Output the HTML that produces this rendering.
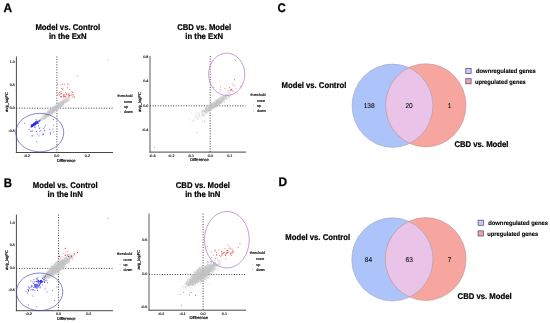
<!DOCTYPE html><html><head><meta charset="utf-8"><title>Figure</title>
<style>html,body{margin:0;padding:0;background:#fff}body{width:550px;height:323px;overflow:hidden}svg{display:block}text{font-family:"Liberation Sans",sans-serif;fill:#000;text-rendering:geometricPrecision}.b{font-weight:bold}.t{font-size:8.35px;font-weight:bold;text-anchor:middle;stroke:#000;stroke-width:0.22px}.p{font-size:12.4px;font-weight:bold;stroke:#000;stroke-width:0.25px}.s{font-size:3.65px;fill:#000;stroke:#000;stroke-width:0.15px}.a{font-size:4.1px;fill:#000;stroke:#000;stroke-width:0.18px}.n{font-size:7.05px;text-anchor:middle;fill:#111;stroke:#111;stroke-width:0.12px}.l{font-size:6.2px;font-weight:bold;stroke:#000;stroke-width:0.12px}</style></head><body>
<svg width="550" height="323" viewBox="0 0 550 323">
<rect width="550" height="323" fill="#fff"/>
<text class="p" transform="translate(3.4 12) scale(0.96 1)">A</text>
<text class="t" transform="translate(67.8 29.9) scale(0.925 1)">Model vs. Control</text><text class="t" transform="translate(67.8 38.9) scale(0.925 1)">in the ExN</text>
<path d="M16.4 56.5V152.9" stroke="#333" stroke-width="0.9" fill="none"/>
<path d="M15.9 152.5H113.0" stroke="#333" stroke-width="0.9" fill="none"/>
<g stroke="#2a2a2a" stroke-width="0.85" stroke-dasharray="1.05 1.52" fill="none"><path d="M56.9 56.5V152.5"/><path d="M16.4 108.2H112.8"/></g>
<text class="s" x="27.0" y="157.1" text-anchor="middle">-0.2</text>
<text class="s" x="56.7" y="157.1" text-anchor="middle">0.0</text>
<text class="s" x="87.4" y="157.1" text-anchor="middle">0.2</text>
<text class="s" x="14.8" y="62.5" text-anchor="end">1.0</text>
<text class="s" x="14.8" y="85.8" text-anchor="end">0.5</text>
<text class="s" x="14.8" y="108.8" text-anchor="end">0.0</text>
<text class="s" x="14.8" y="132.0" text-anchor="end">-0.5</text>
<text class="a" x="66.3" y="161.5" text-anchor="middle">Difference</text>
<text class="a" transform="translate(8.4 102.0) rotate(-90)" text-anchor="middle">avg_logFC</text>
<text class="s" x="117.6" y="96.9">threshold</text>
<circle cx="120.5" cy="101.7" r="0.45" fill="#ccc"/>
<text class="s" x="124.0" y="103.0">none</text>
<circle cx="120.5" cy="106.8" r="0.45" fill="#e8524a"/>
<text class="s" x="124.0" y="108.1">up</text>
<circle cx="120.5" cy="112.0" r="0.45" fill="#5a5ae0"/>
<text class="s" x="124.0" y="113.3">down</text>
<path d="M53 111.1h0M52.6 110.1h0M47.5 114.2h0M63 103.2h0M62.3 103.5h0M57.5 107.1h0M42.9 119.4h0M58.6 106.7h0M40.7 116.9h0M47.6 113.7h0M56.7 107.3h0M57.8 105.5h0M57.1 107.8h0M51 114.6h0M59.5 107.2h0M49.4 111.9h0M51.9 110.9h0M59.3 105.8h0M50.5 110.7h0M51.6 113.3h0M48.8 113.9h0M56.5 105.1h0M55.9 110.2h0M39.4 120.2h0M53.1 108.9h0M58.1 106.2h0M44.4 118.3h0M60.2 106.3h0M65.4 101.3h0M54.3 107.1h0M58.5 105h0M50.2 110.4h0M47 114h0M62.4 99.7h0M44 117.6h0M65.6 101.5h0M38.5 117.3h0M56.5 106.3h0M47 116.5h0M62.7 103h0M56.7 108.2h0M66.7 100.7h0M58.7 106.7h0M44 119.3h0M61.9 104.2h0M39.5 119.6h0M59.3 102.5h0M54 111.2h0M46.1 118.2h0M58.4 105.8h0M57.4 107.9h0M56.3 109.6h0M49.3 112.4h0M62.2 103.2h0M48.8 115.1h0M64.9 100.3h0M44.3 116.8h0M53.2 109.6h0M64 100.1h0M62.8 100.6h0M49.2 114.2h0M63.5 103.6h0M57.2 107.3h0M56.1 108.8h0M53.4 110.4h0M58.7 105.9h0M60.6 105.4h0M69.5 98h0M51.1 111.1h0M55.1 110.1h0M52.3 111.4h0M66 96h0M46.4 115.7h0M57.6 107.1h0M51.9 112.2h0M56.2 107h0M56.7 106.5h0M53.6 109.4h0M51.9 106.6h0M51.7 112.9h0M45.9 115.7h0M62.2 104.6h0M64.1 98.9h0M51.6 110.8h0M59.9 106.7h0M61.4 101.4h0M58.3 103.7h0M56.7 109.3h0M53.6 110.1h0M60.5 104.7h0M55.1 111.2h0M62 102.9h0M46.8 116.5h0M52.7 110.7h0M59.9 105.3h0M58 103.9h0M43.9 118.3h0M46.6 113.5h0M44.7 118.7h0M61.2 106.4h0M47.6 114.4h0M46.7 116.4h0M65.5 99.2h0M66.8 101.3h0M51.6 108.1h0M64.8 101h0M50.4 112.9h0M58.7 108.3h0M47.9 116.1h0M66.6 102.2h0M52.6 109.4h0M62.1 103.4h0M56.5 109.9h0M50.7 108.2h0M50.2 109.4h0M60.8 104.8h0M50 112.6h0M60.7 104.5h0M64.2 101.5h0M63.3 104.7h0M65.8 99.3h0M59.5 102.2h0M45 113.2h0M61.4 101.8h0M54.3 109h0M53.8 108.7h0M57.6 109.6h0M55.2 109.4h0M61.7 103.2h0M44.8 115.7h0M61.1 101.3h0M50.9 113.5h0M60.3 104.6h0M60.6 104.7h0M44.6 114.2h0M50.5 113.7h0M49.6 111.4h0M47.6 111.9h0M52.7 108.6h0M55.3 104.6h0M56.4 106.6h0M40.8 120.9h0M50.7 108.4h0M48.3 114.4h0M51.7 112.5h0M60.5 105.5h0M58 108.6h0M59.7 105.8h0M39.9 121.8h0M63.9 101.4h0M52.6 113.8h0M42 119.6h0M48.2 115.1h0M68.3 98.3h0M59.3 106.8h0M47.8 114.1h0M57.3 108.3h0M54.1 109.1h0M46.7 114.5h0M61.1 104.1h0M47.6 113.1h0M63.4 103.3h0M59.4 106.1h0M67.2 100h0M54.4 110h0M41 121.2h0M56.3 106.5h0M65.7 103.4h0M43.7 116.4h0M56.8 107.6h0M50.8 110.4h0M70.9 98.1h0M44.7 114.5h0M67.8 100.5h0M68.5 99.6h0M48.3 114.3h0M38 120.6h0M54.5 110h0M49.1 113.1h0M58.2 106.9h0M59.4 105.7h0M52.7 111.7h0M54.2 108h0M49.9 112.6h0M53.8 109.9h0M54.6 109.3h0M52.5 108.6h0M58.4 107.8h0M57.5 106.4h0M57 105.6h0M40.6 119.9h0M48.2 115.1h0M44.4 112.5h0M48.1 116.6h0M50.6 109.9h0M49.3 114h0M58.3 106.5h0M66 101.4h0M54.8 109.8h0M67.4 100.7h0M61.2 102.2h0M54 110.7h0M53.2 111.9h0M59.6 106.7h0M55 112.9h0M63.4 101.8h0M57.2 111.3h0M52.7 111.9h0M61.7 103.5h0M46.1 115.9h0M58 108.2h0M60.3 104.7h0M61.2 104.8h0M56.1 108h0M53.3 111.2h0M46.3 114.4h0M53.4 107.6h0M49.7 109.5h0M49.9 113.6h0M58.6 105.8h0M51.7 109h0M68.3 99.3h0M61.8 102h0M51.7 108.3h0M61 105.6h0M40.5 119.8h0M57.7 103.7h0M40.2 118.4h0M48.8 111.2h0M54.9 109.2h0M59.7 106.2h0M66.5 101.8h0M44.5 116h0M45.9 114h0M53.9 109.6h0M56.8 104.7h0M45.4 116.1h0M52.8 109.9h0M53.4 108.7h0M59.9 105.5h0M53.3 108.9h0M51.1 107.3h0M47.3 114.7h0M43.6 117.8h0M54.5 106.8h0M52.4 110.2h0M58.4 107.1h0M53.6 108.4h0M53.4 109.9h0M60.1 105.2h0M48.1 111.8h0M51.2 110.5h0M46.2 115.3h0M51 112h0M58 105.7h0M71.3 95.6h0M62.7 103h0M60.8 100.3h0M49.2 113.6h0M60.8 108.1h0M57.9 108.6h0M60.9 105.7h0M58.1 106h0M57.4 105.1h0M62.4 101.4h0M58 109.9h0M52.9 110.4h0M63.1 102.5h0M48.8 113.9h0M59.3 106.5h0M50.2 115.3h0M66.8 99.7h0M56.1 107.1h0M64.3 100.4h0M59.1 104.8h0M50 113.8h0M64.3 101.5h0M50.2 113.8h0M54.4 109.7h0M66.6 101.6h0M52.5 114.4h0M55.1 109.9h0M49.7 112.7h0M43.1 120.9h0M63.6 100.1h0M42.1 116h0M62.8 102h0M53.8 109.1h0M52.7 108.7h0M53.5 107.5h0M54.2 109.8h0M57.8 106.2h0M48 114.4h0M52.2 113.5h0M60.1 104.6h0M50.5 111h0M47.3 114.1h0M57.1 108h0M60.3 108h0M49.3 113.1h0M40.4 119.1h0M55.9 108.3h0M57.3 106.5h0M57.2 107.1h0M58.7 102.8h0M48 114.1h0M46.1 113.9h0M58.6 104.9h0M59.8 106.3h0M57.2 107.9h0M52.6 108.2h0M54.6 109.7h0M50.5 112h0M59.3 103.9h0M60.7 107.4h0M50.5 112.4h0M54.6 111.5h0M57.5 108.2h0M49.4 113h0M53 107.3h0M65.8 101.9h0M42.2 119.8h0M53.9 110.3h0M56 105.5h0M54.1 111.8h0M49.5 111.3h0M43.5 115.6h0M58.3 108.9h0M57.9 106.9h0M70.5 95.9h0M50 113.5h0M57.7 104.9h0M46.1 116h0M55.3 106.4h0M52.6 109.7h0M57.8 106.4h0M53.6 109.2h0M63.3 104.6h0M52.5 112.1h0M49 113.5h0M61.2 106.4h0M51.6 111.2h0M54.8 106.4h0M54.1 108.3h0M56.3 105.8h0M40 120.3h0M56 107.1h0M60.8 103.8h0M50.4 113h0M42.4 117.3h0M55 110.1h0M53.5 110.3h0M49.9 113.1h0M66.2 99h0M71.4 95h0M54.8 109.2h0M61 102h0M39.5 121.6h0M60.8 105.2h0M56.2 108.2h0M61.6 104.2h0M65.7 98.4h0M49 107.7h0M60.2 104.1h0M63 106.1h0M54.3 108.9h0M50.2 111.1h0M50.4 113.3h0M54.8 109h0M54 111h0M58 106.2h0M59.3 105.2h0M47.2 117.1h0M57.2 105.5h0M62.7 103.3h0M44.3 119.6h0M57.7 108.1h0M55.8 107.8h0M43.9 118.9h0M54.5 108.6h0M57.1 107.2h0M59.2 104.9h0M52.5 107.1h0M51.9 112.2h0M64 101.1h0M54.9 111.4h0M52.7 111.7h0M66.9 99.6h0M63 101.4h0M56 107.8h0M56.2 109.6h0M49.2 112.3h0M57.3 105.2h0M58.6 106.9h0M52.9 111.2h0M43.7 118.7h0M42.6 117.1h0M50.1 111.8h0M60.9 104.3h0M52 111.9h0M66.1 100.1h0M58.2 108.3h0M55.4 106.3h0M69.2 94.5h0M54.5 109.8h0M62.1 104.3h0M51.7 109.6h0M56.1 109.6h0M45.7 114.2h0M52.8 107.2h0M52.2 110.1h0M57.3 105.8h0M47.7 113.7h0M53.6 108.7h0M55.2 109.8h0M64.6 104.1h0M48.4 113.1h0M67.9 97.6h0M54.7 109.8h0M44.9 117.3h0M52.9 107.4h0M57.6 108.7h0M41.4 120.5h0M56.4 108.4h0M58.8 107.9h0M53.5 111.3h0M52.1 112.2h0M48.4 113.6h0M67.6 99.7h0M52.4 108.8h0M48.8 113.8h0M61.7 104.2h0M58.3 106.1h0M64.1 101h0M51.2 113.1h0M54.7 108.5h0M50.1 112.1h0M59.4 105.9h0M45.9 116.4h0M55 107.1h0M60 104.4h0M52.7 111.8h0M63.7 100.9h0M57 105.7h0M71.1 95.5h0M62.8 101.7h0M62.2 106.8h0M51.7 112.1h0M53.3 108.9h0M70.4 97h0M43.1 119.3h0M42.8 120h0M50.4 112.5h0M63.9 102.1h0M42.9 115.2h0M63.8 103.2h0M49.2 114.6h0M58.7 107h0M37.7 121.6h0M61.7 104.7h0M59 101.6h0M56.1 108.6h0M47.2 114.2h0M55.5 109.8h0M52.2 112.8h0M48.9 113.8h0M50.7 112.3h0M48.2 111.4h0M62.8 103.2h0M50.6 112.5h0M61 102.5h0M54.1 110.3h0M58.1 105.8h0M40 122.3h0M56.9 107.3h0M52.7 111h0M50.6 110.5h0M48.6 112.7h0M49.1 111.4h0M58.1 104.1h0M58.5 104.3h0M58.2 108.5h0M55.4 107.2h0M55 109h0M41.3 118.3h0M55.3 107.7h0M55.7 109.4h0M60.9 105.7h0M58.6 105.5h0M54.1 108.9h0M52.1 110.7h0M41.6 118.5h0M53.5 108.2h0M54.7 109.8h0M54.9 112.2h0M51.5 108.4h0M63.8 106.3h0M55.9 108.9h0M52.7 111.4h0M38.7 122.7h0M57.3 107h0M50.7 113.1h0M51.1 112.1h0M49 109.7h0M54.4 109.5h0M59.3 103.9h0M54.7 109.9h0M56.6 109.6h0M68.4 96.9h0M41.1 120.9h0M66.5 101.4h0M60 103.8h0M50 114.1h0M46.4 112.4h0M49.1 117.3h0M68.1 97.5h0M49.3 113.5h0M50 114.7h0M53.1 108.4h0M63.7 101.1h0M56.1 107.8h0M52.4 111.2h0M47.9 111.1h0M37.3 120.3h0M48.9 113.4h0M55.3 109.4h0M54.8 107.6h0M47.6 110.9h0M53.6 110.6h0M58.3 106h0M54 111.1h0M55.2 109.8h0M59 106h0M63.6 101.1h0M51.2 110.3h0M49.9 115.2h0M67.4 99.1h0M59.6 107.1h0M61.4 105.8h0M44.7 115.6h0M59 108h0M54.6 107.6h0M51.4 110.4h0M49.4 115.5h0M49.9 112.7h0M71.3 98.1h0M56.5 106.6h0M58.8 108.4h0M60.1 106.9h0M55.6 109.1h0M53.4 110.7h0M62.9 100.3h0M54.2 109.7h0M50.1 112h0M61.9 106.7h0M59.4 105.9h0M44.6 119.9h0M55 108.6h0M46.2 115.4h0M46.5 115.4h0M58 106.5h0M55.9 106.6h0M64.5 100.3h0M41 119.2h0M48.1 112.4h0M52.1 111.4h0M45.7 115.7h0M65.5 101.7h0M53.5 110.1h0M53.6 109.7h0M59.8 104.9h0M53.6 108.3h0M58.8 104.8h0M57.3 110.5h0M45.9 113.9h0M42.2 114.6h0M41 120.1h0M48.3 110.8h0M44.1 118.1h0M48.5 113.1h0M58 108.6h0M69.6 99.2h0M55.7 108.5h0M68.9 100.4h0M52.6 111.3h0M56.7 107.5h0M49.8 110.6h0M49.3 110.5h0M63.9 102.7h0M46.7 117.4h0M59.5 102.1h0M68.7 99.5h0M68.7 96.1h0M58.7 106.5h0M56.1 108.1h0M61.1 101.6h0M44.3 114.7h0M49.9 111.6h0M57.4 107.3h0M54.2 108.2h0M52 112.6h0M60.2 104.9h0M53.4 112.5h0M50.6 113.1h0M62.8 102.3h0M59.7 103.3h0M62.1 103.6h0M43.4 118.8h0M49 115.5h0M49.4 112.8h0M56.3 107.2h0M56 107.1h0M59.4 105.3h0M53.9 105.1h0M63.1 102.5h0M41.5 119.3h0M58.8 107.6h0M47.8 116.8h0M55.2 112.5h0M54 110.6h0M50.9 110h0M63.3 103.8h0M66.5 101.3h0M49 110.6h0M49.2 112.1h0M49 114.3h0M56.7 107h0M55.7 108h0M56.7 108.7h0M61 103h0M44.6 119.1h0M56.2 109.6h0M42.2 118.1h0M53.6 107.5h0M51.3 112.8h0M63.7 104.6h0M47 112.6h0M59.1 107.1h0M54.9 106.7h0M60.9 105.5h0M58.2 105.5h0M57.4 108.2h0M48.9 110.4h0M57.3 107.7h0M55.3 109.9h0M50.1 112.3h0M52.7 111.4h0M66 99.8h0M70.8 99h0M60.8 105.2h0M67.4 98.9h0M52.8 108.6h0M59 107.8h0M58.7 106.5h0M53.2 110.4h0M44.9 118.3h0M50.6 110.3h0M48.3 112.5h0M61.6 105.3h0M45.3 117.8h0M60.6 103.5h0M43 116.8h0M50.1 113h0M50.3 109h0M55 106.2h0M60.2 102.7h0M48.7 112.1h0M51.5 113.5h0M61.2 104.9h0M55.6 105.7h0M50.2 111.5h0M47.7 115.2h0M48.5 112.6h0M45.2 112.9h0M59.9 107.1h0M55 107.1h0M56.7 109.4h0M57.4 108.4h0M66.3 101.9h0M52.1 112.7h0M59 103.1h0M50.4 109.9h0M54.2 110.3h0M45 113h0M64.3 102.1h0M64.3 99.4h0M63.9 105.2h0M69.1 97.5h0M56.4 107.4h0M62.7 104.5h0M54.1 107.2h0M59.6 104.4h0M59.3 105.8h0M67.3 101.1h0M51.5 112h0M67 98.5h0M58.6 107.9h0M64.1 102.5h0M43.8 115.3h0M56.6 108.1h0M49.1 115.2h0M58.8 103h0M48.6 113.9h0M50.7 111.7h0M57.3 105.6h0M57.4 105.8h0M50.9 112.7h0M50.5 112.6h0M66.3 100.1h0M54 110.7h0M52.7 112.3h0M45.6 117h0M50.1 111.2h0M66.8 98.2h0M67.9 99.8h0M64.4 99.9h0M64.5 103.8h0M53.5 109.6h0M55.5 107.7h0M50.2 113.1h0M57.1 107.4h0M66.9 99h0M59.1 107.9h0M47.9 115.9h0M66.9 97.3h0M45.6 114.3h0M41.3 120h0M41.3 120.1h0M63.9 99.2h0M50.7 108.9h0M59.6 103.9h0M52.6 110.7h0M58.2 105.7h0M54.2 108.5h0M54.4 107.2h0M53.4 106.8h0M52.4 113.9h0M54.1 107.4h0M55.6 106.6h0M41.8 117.7h0M60.2 105.3h0M53.1 108.7h0M47.6 116.6h0M55.5 106.7h0M37.9 119.7h0M46 115.5h0M55.9 107.7h0M51.4 109.3h0M48.1 116.8h0M49.6 114.3h0M41.8 118.4h0M57.2 108.7h0M46.7 116.1h0M56.8 106.2h0M57.3 105.5h0M48.6 113.6h0M52.9 108.7h0M43.4 117h0M59.8 104.4h0M62.9 100.7h0M46.1 118.1h0M58.2 107.8h0M49.1 114.6h0M56.9 108.3h0M55.6 110.2h0M49 111.8h0M44.6 118.7h0M48.2 112.2h0M47.2 114h0M44.9 116h0M49.5 112.1h0M47.5 114.6h0M51.2 111.8h0M56.6 108h0M38 121h0M49.3 114.4h0M42.3 117.3h0M52.1 110.4h0M61.4 103h0M60.4 102.1h0M42.1 120.6h0M58.1 107.1h0M55.8 108.9h0M46.3 117h0M51.4 113.1h0M53.6 106.6h0M45.9 117.6h0M53.2 109.5h0M55.9 107.3h0M50.6 112.3h0M56.8 109.8h0M56.3 110.8h0M69.1 100.6h0M62.4 103.2h0M55.4 108.2h0M49.1 113.2h0M51.1 114.4h0M58.1 105.6h0M40.4 119.9h0M50.6 110.3h0" stroke="#c4c4c4" stroke-opacity="0.35" stroke-width="1.0" stroke-linecap="round" fill="none"/>
<path d="M47.7 111.9h0M58.4 106.1h0M55 108.6h0M63.4 102.5h0M56 107.6h0M52.7 112.3h0M61.8 105.5h0M53.3 110.1h0M50.9 113.1h0M47.8 115h0M62.1 104.9h0M50.6 113.4h0M50.9 111.1h0M48.5 115.1h0M64.1 101.1h0M50.8 111.6h0M60.5 103.9h0M44.9 115.8h0M62.9 104.8h0M53.4 109.2h0M51.4 109.4h0M59.7 103.9h0M60.2 102.8h0M48.3 114.2h0M51.4 112.4h0M54.7 107.7h0M59.2 106.5h0M45.6 118.1h0M58.4 107h0M44.5 116.1h0M53.9 110.9h0M46.6 114.2h0M43.8 117.1h0M56.2 105.9h0M52.2 111.5h0M64.4 102.3h0M52.9 109.1h0M49.7 112.1h0M56 107.9h0M64.7 101.7h0M50.1 114.3h0M60.6 104.6h0M50.2 110.4h0M50.1 113.6h0M50.1 111.1h0M56.5 107.9h0M59 106.5h0M62.6 102h0M60.2 103.7h0M59.2 105.8h0M57.1 108.2h0M55.8 109.5h0M60.2 104.9h0M51.7 110.5h0M52.2 110.7h0M56.7 110.8h0M59.2 106.4h0M50.1 111.8h0M53.6 110.1h0M50.4 114.2h0M52.7 111.8h0M42.2 118.6h0M56.9 107.5h0M58.8 106.2h0M55.1 106.6h0M50 110h0M58.9 106.1h0M53.7 108.9h0M53 112.4h0M64.9 101.1h0M61.5 101.9h0M44.2 116.5h0M50.1 111.9h0M58 110h0M51.6 111.5h0M56.8 107.4h0M61.4 105.9h0M48.4 114h0M54 110h0M45.8 113.9h0M42.6 118.9h0M56.4 107.8h0M41.9 118.5h0M50.3 110.8h0M50.5 113h0M58.3 106.3h0M57.8 106h0M55.7 108.3h0M58.3 106.2h0M54.4 109.1h0M52.9 113h0M58.3 106.7h0M68.8 99.8h0M47 115.8h0M60.9 106.4h0M63 103.5h0M48.2 113h0M57 107.8h0M49.4 112.7h0M53.1 110.4h0M57 107h0M49 114.8h0M64.1 101.7h0M61.2 104.5h0M59.2 106.1h0M51.3 112.3h0M60.4 103.6h0M67.3 101.7h0M66.5 102.2h0M59.2 105.2h0M51.5 110.6h0M55.9 108.1h0M57.9 104.3h0M69.4 100.3h0M55.5 109.2h0M58 106.8h0M54 109.4h0M50.8 112.3h0M55.3 108.9h0M50.5 112.3h0M55.8 108.8h0M49.6 113.5h0M61 104.8h0M52.9 109.8h0M54.3 110.1h0M63.8 101.8h0M51.9 111.6h0M55.9 107.1h0M51.1 111.7h0M58.3 104.9h0M49.9 113.3h0M48.5 113.9h0M57.1 107h0M49.6 112.9h0M53.6 110.3h0M51.2 113h0M45.8 115.7h0M55.8 109.3h0M52.2 111.6h0M52.5 111.6h0M64.7 100.9h0M57.2 106h0M61.3 105.3h0M54.8 107.6h0M58.1 107.7h0M61.8 104.5h0M44.7 116h0M62.5 101.6h0M62.6 105.1h0M60.1 106.1h0M52.7 109.2h0M54.6 108.9h0M55.4 109.3h0M54.6 109.4h0M57.6 106.8h0M65.8 101h0M55.6 108.1h0M52.5 112.2h0M55.5 107.2h0M52 110.9h0M53.4 111.3h0M49.1 113.9h0M55.4 107.1h0M55.5 108.3h0M57.8 106.1h0M56 106.1h0M49.7 113.8h0M61 104.1h0M52.5 111.9h0M43.2 117h0M59.3 106.2h0M48.5 111.7h0M63.4 102.5h0M50.3 112.5h0M58.8 102.9h0M61.8 104.4h0M44.1 118.1h0M46 117h0M58.7 108.5h0M51.9 111.2h0M60.7 103.7h0M51.1 111.4h0M54.3 108.1h0M58.2 106.9h0M56.6 109.5h0M54.1 110.9h0M52.6 111.5h0M44.6 117h0M54 109h0M51.7 111h0M50 110.1h0M51.6 110.8h0M51.8 110.1h0M54.9 109.7h0M53.6 109.3h0M63.3 103.5h0M61 105.5h0M53.4 109.9h0M61.1 103.4h0M54.8 109.4h0M57.2 106.8h0M60.6 104.3h0M59.9 106.3h0M59.3 106.3h0M48.1 112.6h0M52.1 111.6h0M62.9 101.3h0M56.5 106.7h0M51 111.5h0M59.2 105.8h0M61.3 102.8h0M60.7 105.5h0M55.9 108.6h0M51.5 110.2h0M52.6 109.9h0M53.5 111.9h0M56.5 108h0M59 104.9h0M60.6 104.9h0M47.1 115.5h0M58.6 106.6h0M63.8 101.5h0M58.5 106.9h0M50.9 113.3h0M46.5 113.9h0M57.6 105.6h0M53.7 107.9h0M55 107.5h0M56.3 106h0M57.6 106.5h0M55.6 108.3h0M55.3 107.1h0M54.9 107.8h0M53 110.9h0M43.8 116.6h0M51.3 110.5h0M57 107.1h0M50.1 111.4h0M59.4 104.7h0M58.8 106.4h0M44.1 115.9h0M55.5 108.8h0M60 105.8h0M60.8 103.9h0M54.5 110.1h0M53.5 111.2h0M46.8 115.9h0M53.2 107.9h0M60.9 104.6h0M54.8 107.7h0M53.5 111.7h0M48.7 109.7h0M49.8 111.4h0M54.3 108.9h0M49.7 111.9h0M60.3 103.1h0M65.8 99.8h0M49.6 113.8h0M57.8 105.4h0M58.4 104.1h0M50.7 113.4h0M53.1 108.8h0M58.6 107.1h0M54.1 107.4h0M53.6 110.4h0M60.5 106.6h0M53.6 109.3h0M55.7 109.6h0M50.7 113.6h0M59.3 104.7h0M58.2 107.1h0M48.6 113.6h0M56.9 108h0M49.5 111.9h0M45.9 118.7h0M54.1 109.3h0M47.4 115.7h0M53.1 111.9h0M60 105h0M58.7 104.7h0M53.1 109.6h0M48.2 114.1h0M55.2 110.2h0M51 110.8h0M52.9 110.9h0M57.5 106.9h0M52.9 111h0M56.2 105.7h0M53 108.7h0M48.8 113.8h0M55.6 108.4h0M50.3 112.2h0M50.4 112.8h0M60 106.9h0M61.9 102.6h0M52.2 109.9h0M58 108.7h0M58 104h0M47.5 113.1h0M58.1 106.4h0M57.9 108.6h0M50.2 111.5h0M66.4 100.4h0M49.8 110.5h0M45.4 113.4h0M55.7 108.3h0M60.7 104.2h0M51 111h0M64.9 99.2h0M56.2 107.9h0M58.5 105.7h0M58.5 107h0M54.2 108.9h0M53.7 108.7h0M53.9 109.3h0M57.2 108.7h0M62.3 102.7h0M58.8 106.2h0M59.5 105.4h0M56.5 107.1h0M51.4 112.6h0M62.8 103.5h0M57.8 106.9h0M51.8 109.3h0M59.1 105.9h0M51.6 110.3h0M61.4 101.8h0M65.4 101.5h0M68 97.9h0M54.9 108.3h0M56 107.8h0M51.7 112.6h0M50.6 111.6h0M58 105.8h0M53 110.7h0M52.5 109.3h0M54.6 108.9h0M64.1 100.5h0M60.2 103.9h0M53.1 109.9h0M57.2 108.1h0M64.6 100.6h0M63.2 103.6h0M59.4 104.6h0M60.2 104.7h0M57.1 106.9h0M59.6 106.6h0M61.4 103.6h0M61.6 105.4h0M50.9 113.7h0M48.1 114.7h0M59.4 107.1h0M56.5 107.1h0M50.1 111.1h0M59.4 105.1h0M51.5 112.1h0M50.8 111.6h0M53.6 111.7h0M63.3 102.2h0M46.7 115.5h0M55.8 108.5h0M58.2 105.9h0M60.9 105.2h0M56.2 107.4h0M53 111.2h0M49 113.2h0M50.3 110.8h0M58.6 106h0M55.9 109.1h0M46.9 115h0M57.3 108h0M49.6 113.8h0M57.2 108.6h0M61.9 104.1h0M67.2 99.4h0M52.7 110.2h0M50 112.6h0M44.8 116.6h0M58.2 107.5h0M54.1 111.1h0M51.6 111.3h0M44.4 116.1h0M51.6 113h0M57.5 105.6h0M58.4 106.7h0M54 109.6h0M53.3 109.5h0M45.6 116h0M63 104.2h0M53.3 109.2h0M54.6 110.1h0M56.8 106.7h0M57.1 106.9h0M57.8 106.2h0M47.3 114.8h0M58.8 104.7h0M55.1 109.7h0M52.9 109.7h0M66.7 100.7h0M60.3 103.7h0M63.2 100.6h0M52.8 111.3h0M62 102.4h0M51.8 111.5h0M45.1 117.1h0M58 106h0M58.6 106.9h0M57.2 107.7h0M63.2 102h0M55.8 107.6h0M60.6 104h0M57.9 106.7h0M56.5 109.5h0M55.5 109.9h0M60.4 106.1h0M54.9 109.9h0M59 105h0M56.6 107.4h0M55.7 109.6h0M50.5 110.4h0M45.6 115.5h0M51.8 111.3h0M59.2 107.5h0M57.2 107.6h0M51.6 112h0M63.3 103.9h0M45.2 117.3h0M64.2 102.6h0M47.1 114.6h0M58.6 106.5h0M50.4 111.3h0M59.7 103.7h0M62.9 102.7h0M56.2 106.4h0M52.4 111.5h0M48.5 116.1h0M47.1 113.5h0M55.7 108.8h0M59 105.3h0M54 109.3h0M50.8 109.2h0M60.5 104.8h0M55.8 107.5h0M56.6 107.6h0M55.4 109.7h0M46.2 115.9h0M49.4 112.8h0M62.7 101.7h0M54.4 108.6h0M59.8 104h0M46.5 115.9h0M53.2 109.8h0M60.6 103.5h0M53.3 110.2h0M57.2 106.5h0M62 105.9h0M54.1 111.6h0M44.7 118.2h0M53.5 110.1h0M53.1 109.6h0M48.2 113.6h0M62.8 104h0M53.1 109.7h0M50.9 110.7h0M65.2 101.6h0M55.6 107.8h0M50.5 113.7h0M58.9 104.7h0M60 103.8h0M58.2 105.3h0M53.3 110.6h0M58.1 107.5h0M51.6 113.1h0M62.4 103.1h0M57.3 106.2h0M53.7 108.3h0M55.8 108.4h0M62.9 103.7h0M59.4 105h0M53.9 109.3h0M55.4 106.4h0M58.5 104.4h0M52.5 110.7h0M53.4 111.9h0M55.6 110.1h0M61.3 103.4h0M58.1 107.8h0M53.5 110h0M52.3 110.9h0M53.4 110.1h0M61.3 105.4h0M56.1 108.2h0M59.7 104.9h0M50.2 113.7h0M50.7 113.1h0M51.1 113.8h0M50.1 113.5h0M62.8 101.8h0M62.8 101.9h0M46.2 116.4h0M58.9 105.6h0M54.8 108.6h0M53.1 110h0M45.4 115.6h0M65.7 102.3h0M52.9 109.6h0M57.9 107.7h0M58.5 104.8h0M56.2 108h0M63.6 103.5h0M58.7 107.3h0M53.9 111.3h0M53.2 110.6h0M59.7 104.2h0M50.6 110.3h0M56.1 107.9h0M53.8 110.3h0M43.9 117.3h0M55.6 108.1h0M60.4 106.5h0M52.4 109.8h0M52.1 111.1h0M57.9 105.6h0M60 103.8h0M59.9 105.5h0M58.9 108.2h0M53.8 109.6h0M58.2 107.2h0M48.2 114.3h0M51.6 112.1h0M62.6 103h0M54.8 109.2h0M59.7 105.8h0M55.9 107.7h0M51.3 111.5h0M61.7 103.5h0M61.1 101.3h0M52.9 110.7h0M54.3 107.5h0M52.4 112.2h0M47.8 113.2h0M49.1 112.7h0M59 106.4h0M45.2 117.9h0M51.8 110.6h0M64.1 101.7h0M48.3 113.3h0M50.8 110.9h0M53.9 110.6h0M56.4 106.2h0M50 112.8h0M55.8 109h0M53.7 110.3h0M66.6 100h0M49.6 113.3h0M50.8 111.6h0M56.4 108.1h0M54.2 110.4h0M53.5 108.5h0M59.7 104.7h0M61.4 103.2h0M58.5 106.5h0M46.7 114h0M61.8 101.5h0M60.7 105.6h0M58.3 107h0M52.6 110.6h0M56.7 108h0M58.9 105.6h0M51.2 111.1h0M56.6 105.8h0M48.3 113.5h0M52.2 110.7h0M53.3 109.8h0M58.4 104.1h0M53.9 110.2h0M58.5 107.4h0M60.3 103.5h0M58.5 105.8h0M51.8 113h0M51.4 110.6h0M52.6 109.7h0M60.8 104.7h0M63 103.1h0M52.5 111.9h0M51.5 111h0M54.4 109.3h0M61.3 103.3h0M57.1 107.1h0M47.9 113h0M54.3 109.8h0M57.2 107.6h0M55.3 108.1h0M57 106.2h0M47.9 113.9h0M47.3 114.1h0M51 111.3h0M54.6 108.2h0M52.1 109.2h0M55.6 107.4h0M55.9 105h0M51.1 112.1h0M42 118.4h0M55.8 108.3h0M47.3 114.9h0M55.5 107.3h0M59.2 105.5h0M55.1 108.2h0M58.2 106.4h0M61.6 104.2h0M51.8 111h0M60 104.6h0M57.6 107.4h0M53 107.7h0M56.1 108.2h0M55.6 107.5h0M61.7 103.5h0M51.5 110.7h0M56.6 106.4h0M50.9 114.1h0M62.9 103.9h0M62.9 103.4h0M46.8 116.4h0M62.2 103.8h0M45.4 117.6h0M62.3 102.6h0M56.4 108.6h0M55.4 109.7h0M56.1 108.7h0M54.9 107.2h0M51.6 114.9h0M57.5 108.3h0M62.3 105.1h0M57.9 105.9h0M54.3 107.2h0M54.7 110h0M43.7 117.7h0M60.4 106.1h0M49.9 112h0M44.6 115.7h0M59.2 107.8h0M49.8 114.3h0M57.3 106.5h0M65.8 97.7h0M55 109h0M67.7 101h0M67.6 99.3h0M61.3 105.5h0M58.2 106.7h0M54 109.1h0" stroke="#c4c4c4" stroke-opacity="0.7" stroke-width="1.1" stroke-linecap="round" fill="none"/>
<path d="M108 59.8h0" stroke="#e03a34" stroke-opacity="0.55" stroke-width="1.1" stroke-linecap="round" fill="none"/>
<path d="M62.9 88.2h0M69.5 89.5h0M74.1 97.1h0M61.1 91.5h0M69.1 97.1h0M65.8 96.3h0M64.5 96.8h0M57.3 84.2h0M62.5 89.6h0M59.1 94.8h0M59.4 95.2h0M60.1 93h0M59.6 92.4h0M65.8 96.8h0M63.2 94.7h0M73.1 95.7h0M60.8 84.9h0M72.5 92.5h0M61.8 96.5h0M61.6 96.9h0M57.8 94.6h0M64.1 94.3h0M63.3 97.2h0M69 93.4h0M66.5 94.3h0M69.1 84.2h0M72.3 92.6h0M64 95.8h0M64.3 84.2h0M63.8 95.4h0M64.2 96.6h0M74.5 97.2h0M67.6 87.8h0M61.5 93.8h0M63.6 96.2h0M60.5 96.8h0M71.8 91.7h0M72.9 97h0M69.1 95.8h0M68.3 94.3h0M62.5 84.4h0M57 92.3h0M71.9 94.6h0M67.4 84.2h0M61.1 93.6h0M70 95.5h0M69.5 95.4h0M66.2 93.8h0M68.9 95.8h0M68 94.4h0M60.9 93.8h0M61.6 88.6h0M65.3 92.6h0M66.1 94.9h0M60.9 96.6h0M73.2 94.5h0M77.2 76.2h0" stroke="#e03a34" stroke-opacity="0.8" stroke-width="1.0" stroke-linecap="round" fill="none"/>
<path d="M31.9 125.9h0M35.5 123h0M37.7 123h0M31.6 126.4h0M36.9 121.2h0M35.4 123.3h0M31.9 126.8h0M35.4 123.2h0M36.3 123.3h0M37.1 122.7h0M35.6 122.6h0M34 124.6h0M40.1 120h0M31.9 124.8h0M35.6 123.4h0M33.4 124.6h0M32.6 125h0M34.6 123.7h0M36.6 122.6h0M35.4 123.8h0M38.3 121.9h0M35.5 123.3h0M32.9 125h0M36.7 122.7h0M33.6 123.9h0M31.3 126.6h0M37.6 122.2h0M31.6 126.1h0M35.3 123h0M35.8 123.1h0M32.6 124.7h0M37.1 122.6h0M32.5 124.9h0M37.4 122.5h0M34.7 125h0M34 123.8h0M37.6 121.8h0M35.9 123.2h0M32.2 125h0M35 124.8h0M33 126.1h0M35.2 122.9h0M35.8 123.6h0M32.1 124.4h0M35.5 122.7h0M35.5 122.2h0M34.4 123.7h0M31.3 126.2h0M35.2 123.3h0M32.2 125.9h0M30.9 127h0M36.7 123.7h0M37.3 122.4h0M35.7 123.4h0M32.2 126.7h0M36.2 122.8h0M32.6 126.4h0M35.9 122.4h0M37.2 123.5h0M35.1 124h0M33.8 124.2h0M38.6 123.3h0M35.2 123.5h0M36.8 122.3h0M37 122.9h0M32.2 125.1h0M35.1 124.3h0M36.1 123.9h0M31.8 126.4h0M33.5 124.9h0M35.5 122.8h0M34.1 123.7h0M35.4 123h0M33.9 124.7h0M33.8 125.4h0M33.7 125.3h0M35.4 122.9h0M34.2 123.8h0M34 124.3h0M39.3 120.5h0M39 121.3h0M31.1 125h0M36 121.8h0M37.1 123h0M35.9 123h0M34.5 124.3h0M34.1 124.1h0M34.5 124.9h0M33.6 125h0M32 125.5h0M31.6 126.1h0M36.8 122.8h0M34 124.9h0M34.3 124.6h0M35.8 123.6h0M32.1 126.4h0M35.4 125h0M34.3 124h0M38.8 121.5h0M39.8 120.8h0M34.7 124.5h0M32.9 124.9h0M33.6 124.7h0M36.8 122.3h0M35.6 123h0M36.3 121.1h0M34.5 124.2h0M32.7 126.1h0M35.9 124h0M37.5 122.4h0M34.3 123.6h0M34.3 124h0M35.5 123.2h0M31.5 127h0M33.8 124.5h0M37.3 122.2h0M32.2 126h0M33.9 123.2h0M35.2 123h0M33.3 125.3h0M39.3 128.6h0M53.8 132h0M32.3 131.1h0M36.1 119.4h0M24.8 123.3h0M53 129.1h0M34.9 127.3h0M44.6 130.1h0M50.2 133.8h0M49.7 129.4h0M39.9 127.9h0M35.7 121.7h0M32.5 125.4h0M32 135.9h0M39 135.9h0M43.6 134.4h0M44.7 127.1h0M43.2 128.4h0M32.9 135.8h0M53.7 125.3h0M50.4 134h0M30.5 131.3h0M39.9 131.8h0M34.3 123.8h0M37.2 134.2h0M43.1 133.2h0M45.5 125.2h0M36.7 131.6h0M44.7 130.8h0M41 130.6h0M53.2 119.5h0M36.8 141.9h0M38.8 121.2h0M38 123.1h0M31.8 131.1h0M50.2 132.2h0M42.2 134.9h0M38.5 125.9h0M36.2 131.6h0M34.9 126.8h0M34.2 122.8h0M29.1 129.6h0" stroke="#2a2ae6" stroke-opacity="0.85" stroke-width="1.0" stroke-linecap="round" fill="none"/>
<ellipse cx="39.75" cy="132.6" rx="24" ry="19.2" fill="none" stroke="#4646b8" stroke-width="0.65"/>
<text class="t" transform="translate(204.2 29.7) scale(0.925 1)">CBD vs. Model</text><text class="t" transform="translate(204.2 38.9) scale(0.925 1)">in the ExN</text>
<path d="M150.0 56.0V152.5" stroke="#777" stroke-width="1.2" fill="none"/>
<path d="M149.4 152.1H246.0" stroke="#333" stroke-width="0.9" fill="none"/>
<g stroke="#2a2a2a" stroke-width="0.85" stroke-dasharray="1.05 1.52" fill="none"><path d="M210.2 56.0V152.1"/><path d="M150.0 105.8H245.5"/></g>
<text class="s" x="152.3" y="156.7" text-anchor="middle">-0.3</text>
<text class="s" x="171.3" y="156.7" text-anchor="middle">-0.2</text>
<text class="s" x="190.8" y="156.7" text-anchor="middle">-0.1</text>
<text class="s" x="210.3" y="156.7" text-anchor="middle">0.0</text>
<text class="s" x="229.7" y="156.7" text-anchor="middle">0.1</text>
<text class="s" x="148.4" y="57.9" text-anchor="end">0.8</text>
<text class="s" x="148.4" y="82.2" text-anchor="end">0.4</text>
<text class="s" x="148.4" y="106.8" text-anchor="end">0.0</text>
<text class="s" x="148.4" y="131.3" text-anchor="end">-0.4</text>
<text class="a" x="199.6" y="161.1" text-anchor="middle">Difference</text>
<text class="a" transform="translate(141.4 102.0) rotate(-90)" text-anchor="middle">avg_logFC</text>
<text class="s" x="250.6" y="95.9">threshold</text>
<circle cx="253.5" cy="100.7" r="0.45" fill="#ccc"/>
<text class="s" x="257.0" y="102.0">none</text>
<circle cx="253.5" cy="105.8" r="0.45" fill="#e8524a"/>
<text class="s" x="257.0" y="107.1">up</text>
<circle cx="253.5" cy="111.0" r="0.45" fill="#5a5ae0"/>
<text class="s" x="257.0" y="112.3">down</text>
<path d="M212.6 106.2h0M224.9 98.3h0M213.8 103.2h0M207.9 110h0M209.3 109.1h0M207.7 109.7h0M215.3 106h0M212 105.9h0M216.7 103.4h0M226.4 96.3h0M211.1 106.6h0M218.4 102.6h0M218.6 99.6h0M227.6 95.9h0M206.8 110.3h0M216 99.9h0M213.9 102.7h0M219.3 104h0M220.9 97.9h0M225.2 99.2h0M212.9 106.8h0M225.2 97.1h0M214.4 103.9h0M221.2 96.6h0M224 96.7h0M220.1 98.3h0M208.1 108.1h0M219.4 98.7h0M218.6 100.9h0M223.3 98.4h0M218.2 102h0M227 95.7h0M216.4 107h0M216.1 105h0M210.1 108.2h0M199.5 115.2h0M209.3 105.7h0M206.2 112.4h0M216.7 100.7h0M226.9 95.2h0M212.7 106.5h0M205.9 107.9h0M210.8 109.4h0M220.3 98.2h0M223.3 98.9h0M218.5 102.2h0M217 101.4h0M208.2 107.9h0M213 107h0M207.9 112.1h0M210.2 106.7h0M220.2 101.8h0M211.8 104.8h0M206.8 107.2h0M223.7 100.5h0M228.2 96.4h0M217.9 103.9h0M221.3 99.8h0M219.2 105.4h0M202.2 110.7h0M209 109.9h0M222.9 98.6h0M219.6 101.3h0M216.6 102.5h0M214.8 104.6h0M224.6 101.9h0M203 113.6h0M215.7 105.7h0M222.9 100.5h0M219.8 99.6h0M204.6 114.4h0M222.5 97.7h0M224.4 99.3h0M198.9 117h0M209.2 110.5h0M209.7 106.8h0M204.2 111.4h0M221.5 99h0M203.9 115.7h0M228.2 96.7h0M210.3 105.6h0M204.2 112.8h0M223.1 97.2h0M214.8 104.2h0M213.6 106.3h0M228.9 94h0M221.7 101.8h0M212.9 105.6h0M206.6 112h0M210.8 106.2h0M214.8 103.2h0M207.6 109h0M225.1 97.3h0M217.4 100.3h0M203.1 115.7h0M211 104.5h0M214.8 105.7h0M202.4 111.5h0M216 102.2h0M221.3 101.9h0M217.7 101.9h0M214.2 104h0M214.4 105.5h0M213.7 107.1h0M211.5 107.5h0M221.2 101.4h0M213 105h0M222.4 100.6h0M217.8 101.2h0M220 102.5h0M214.2 106.1h0M228.5 92.1h0M218.2 100.3h0M205.4 110.6h0M218.8 102h0M205.8 108.2h0M211.2 107.1h0M208 106.6h0M226.4 95.3h0M213.5 104.6h0M211 107.3h0M213.4 106.6h0M205.6 108.2h0M228.4 95.3h0M221.3 102.3h0M218.9 102h0M203 109.8h0M222.3 100.7h0M217.6 99.8h0M199.4 113.2h0M207 110.2h0M209.2 111.2h0M210.2 106.7h0M221.2 100.9h0M209.4 109.7h0M227.3 94h0M212.4 104.4h0M202.1 114.3h0M220.6 102.4h0M216.3 100.1h0M214.3 103.8h0M205.9 108.7h0M220.1 100.6h0M229 95.8h0M202.5 114.5h0M223.7 98.7h0M208 112.3h0M205.8 110.6h0M200.7 111.9h0M204.1 113.8h0M222.9 98.5h0M205.5 110.8h0M216.4 100.9h0M206.9 109.8h0M220 101.3h0M217.1 100.9h0M216.4 101.9h0M213.8 104.6h0M217.7 101.3h0M225.1 97.7h0M219.2 102.8h0M222.6 100.1h0M202.3 112h0M228.4 96.3h0M219.3 102.4h0M210 106.7h0M211.4 109h0M219 104.9h0M220 104.4h0M217.2 100.9h0M227.4 96.7h0M223.5 99.1h0M212.9 106.3h0M206.2 108.4h0M208.4 108.1h0M205.4 110.8h0M218.8 105.5h0M227.8 95.7h0M221 100h0M217.7 102.6h0M211.3 107.2h0M205 112.1h0M212.1 104.6h0M212.9 106.9h0M210.6 108.3h0M220.3 103.7h0M207.3 109.5h0M219.8 103.9h0M217.5 104.2h0M204.2 110.8h0M226.4 96.3h0M229.6 93.3h0M211.7 103.9h0M219.7 101.8h0M229.3 95.1h0M212.1 104h0M215.2 106.1h0M221.2 102.5h0M221.1 100.3h0M219.4 101.8h0M207 113h0M216.8 101.4h0M218 103h0M223.2 101.5h0M220.2 103.7h0M206.8 106.7h0M217.3 103.6h0M216.6 101.5h0M211.9 107h0M222.1 103.6h0M216.6 102.4h0M199.2 117.1h0M214 105h0M208.6 110.1h0M202.4 113.2h0M216.1 104.3h0M224.2 98.1h0M216.4 105.1h0M203.8 111.6h0M216.3 105.4h0M210 109.3h0M216.5 100.8h0M203.3 109.8h0M216.2 104.1h0M220.8 102h0M212 108.5h0M221.2 101.2h0M217.3 100.6h0M216.7 101.5h0M206.3 109.8h0M215.9 103.8h0M211.8 104.9h0M215.7 102.7h0M205.1 111.4h0M225 97h0M208.6 111.3h0M226.9 95.9h0M213.7 105.8h0M216.8 105.1h0M216.6 100.1h0M206.1 108.3h0M218.2 102.5h0M227.5 95.6h0M217.3 103.1h0M217.9 106.7h0M218.3 105h0M223.7 97.5h0M219.6 100.7h0M215.9 104.2h0M214.8 103.8h0M225.9 96.7h0M221.4 103.2h0M220.3 102.8h0M225.8 99.2h0M226 94.5h0M229 95.1h0M202 112.1h0M205.1 111.2h0M203.5 110.4h0M217.2 103.3h0M209.1 108.1h0M214.4 105.1h0M214.8 104.3h0M219.9 98.3h0M211.6 107h0M211.7 105.7h0M212.1 106.9h0M223.7 98.3h0M213.4 106.2h0M211.6 103.3h0M216.6 102.7h0M211.4 108h0M214.8 103.6h0M198 112.9h0M215 104.3h0M218.3 102.7h0M210.5 105.2h0M207.1 109.6h0M207.4 111h0M204 108.7h0M212.1 103.2h0M225.8 95.4h0M214.4 104.4h0M207.7 106.3h0M202.4 114.6h0M224.1 102.3h0M205 112.3h0M215.6 105.6h0M211.9 107.9h0M221.9 100.9h0M225.2 97.3h0M225.4 96.2h0M224.6 93h0M214.4 103.4h0M215.9 105.8h0M220.2 101.1h0M225.9 94.4h0M210.5 110.3h0M215.6 100.3h0M216.4 101.4h0M226.5 98.8h0M212.2 108.7h0M209.8 109.7h0M219 101.5h0M204.6 111h0M198.2 114.9h0M202.8 114.9h0M206.1 106.1h0M219.5 102.1h0M213.2 109.6h0M220.6 100.8h0M207.9 103.9h0M219.2 103.4h0M209.6 105.6h0M213.3 102.6h0M215.7 105.4h0M226 97.5h0M217 104.5h0M224.7 97.3h0M205.6 109.4h0M205.3 109.5h0M214.4 105.5h0M216.2 103.8h0M212.8 106.8h0M222 101.2h0M225.4 96.9h0M214.6 107.8h0M216.8 104h0M213.4 107.3h0M211.3 105.2h0M214.2 104.2h0M220.6 100h0M215.7 103.6h0M216.9 102.1h0M221.7 97.4h0M211.7 105.5h0M219.7 101.4h0M218.2 101.7h0M208.9 106.6h0M212.2 105.4h0M217.3 103.6h0M221.9 99.6h0M208.8 106.8h0M215.7 104.7h0M229.1 95.3h0M229.1 98.3h0M208.5 111.1h0M224.2 100.7h0M215.7 105.7h0M211.5 106.7h0M216.6 106.6h0M214.3 106.7h0M214.9 103.3h0M217.3 104.1h0M210.4 108.7h0M209.2 106.9h0M216.4 103.1h0M206.6 107.2h0M215.4 104.7h0M211.9 107h0M204.4 112.4h0M218.2 102.8h0M210.7 107.6h0M216.8 105.2h0M217.2 103.5h0M210.6 109.1h0M223 98.2h0M219.8 101.8h0M213.6 103.1h0M226 93.7h0M216.8 102.6h0M222.8 98.4h0M215.8 105.1h0M217.8 101.7h0M220.2 101.7h0M221.6 99.1h0M214.3 104.2h0M209.2 108.9h0M219.1 104.3h0M213 106.5h0M223 98.8h0M215.6 104.4h0M209.3 106.6h0M223.1 99.3h0M213.4 103.3h0M216.8 105.4h0M206.1 108.9h0M224.1 100.9h0M225.6 96.3h0M218.6 100.7h0M218.4 101.5h0M217.5 105.2h0M217.2 102.6h0M215.6 104.6h0M211.5 107.2h0M220.6 103.5h0M199.4 112.9h0M206.9 111.5h0M216.5 103.7h0M221 96h0M211.1 101.5h0M215.7 103.1h0M211.8 107.2h0M211.8 108.7h0M215.3 105h0M212.6 107.8h0M210.2 110h0M222 100h0M223.4 101.7h0M224.8 97.9h0M215.5 106.1h0M204.1 110.8h0M218.9 102.9h0M229.6 97.8h0M217.7 103.5h0M205.5 110.6h0M216.7 103h0M215.9 105h0M207.8 108.4h0M203.4 114.4h0M206.1 107.5h0M220.3 100.6h0M221.5 99.4h0M230.6 95.2h0M216.2 103.9h0M214.2 106.5h0M228.8 94.4h0M207.8 110.4h0M221.3 97.6h0M209.3 106.6h0M219.4 102.4h0M208.9 106.6h0M218.1 98.7h0M219.4 101.2h0M229.4 96.6h0M210.7 106.9h0M212.4 104.9h0M216.4 105.3h0M204.2 111.4h0M226.1 98.3h0M208.6 107.4h0M207.7 106.6h0M223.2 99.1h0M208.9 106.1h0M211.9 105.7h0M226.7 95.7h0M216.7 105.3h0M219.5 101.1h0M200.8 116.6h0M218.8 101.1h0M213.6 103.8h0M207.5 107h0M219 102.7h0M216.9 104.6h0M218.9 102.1h0M209.3 109.4h0M223.9 99.6h0M223.4 98h0M209.2 110.7h0M211.1 107.6h0M213.7 105.4h0M212.7 105.1h0M204.1 115.3h0M214.8 101.2h0M207.7 107.4h0M207.7 104.9h0M220.4 103.8h0M213.9 106.6h0M218.2 100.1h0M222.1 96.7h0M210.7 106.8h0M223.9 98.7h0M213.5 104.1h0M215.7 104.1h0M221.3 102.7h0M220.2 101h0M215.3 107.2h0M216.4 103.5h0M228.9 97.9h0M218.9 101.7h0M211.4 108.8h0M212.6 107.8h0M209.6 108.3h0M217.9 102.8h0M216.9 103.9h0M206.2 108.5h0M215.5 107.4h0M213.4 104h0M210.4 107.7h0M222.8 98.2h0M219.1 102.1h0M211.7 105h0M213.3 104.3h0M217.3 99.8h0M223.5 100.1h0M220.3 103.6h0M217.8 99.6h0M215.7 104.8h0M209.3 106.4h0M218.4 103.1h0M211.8 106.2h0M211 106.2h0M215.5 106.1h0M203.5 111.7h0M226.5 97.3h0M216.8 104.8h0M207 107.8h0M202.2 110.6h0M217.4 104.4h0M211.5 105.6h0M218.3 103.3h0M215.2 101h0M209.1 104h0M216 102.3h0M211.7 109.4h0M224.6 98.9h0M217.1 103.4h0M210.9 107.2h0M227.6 94.4h0M210.5 107.8h0M221.9 101.3h0M208.2 108.9h0M212.2 104.3h0M215.1 103.6h0M221.7 100.7h0M209.6 108.3h0M212 105.4h0M212.5 108.1h0M210.7 104.4h0M210.3 109.1h0M229.1 93.1h0M212.3 105.8h0M205.6 111.6h0M214.9 105.1h0M230.3 93.7h0M221.2 101.8h0M210.1 106.8h0M226.4 98h0M215.1 102.5h0M221.6 101h0M231.5 96h0M220.8 101h0M215 103.5h0M217.3 103.3h0M220.4 102.8h0M216.7 102.4h0M221.9 102.6h0M209.6 108.9h0M219.2 102.6h0M218.4 102h0M215.7 107h0M225.9 94.7h0M217.5 101.6h0M210.1 105h0M217.4 102.8h0M212 108.1h0M233.1 94.9h0M222.8 98.5h0M219.5 101.4h0M223.5 99.8h0M215.2 105.3h0M210.7 108.8h0M225.1 97h0M217.5 99.9h0M222.2 101.2h0M209.3 111.4h0M214.4 101.9h0M206.2 112h0M214 107.1h0M204.2 111.7h0M221.2 99.1h0M219.4 100.9h0M217.7 103.3h0M229.5 92.5h0M221.5 102.4h0M207.3 109.9h0M231.9 94.9h0M212 103.5h0M216.5 102.2h0M210.4 106.1h0M216.7 102.6h0M208.5 108.5h0M217.1 101.6h0M221.4 97.3h0M217.5 102.1h0M225.4 96.3h0M209.3 106h0M229.3 95.9h0M207.2 109.2h0M209.6 110.8h0M216.2 100.1h0M217.2 104.6h0M215.4 105.1h0M214.4 105.3h0M215.9 102.6h0M217.5 103.1h0M214.2 103.9h0M208.2 109.6h0M218.8 97.7h0M212.4 108.6h0M220.8 99.3h0M223.6 97h0M211.1 110.5h0M211.8 106.3h0M202.7 111h0M206.7 109.9h0M203.1 114.4h0M212 105.4h0M211.2 108.4h0M225.3 96.8h0M227.5 98.9h0M224.6 98.6h0M205.2 112.3h0M212.3 106.7h0M201.7 113h0M215.9 102.3h0M218.4 105.1h0M216 102.6h0M229.8 90.7h0M208.9 109.3h0M209 104.5h0M217.5 104.3h0M210.7 110h0M219.4 103.6h0M204.4 111.7h0M227.8 99.4h0M224.2 98.3h0M215.8 102.9h0M222.1 98.5h0M214.2 101.4h0M206 113.7h0M215.6 104.5h0M199.7 114.8h0M228.2 92.9h0M198.3 115.5h0M211.1 106.7h0M205.1 108.8h0M206.9 111.1h0M215.3 105.7h0M208 110.3h0M212 106.7h0M221.5 100.1h0M211.2 104.1h0M216.1 105.1h0M210.5 107.4h0M201.6 111.2h0M218.9 104.2h0M211.5 103.9h0M211.1 104.4h0M214.7 108.1h0M217 102.9h0M221.9 99.1h0M217.5 103.2h0M216.9 100.6h0M220.7 102.2h0M196.8 112h0M210 110.6h0M215.7 105.2h0M219.6 103h0M210 106.8h0M218.1 103.5h0M219.3 102.2h0M212.5 108.1h0M219.2 103.6h0M220.1 96.7h0M215.9 102.7h0M215.5 103.3h0M213 106.2h0M216.8 101.9h0M210 108.9h0M209.4 109h0M211.6 105.1h0M224.6 101h0M214.2 104.9h0M220.6 98.3h0M209.8 110h0M220.9 99.6h0M209.8 108.6h0M204.7 110.6h0M211.3 102.6h0M219.8 102.6h0M221.3 97.6h0M205.3 109.6h0M207.5 113.3h0M207.8 108.8h0M216.8 104.1h0M224.3 96.2h0M221.3 100.5h0M206.8 110.3h0M206.4 113.2h0M210.7 109.2h0M223.7 97.5h0M208.8 109h0M208.3 110.6h0M215.6 102.7h0M210.7 108.7h0M206.1 113.5h0M209.3 108h0M209.8 110.9h0M221.9 102.2h0M219.7 101.5h0M227.6 97.2h0M218.6 103.1h0M220.5 101.3h0M212.5 103.3h0M228.5 93h0M199.1 114h0M229.8 96.7h0M210.9 107.7h0M213.2 102.2h0M212.9 106.5h0M222.3 97.4h0M197.6 113.4h0M217.4 103h0M216.2 104h0M211.2 104.6h0M218.6 102.8h0M220.2 103.3h0M204.2 107.6h0M204.1 115.8h0M208.8 109.4h0M215.5 105.5h0M211.2 106.8h0M210.9 107.7h0M217.9 100.8h0M225.4 99.6h0M218.1 102.2h0M211.9 103.6h0M218.9 100.1h0M212.3 108.2h0M208 108.3h0M222.7 102.7h0M211 109.2h0M210.7 108.1h0M217.5 100.7h0M223.8 101.8h0M215.6 104.6h0M208.1 112.4h0M214.4 102.6h0M219.2 99h0M208.3 105.2h0M226.7 100.6h0M209.9 106.8h0M210.4 106.6h0M220.2 103.6h0M208.2 109.9h0M203.4 115.1h0M213.8 104.1h0M225.8 97h0M225.7 99.2h0M226.2 95.5h0M215.7 104.7h0M214.9 107.3h0M210.7 109.2h0M223.1 95.5h0M207.3 108.1h0M211.4 107.6h0M213.8 105.4h0M211.7 106.6h0M219.1 103.1h0M209.3 108.1h0M209.4 108h0M205.6 112.6h0M219.7 101.1h0M209.7 107.2h0M209 105.8h0M229.4 100.7h0M205.2 109h0M219.6 102.5h0M202.2 109.7h0M217.2 99.4h0M224.7 97h0M215.6 104.1h0M210.9 107h0M213.9 107.5h0M214.3 104.9h0M210.7 106.3h0M209.7 108.1h0M229.1 97h0M218.1 105.4h0M222.4 99.9h0M212.9 103.9h0M216.5 102.9h0M202.6 110.6h0M229 95.4h0M218.7 102.3h0M212.1 107.3h0M222.5 98.9h0M219.5 103.3h0M211.7 107h0M210.2 108.8h0M213.3 107.7h0M211 110.3h0M212.1 105h0M209.1 109.7h0M210.4 110.9h0M224.6 98.9h0M204.8 111.3h0M208.3 105.8h0M219.9 105.2h0" stroke="#c4c4c4" stroke-opacity="0.35" stroke-width="1.0" stroke-linecap="round" fill="none"/>
<path d="M212.3 107.1h0M220.4 99.4h0M212.9 106h0M216.2 102h0M215.5 103.8h0M218.4 100h0M211.4 106.1h0M213.3 106.3h0M212.9 109h0M211.4 107.7h0M220.2 101.9h0M213 104.6h0M213.6 106h0M215.4 104.7h0M216.9 101.9h0M210.6 109h0M211.2 104.9h0M223.4 97.6h0M210.3 108.6h0M208.3 107.7h0M219.3 100.4h0M216.5 106.5h0M215.2 104.2h0M211.1 106.6h0M212 106.3h0M217.7 100.9h0M208.7 106h0M222 99.4h0M214.4 104.6h0M219.7 101.4h0M218.7 101.6h0M213.9 105h0M205.7 111.8h0M206 109.1h0M217.9 102.4h0M219.6 103.2h0M224.7 99.4h0M214.5 107.1h0M210 107.5h0M219.4 101h0M213.7 104.7h0M220 97.9h0M221.5 101.1h0M214.4 105.3h0M210.2 108.8h0M210.6 108.9h0M214 104.5h0M211.9 106.1h0M207.4 107.7h0M222.9 98.9h0M217.5 103h0M216 101.7h0M210.1 108.4h0M218.9 100.3h0M211 105.7h0M218 102.7h0M214.3 103.9h0M216.2 103.5h0M210.9 107.4h0M211.7 107.6h0M217.3 101.9h0M217.5 102.7h0M210.4 106.2h0M205.5 109.3h0M216.9 104.4h0M211.4 106.9h0M216.7 104.1h0M217.4 104.1h0M217.9 101.4h0M215.2 101.3h0M213.6 105.2h0M217.3 102.4h0M219.4 102.9h0M210 107h0M216.1 104.1h0M215.7 104.8h0M209 109.3h0M221 101.6h0M216.5 103h0M216.5 103.2h0M206.2 109.5h0M214 104.3h0M209.7 107.6h0M212.7 105.9h0M214.4 104.9h0M219.6 101.3h0M215.9 102.2h0M212.9 106.5h0M212.4 105.2h0M208.8 109.6h0M212 106.6h0M220.5 101.2h0M225.7 96.9h0M219.7 101.9h0M211.2 106.9h0M211.1 105.7h0M215.6 102.9h0M222.6 98.3h0M211.8 106.5h0M211.9 106.4h0M210.6 105.5h0M208.9 110.2h0M216.8 103.2h0M212.1 106.1h0M215.2 102.4h0M210 106.6h0M220.3 99.4h0M220.1 100.2h0M214.1 104.9h0M221.8 100.7h0M218.6 100.5h0M221.2 102.1h0M213.7 104.5h0M209.6 109.2h0M216 103.6h0M209.2 110.1h0M218.9 101.6h0M221.4 98.8h0M218.4 100.8h0M221.5 99.6h0M220.4 100.1h0M217.1 104.2h0M210 107.7h0M210.8 108.2h0M211.2 106.3h0M214.1 106.3h0M209.2 108.1h0M212.5 105.3h0M210.4 107.1h0M214.6 102.7h0M215 102.8h0M215.9 106.4h0M209.6 107.8h0M213.8 106.3h0M211.1 104.7h0M206.5 110.2h0M216.4 104.6h0M212.2 107h0M209.9 109.3h0M213.8 104.3h0M216.4 105.4h0M209.5 106.5h0M208.7 107.1h0M214.4 105.1h0M213.8 105.3h0M220.3 100.3h0M206.9 107h0M215.3 103.2h0M213.5 105.8h0M216 101.7h0M209.7 107.9h0M214.4 106h0M210.8 104.6h0M219.5 99.3h0M209.8 108.2h0M210.6 110.3h0M216 104.2h0M213.5 107.9h0M216.8 102.2h0M219.9 98.9h0M211.7 106.8h0M214.7 103.3h0M223.3 100.4h0M210 108.1h0M211.1 106.4h0M219.5 101.3h0M214 105.1h0M209.3 109.6h0M211.4 108.2h0M211.9 105.8h0M222.1 99.7h0M211 106.3h0M218.6 104.1h0M217.4 102.2h0M208.5 107.9h0M214 105.2h0M211.9 107.9h0M209.3 107.3h0M217.3 103.3h0M213.1 106.7h0M208.3 110.7h0M226.6 98.8h0M216.2 105.8h0M215.5 105.5h0M213.6 105.4h0M216.2 101.4h0M214.4 106.7h0M217 104.1h0M216.3 103.6h0M221.7 100.2h0M204.4 110.3h0M213.1 105.7h0M212.2 106h0M221.3 96.5h0M220.8 101.5h0M217.5 102.6h0M215 104.7h0M215.3 103.2h0M218 101.3h0M214.1 104.4h0M209 109h0M213.5 103.9h0M213.3 103.7h0M222 100.2h0M224.2 97.4h0M217.5 101.4h0M210.2 107.4h0M217.1 104h0M213.8 106.4h0M218.9 100.6h0M213.1 104.4h0M222.8 98.4h0M219.5 102.4h0M213 105.1h0M215.8 102.8h0M207.6 108.1h0M216.3 103.6h0M222.3 97.1h0M216.4 101.9h0M220.7 101.3h0M216 105.4h0M212.3 105.4h0M208.9 107.6h0M215.5 104.8h0M220.8 100h0M210.7 106.8h0M212.1 105.7h0M212 105.2h0M214 104.4h0M212.9 104h0M215.5 104.6h0M217.4 102h0M208.1 107.4h0M208.3 108h0M212 104.2h0M217 101.1h0M210.7 106.3h0M219.7 103.3h0M212.6 105.6h0M212.4 105.8h0M215 107.2h0M209 108.2h0M210.8 107.6h0M212.2 106.8h0M210.3 110h0M214.6 102.4h0M217.7 101.9h0M209 108.8h0M212.3 106.9h0M212.3 107.2h0M215.4 104.4h0M215.1 103.8h0M213 106.2h0M217.8 101.9h0M226.6 98.5h0M209.4 109.3h0M214.3 105h0M211.5 108.6h0M210.4 107.3h0M212 108.6h0M220 99.3h0M212.5 106.4h0M212.2 105.8h0M209.3 108.4h0M209.5 108.9h0M226.2 96.3h0M222.9 99.4h0M211 106.6h0M209.8 107.9h0M218.5 103h0M212.5 104.6h0M215.1 106.2h0M215.9 103.6h0M204 111.2h0M216.7 102h0M220.9 99.6h0M209.9 107h0M214.6 105.7h0M210.7 105h0M214.4 105.3h0M221.5 98.5h0M222.2 100.2h0M216.3 102.4h0M209.6 106.8h0M219.3 101.7h0M220.8 102.5h0M214.6 104.5h0M223.3 97.1h0M212.1 105.8h0M212.7 106h0M211 108.3h0M207.3 108.5h0M205.4 109.1h0M217.8 103.1h0M214 105.9h0M217.3 102.1h0M214.5 105h0M224.2 97.5h0M216.7 103.8h0M220.8 100.9h0M219.2 100.1h0M212.2 103.9h0M215.6 106.7h0M215.8 103.8h0M215.9 103.8h0M207.6 108.4h0M213.8 105.3h0M210.2 107.4h0M210.2 105.9h0M210.8 106.1h0M219.4 102.9h0M217.3 102.5h0M210.9 105.2h0M212.8 107.6h0M220.3 100.9h0M213.3 105.4h0M216.6 103.2h0M216.2 102.5h0M214.6 104.1h0M219.1 100h0M220.9 100.2h0M212.1 106.3h0M215 104h0M216.3 102.7h0M206.6 110.8h0M215.3 106h0M215.3 101.7h0M220.3 99.9h0M218.4 104.6h0M219.3 100.1h0M213.2 103.6h0M218.1 102.8h0M209.7 108.3h0M219.6 102.1h0M210.9 106.2h0M208.3 107.2h0M216.1 103.6h0M221.1 100.5h0M212.2 104.5h0M222.2 99.6h0M213.8 103.9h0M209.7 108.6h0M210.1 108.3h0M217.4 102.2h0M206.8 110.3h0M221 99.2h0M208.9 109.6h0M214.9 103.6h0M220.4 100.3h0M216.5 102.7h0M211 107.2h0M209.4 106h0M212.6 107.4h0M221.1 102.7h0M220.3 102.6h0M215.5 103.4h0M216.3 102.3h0M217.9 101.8h0M215.3 103h0M214.4 105.8h0M213.1 104.7h0M216.4 104.3h0M213 104.2h0M206.2 108.6h0M219.7 101h0M217.5 103.9h0M216.2 104h0M211.2 104.9h0M217.6 102.4h0M216.8 101.8h0M215 106.7h0M210.5 107.4h0M220.8 100.1h0M214 102.4h0M218.1 101.6h0M220.8 100.3h0M213 106.1h0M213.1 104.9h0M222.6 100.3h0M215.5 104.9h0M218.9 102.3h0M214.8 104.5h0M216.9 103.7h0M216 102.9h0M214.4 105.2h0M209.8 107.8h0M218.3 102.2h0M213.2 105.5h0M212.8 106.9h0M211.8 104.4h0M208.9 108.8h0M215.3 103.5h0M208.1 108.7h0M210.1 106.8h0M214.1 103.9h0M215.7 102.9h0M212.2 105.9h0M222.5 101.1h0M218.7 100.9h0M215.1 105.3h0M217.6 100.6h0M213.9 104.1h0M218.5 102.6h0M213.2 108h0M214.6 107.4h0M213.7 105h0M223.5 97.9h0M213.1 107.3h0M214.6 105.1h0M209.5 110.1h0M219.5 101.6h0M217.7 101.8h0M211.4 104.8h0M217 104.3h0M219.2 102.5h0M217.5 101.5h0M208.6 109.3h0M215.9 104.8h0M212.8 104.7h0M216.4 102.6h0M206.4 109.4h0M209.7 106.5h0M212.5 107.1h0M226.8 98.3h0M213.2 106.8h0M214.5 105.1h0M211.3 106.7h0M207.5 111.4h0M211.2 107.5h0M211.9 106.7h0M208.7 108.1h0M219.3 102.1h0M205.7 111.5h0M208.4 109h0M216.7 102.3h0M212.9 105.4h0M217 104h0M221.3 100.4h0M223.6 97.3h0M223 98.6h0M218.2 102h0M214.5 103.5h0M217.6 104.9h0M215.3 104h0M215 105.1h0M213.6 105.2h0M216.3 104.9h0M218.6 100.6h0M211.6 106.6h0M219.2 102.6h0M214.8 106.9h0M214.6 106.2h0M222.3 101.2h0M215.9 104.4h0M206.3 108h0M212.1 107.1h0M219.6 101h0M219.9 101.7h0M221 98.3h0M210.1 106.4h0M210.5 109.3h0M209.7 106.9h0M213.2 106.5h0M212.8 106.6h0M216.9 102.2h0M202.8 111.4h0M209.5 109.9h0M210.6 106h0M216.4 103.4h0M210.7 108.5h0M219.1 101.8h0M210.5 106.3h0M205 111.5h0M216 102.5h0M216.5 107.1h0M208.2 106.8h0M217.3 102.2h0M212.6 106.7h0M214.5 105.8h0M217.7 103.8h0M214 102.4h0M220.1 98.8h0M219.7 101.4h0M208 109.1h0M218.2 100.9h0M214.4 103.8h0M209.4 107.3h0M221.1 101h0M214.4 104.6h0M215.3 104.4h0M214.5 102.6h0M218.5 100.9h0M217.3 101.3h0M213.8 105h0M211.9 107h0M213 105.3h0M209.6 107.6h0M209.4 108.1h0M221.6 101h0M215.9 102.1h0M220.1 101.9h0M223.5 96h0M214.4 104.3h0M219.3 100.1h0M213.9 107.7h0M218.4 99.7h0M215.3 105.6h0M211.8 107.1h0M214.2 103.1h0M212 107.6h0M220.1 100.2h0M219.7 100.3h0M215.7 103.8h0M208.5 109h0M211.1 103.7h0M209.9 106.7h0M209.8 106.6h0M209.8 105h0M219 101.7h0M215.6 103.5h0M214.7 104.2h0M208.3 107.1h0M215.4 105.2h0M216.5 105.1h0M207.6 109h0M212.1 107.6h0M222.6 98.5h0M218 102h0M209.5 107.9h0M210.2 109.3h0M218.1 103.6h0M215 101.5h0M218.5 102h0M202.7 112.7h0M220.4 102.6h0M209.9 108.7h0M216.1 103.4h0M213.4 106h0M217.7 103.2h0M211.8 104.9h0M221.7 101.2h0M211.7 106.5h0M217.6 100.5h0M218.3 104.9h0M215.5 103.1h0M224.6 97.8h0M215.3 103.6h0M214.4 102.6h0M207.4 107.7h0M218.9 101.5h0M219.1 99.1h0M212.3 107.8h0M209.6 105.8h0M210.6 106.8h0M215.1 105.7h0M221.9 101.4h0M217.1 102.3h0M211.3 105.1h0M221.5 101.3h0M214.5 103.6h0M218.1 102.7h0M214.6 103.2h0M215.4 103.4h0M218.5 102.6h0M216.5 102.8h0M222.5 100.1h0M221.2 101h0M218 102.7h0M208.2 106.7h0M210.2 108.2h0M219.1 101.7h0M215.9 105.8h0M211.6 104.5h0M206.7 109.5h0M218.4 102.8h0M213.8 106h0M213.9 104.2h0M213 106.5h0M218.6 100.5h0M209.7 108h0M224.4 96.6h0M208.5 109.1h0M216.7 102.4h0M214.6 105.1h0M205.9 110.4h0M218 103.3h0M220.2 100.7h0M208.1 110.5h0M218 101.5h0M220.2 102h0M212.5 103.2h0M211.8 105.6h0M210.3 107.3h0M209.4 108.5h0M223.2 97.4h0M219.4 100.7h0M217.1 102.7h0M220.5 99.8h0M217.7 101.5h0M215.6 103.8h0" stroke="#c4c4c4" stroke-opacity="0.65" stroke-width="1.1" stroke-linecap="round" fill="none"/>
<path d="M204.8 111.5h0M194.1 120h0M201.7 120.9h0M195.5 116.6h0M202.7 121.1h0M199.8 114.7h0M203.2 115.7h0M196.7 118.2h0M191.6 113.1h0M206 114.6h0M198.6 117.1h0M204.9 117.5h0M195.8 114.4h0M204.6 115.7h0M197.2 118.5h0M205 122.3h0M195.3 114h0M197 117h0M197.9 119.2h0M188.2 118.8h0M197.2 115.2h0M202.5 116.6h0M195.5 120.3h0M202.5 114.6h0M200.9 112.8h0M194.6 115.1h0M201.6 116.3h0M196.6 112h0" stroke="#c4c4c4" stroke-opacity="0.45" stroke-width="1.0" stroke-linecap="round" fill="none"/>
<path d="M235.5 60.2h0M234.6 79.7h0M231.4 90h0M231 89.5h0M232 90.3h0M230.6 90.6h0M231.8 89.2h0M220.3 87.1h0M220.3 90h0M225 88.6h0M232.9 84.3h0M234.2 85.8h0M240.7 86.2h0M213.8 87.1h0M229.6 87.7h0M236 88.4h0M228 91h0M233 91.3h0" stroke="#e03a34" stroke-opacity="0.8" stroke-width="1.0" stroke-linecap="round" fill="none"/>
<path d="M193 121h0M204.5 121.3h0M196.8 132.5h0M154.4 147.5h0" stroke="#7070e0" stroke-opacity="0.7" stroke-width="1.0" stroke-linecap="round" fill="none"/>
<path d="M195 118h0M198 119.5h0M201 118.5h0M190 124h0M206 113h0M196.5 116h0" stroke="#c4c4c4" stroke-opacity="0.6" stroke-width="1.0" stroke-linecap="round" fill="none"/>
<ellipse cx="226.7" cy="74.3" rx="18.1" ry="21.2" fill="none" stroke="#bd84c6" stroke-width="0.8"/>
<text class="p" transform="translate(3.8 187.2) scale(0.925 1)">B</text>
<text class="t" transform="translate(65.2 187.5) scale(0.925 1)">Model vs. Control</text><text class="t" transform="translate(65.2 196.6) scale(0.925 1)">in the InN</text>
<path d="M16.4 214.6V311.1" stroke="#333" stroke-width="0.9" fill="none"/>
<path d="M15.9 310.7H113.0" stroke="#333" stroke-width="0.9" fill="none"/>
<g stroke="#2a2a2a" stroke-width="0.85" stroke-dasharray="1.05 1.52" fill="none"><path d="M58.5 214.6V310.7"/><path d="M16.4 268.4H112.8"/></g>
<text class="s" x="28.8" y="315.3" text-anchor="middle">-0.2</text>
<text class="s" x="58.5" y="315.3" text-anchor="middle">0.0</text>
<text class="s" x="88.8" y="315.3" text-anchor="middle">0.2</text>
<text class="s" x="14.8" y="224.4" text-anchor="end">1.0</text>
<text class="s" x="14.8" y="246.3" text-anchor="end">0.5</text>
<text class="s" x="14.8" y="269.0" text-anchor="end">0.0</text>
<text class="s" x="14.8" y="290.7" text-anchor="end">-0.5</text>
<text class="a" x="66.3" y="319.7" text-anchor="middle">Difference</text>
<text class="a" transform="translate(8.1 260.0) rotate(-90)" text-anchor="middle">avg_logFC</text>
<text class="s" x="117.2" y="254.9">threshold</text>
<circle cx="120.1" cy="259.7" r="0.45" fill="#ccc"/>
<text class="s" x="123.6" y="261.0">none</text>
<circle cx="120.1" cy="264.8" r="0.45" fill="#e8524a"/>
<text class="s" x="123.6" y="266.1">up</text>
<circle cx="120.1" cy="270.0" r="0.45" fill="#5a5ae0"/>
<text class="s" x="123.6" y="271.3">down</text>
<path d="M46.1 279.7h0M58.6 264.1h0M66.4 261.3h0M53.1 269.2h0M65.8 261.3h0M69.4 258.3h0M51.9 270.3h0M52.1 272.4h0M59.8 267.3h0M58.9 263.2h0M54.1 267.3h0M58.7 262.6h0M51.6 269.8h0M52.1 271.1h0M67.9 258.3h0M46.1 276h0M63.2 264.1h0M61.7 269.9h0M65.3 261.2h0M64.5 258.6h0M54.4 267.2h0M60.8 269.7h0M55.6 273.4h0M51.2 276h0M43.8 277h0M64.2 261.6h0M58 266.9h0M58.1 266.3h0M49.5 273.2h0M56.4 265.4h0M62.9 267.9h0M44.4 277h0M55 269.5h0M56.6 265.8h0M56.8 268h0M58.8 271.2h0M55.7 264.2h0M46.1 277.9h0M53.6 268.7h0M46.7 275.5h0M55.3 267h0M55.7 271.4h0M63.5 263.9h0M53.7 266.3h0M64.6 265.4h0M67.6 261.6h0M59.6 266.8h0M58.9 270.2h0M58.2 273.2h0M62.3 262.6h0M54.5 264.7h0M51.2 271.7h0M74.5 252.4h0M63.8 262.3h0M55.7 270.6h0M43.1 280.7h0M71.5 256.4h0M56.8 268.4h0M61.2 263h0M58.7 268h0M55 270.5h0M60.5 267h0M49.1 272.9h0M55.6 272.4h0M56.4 263.3h0M49.7 278h0M57.6 263.4h0M50.5 273.4h0M69.1 261.2h0M53.9 269.4h0M70.3 255.2h0M68.8 258.7h0M59.7 269.6h0M59.4 263.4h0M45.8 276.9h0M62.7 267h0M67.4 260.6h0M68.8 259.7h0M59.2 267.3h0M59 264.3h0M56.4 268.7h0M51.6 267.9h0M47 277h0M60.9 264.8h0M49.5 275.9h0M51.2 266.4h0M66.9 256.6h0M73.8 254.8h0M50.4 266.3h0M53.9 274.3h0M67.2 260h0M44.2 277.5h0M55.6 270.3h0M56.6 269.1h0M44.5 276.7h0M66 257.3h0M66.6 265.7h0M59.9 261.6h0M64 257.8h0M58.9 265h0M67.3 262h0M61.1 270h0M63.6 261.2h0M52.9 277.3h0M54.6 270.9h0M55.4 267.5h0M45.2 277.2h0M57.7 270.3h0M51.1 268.1h0M49.1 274.1h0M59.9 267.6h0M55 271h0M60.7 270.1h0M56.8 268.4h0M62.8 266.4h0M49.7 272.5h0M51.8 265.5h0M67.7 261.4h0M62.5 274.2h0M68.5 262.9h0M69.3 259.5h0M48.3 278.2h0M58.3 263.1h0M58.6 268.9h0M64.4 262.1h0M54.3 272.2h0M51.4 272.2h0M60.7 260.9h0M56.9 262h0M48.7 271.4h0M57.5 269.7h0M58.1 269.8h0M57.4 266.8h0M60.3 264.4h0M59.6 268.9h0M54.4 273.1h0M48.7 274h0M43.9 277.5h0M68.9 258.7h0M64.6 258.2h0M50.2 274.5h0M64.1 264.1h0M45.3 278.3h0M56.7 268.4h0M60.1 264.4h0M43.7 276.6h0M45.1 274.7h0M58.1 271h0M50.8 270.8h0M46.6 272.2h0M56.7 266.4h0M53.8 267.4h0M58.9 262.8h0M60.1 263.3h0M61.6 261.6h0M60.9 265.9h0M59 271.4h0M56.9 265h0M61 262.3h0M53.1 271h0M60.9 269.9h0M44 277.9h0M65.1 260.8h0M61.6 268.6h0M48.1 275.2h0M62 262.1h0M43.3 277.1h0M58.7 266.9h0M71.6 258.2h0M46.7 278.3h0M65.7 264.7h0M55 267.6h0M60.5 269.8h0M63.9 266.8h0M62 262.1h0M51.9 276.5h0M45.6 276.4h0M53.3 268h0M52.8 271.2h0M74.3 253.5h0M53.4 271.1h0M62.9 260.9h0M51.5 267.1h0M63 264.7h0M66.8 257.3h0M73.6 255.5h0M54.4 268.7h0M52.9 267.4h0M61.8 262.2h0M52.4 272.9h0M56.9 266h0M54.5 268.2h0M67.9 261h0M51.6 272h0M66.7 259.2h0M70.4 257.6h0M59.1 260.3h0M63.6 263.2h0M61.9 265.1h0M60.1 263.7h0M63.7 262.4h0M48.1 272.6h0M58.7 267.4h0M39.3 279.1h0M64.7 261.4h0M45.5 276.7h0M53.3 272.3h0M69.1 261.3h0M51 275.7h0M48.4 275.5h0M59.2 267.9h0M52.8 274.7h0M56.5 268.1h0M53.4 267.4h0M62.8 263.9h0M63 268.2h0M50.2 272.6h0M58.4 269.4h0M57.1 270.6h0M57.9 261.9h0M49.3 268.6h0M54.3 268.7h0M61.6 264.5h0M58.5 270.6h0M59.7 262.1h0M52.3 272.5h0M69.4 257.2h0M56.1 269.3h0M62.7 262.9h0M58.6 265.2h0M51.8 269.7h0M61.1 262.9h0M61.6 265.1h0M60.9 257.9h0M48.4 271.8h0M57 270.2h0M69.7 260.1h0M59.2 264.8h0M57.9 260.8h0M63.8 262.2h0M60.1 262.3h0M48.2 273.4h0M57.2 268.7h0M54.9 270.5h0M60.4 261.8h0M53.8 265.4h0M54.2 272.6h0M54.2 275.1h0M62 266.2h0M59.1 268.8h0M65.2 261.3h0M52.3 270h0M71 255.9h0M52.6 269.3h0M44.1 277.3h0M58.7 264.9h0M52 273h0M59.8 264.2h0M57.8 264.1h0M62.1 261h0M54.7 270h0M52.3 268.3h0M73.6 256.6h0M44.3 278.4h0M48 275.8h0M48.1 276.4h0M63.3 267.5h0M65.3 259.9h0M63.4 261.4h0M55.4 267.5h0M44.6 279h0M41.9 279.8h0M61 264.8h0M44.8 276.5h0M63.5 265.4h0M67 256h0M59.7 264.1h0M60.4 260.4h0M57.1 269.9h0M51.8 271h0M51.2 275.3h0M46.2 274.5h0M54.1 269.2h0M72.8 255.3h0M51.6 273.7h0M59.9 266.2h0M57.3 269h0M47 273.1h0M52.3 268.4h0M64.7 266.7h0M66.6 260.9h0M58.5 264.5h0M48 276.3h0M46.4 277h0M57.1 270h0M57.5 267.7h0M50.3 268.4h0M55.5 271.1h0M66.3 263.5h0M48.5 272.4h0M61.6 262.8h0M57.1 263.1h0M55.1 273.8h0M43.7 279h0M48.5 278.2h0M52.2 268.7h0M43.7 277.3h0M56.6 274.4h0M57.3 266.6h0M48.8 275.2h0M52.3 269.1h0M67.7 260h0M52.3 275.4h0M57.4 269.1h0M59.9 269.1h0M61.1 263.5h0M61.8 262.8h0M60.5 270.1h0M48 272.7h0M53.3 269.3h0M64.8 257.8h0M75 255.3h0M54 270.8h0M55.3 271.1h0M62.9 265h0M65.2 266.2h0M56.8 270.1h0M55.7 268.9h0M58.5 266.3h0M58.3 264.1h0M54.9 267.5h0M47.6 273.8h0M53.1 270.5h0M45.2 276.9h0M47.7 273.4h0M60.1 268.7h0M58.4 265.1h0M55.7 272.8h0M46.1 278.9h0M45.3 276h0M57 267h0M69.7 258.3h0M58.2 269.9h0M56 266h0M67 263.1h0M65.2 258.4h0M70.7 255.8h0M64.2 265h0M73.5 252.1h0M50.9 275.7h0M60.2 264.2h0M60 264.7h0M52.9 271.1h0M59.9 267.7h0M53.7 267.7h0M51.2 266.2h0M51.1 277.3h0M51.8 271.8h0M71.9 257.4h0M59.1 268.4h0M53.6 267.7h0M64.6 261.9h0M68.6 257.7h0M54.7 270.6h0M55.1 268.3h0M50.7 273.6h0M62.1 269.1h0M54 264.5h0M63.7 268.9h0M52.6 269h0M51.3 263.4h0M54.2 269.4h0M46.4 277.6h0M48.2 270.2h0M52.5 273.1h0M72.3 257.4h0M57.7 265.6h0M56.5 271.1h0M53.8 271.6h0M63 260.5h0M53.3 272.1h0M56.9 267.5h0M53 270.8h0M71.9 258h0M45.1 277.6h0M57.7 267.3h0M46.6 276h0M57 265.6h0M55.7 261.4h0M46 277h0M59.6 265.1h0M53.9 270.9h0M66.1 262.5h0M55.7 267.3h0M65.5 262.1h0M63.2 262h0M50.9 273.3h0M53.9 273.5h0M60.5 259.2h0M63.7 265.9h0M64.1 260.8h0M51.9 274.5h0M64.6 261.7h0M46.7 272.6h0M57.7 264.6h0M52.6 272.6h0M62.3 258.4h0M53.8 274h0M56.1 267.3h0M60.2 262h0M48 275.2h0M69.6 259.5h0M58.6 269.8h0M52.2 268.1h0M44.9 278.2h0M64.1 262.9h0M56.1 267.2h0M65 261.1h0M47.8 278.2h0M52.7 272.3h0M58.7 269.8h0M60.7 268.5h0M57.9 265.6h0M54.2 272h0M52.1 274.2h0M53.8 267.5h0M50.4 272.8h0M70.8 257.9h0M55.7 265.9h0M70.9 255.9h0M56.3 266.9h0M67.1 259.9h0M53.9 270.9h0M48.3 272.2h0M51.3 263.3h0M68 263.4h0M48.6 274.3h0M45.5 277.5h0M59.7 267.8h0M46.5 275h0M51.9 271.3h0M73.8 253.7h0M55.9 267h0M66.2 267h0M67.4 262.9h0M50.3 275.8h0M59.2 270h0M65.6 262.3h0M44.7 278.1h0M53.9 271.6h0M59 269.6h0M44.4 276.6h0M57 268.8h0M54 270.2h0M59.1 269.5h0M56.5 268.9h0M41.2 275.9h0M46.5 277.1h0M40.2 282.1h0M56.3 268.3h0M51 271.5h0M63.6 263.3h0M56 266.9h0M60.4 268.7h0M56.3 267.1h0M48.4 275.1h0M48.4 271.1h0M62.7 261.5h0M41.3 279.4h0M70.6 256.4h0M46 274.3h0M62.9 264h0M58.3 266.1h0M62.8 267.5h0M60.4 264.5h0M47.1 276.8h0M69.3 259h0M47.9 275.7h0M66 259h0M62.4 266.8h0M67.6 255.9h0M44.4 278.8h0M61.8 262.9h0M56.2 267.1h0M63.4 257.4h0M56.9 263.8h0M49.9 269.3h0M50.2 273.3h0M60.1 271.1h0M55.9 269.7h0M60 266.1h0M68.1 259h0M57.9 266.6h0M56.9 267.6h0M64.4 261.7h0M57.4 267.2h0M62 262.4h0M63.3 261.2h0M64.7 266.7h0M58.6 266.2h0M49.1 276h0M58.6 269.5h0M52.8 272.6h0M70.8 257.2h0M52.6 267.4h0M58 269.1h0M59.9 262.2h0M48.2 272.6h0M49.1 273.6h0M61.9 269.7h0M60.7 269.3h0M46.2 279.6h0M63.5 263.6h0M63.9 263.7h0M72 256.9h0M42.4 276.4h0M68.9 257.8h0M66.5 259.2h0M51.6 271.2h0M59.6 266.2h0M53.1 272.4h0M60.3 262.4h0M46.4 271.7h0M54.7 269.6h0M51 271h0M56.1 268.6h0M62.4 265.7h0M61.9 267.1h0M50.5 274.6h0M58.2 263.6h0M52.5 272.6h0M55.6 264.8h0M55 273.7h0M63.4 262.7h0M66.1 258.3h0M57.2 270.6h0M52.8 267.8h0M63.6 266.9h0M56.2 264.4h0M52.6 267h0M52 272h0M50.4 270.4h0M53.9 270.9h0M70.4 257.3h0M67.6 256.9h0M56.8 266.5h0M49 281.9h0M55.6 269.7h0M50.6 271.4h0M50.5 275.6h0M53.8 270h0M56.4 264.3h0M58.5 266h0M59.8 264.3h0M58.1 268.5h0M63.4 260.8h0M63 260.3h0M55.8 269.2h0M54.2 262.1h0M49.5 273.5h0M63 261h0M66.5 256.3h0M58.4 268.3h0M57.6 268.2h0M63 260.8h0M62.9 265.9h0M51.7 264.8h0M47.1 273.8h0M49.6 274.9h0M54.2 276.6h0M59.4 262h0M57.2 272.3h0M60.7 261.9h0M64.2 260.7h0M73.1 253.7h0M62.2 265.1h0M53.5 270.2h0M66.2 261.4h0M57.3 269h0M70.9 258.1h0M61 265.4h0M45.5 277.5h0M54.4 272h0M53.1 272.2h0M50.2 275.5h0M51.5 272.2h0M60.9 263.7h0M58.8 269.8h0M68.6 254.9h0M51.1 274.3h0M63.4 261.3h0M57.4 266.8h0M73.9 253.6h0M46.3 272.9h0M48.9 277.3h0M57 273.6h0M62.3 264.5h0M62.9 265.1h0M62.6 260.6h0M52.1 270.2h0M57.4 266.6h0M47 274.3h0M72.3 259.2h0M51.1 273.6h0M55.4 266.3h0M62.2 263.3h0M69.9 258.1h0M50.7 264.8h0M57.6 270h0M52.9 273.6h0M59.7 260.7h0M56 269.6h0M62.8 263.4h0M56.3 267.2h0M54.8 269.5h0M49.8 275.2h0M55.4 270.7h0M53.8 271.6h0M59.4 268.7h0M61.8 266.6h0M55.7 268.7h0M53.1 267h0M57.8 270.6h0M61.6 261.7h0M60.4 267.3h0M47.2 276.5h0M60.6 267.1h0M56.3 262.9h0M43.6 282h0M55.9 272.4h0M66.5 260.1h0M50.1 276.7h0M57.6 269h0M61.9 266.5h0M62.8 259.4h0M46.6 276.5h0M58.3 269.2h0M55.7 268.2h0M73.2 256.7h0M66.8 262.1h0M51 272.4h0M54.7 266h0M50.7 273.3h0M48.6 275.9h0M60.2 264.5h0M55.4 270.9h0M61.1 265.5h0M46.1 273h0M71.7 254.6h0M51.6 266.7h0M50.1 271.5h0M59.5 258.7h0M46.1 275.8h0M52.2 269.4h0M51.4 267.6h0M60.8 268.3h0M57.3 265.8h0M66.9 260.7h0M48.6 273.2h0M52.4 271.4h0M65.2 259.4h0M56.1 268.9h0M47.6 274.3h0M63.1 265.9h0M43.7 279.9h0M56.8 271.9h0M64.3 267.3h0M58.7 265.1h0M49 270.6h0M61.8 265.3h0M63.5 263.3h0M45.5 276.4h0M55.4 269.5h0M64.6 265.4h0M56 262.2h0M46.8 270.8h0M49.7 270.5h0M58.4 265.9h0M66.6 262.5h0M55 272.2h0M57.8 268.6h0M65.8 258h0M59 271.2h0M51.6 272.7h0M57.3 266.1h0M46.5 274.8h0M51 275.3h0M59.9 267.5h0M48.8 275.7h0M59.7 268.9h0M52.7 273.5h0M69.1 261.8h0M48.7 271.7h0M47.1 277.9h0M61.9 264.7h0M52.2 275h0M68.9 258h0M58 270.8h0M62.7 267h0M54.5 270.8h0M53.6 268.8h0M54.4 269h0M60.3 264.2h0M56.2 265.7h0M49.5 277.2h0M52 276.4h0M61.1 258.6h0M51.7 270.9h0M56.9 267.3h0M54.3 273.5h0M57.6 270.4h0M51 270.8h0M66.6 259.3h0M48.7 274.2h0M64.6 261.1h0M52.5 273.1h0M64 261.5h0M54.1 269h0M58.3 272.2h0M56.5 269.4h0M41.9 280.4h0M56.9 266.8h0M52 267.8h0M46.1 277.1h0M52.1 271.5h0M54.9 267.9h0M54 275.2h0M48.2 273.8h0M53.1 267.4h0M50.9 274.9h0M64.1 262.2h0M64.7 264.7h0M52.4 274.4h0M69.1 257.1h0M69.6 255.9h0M48.6 274.6h0M51.9 273.6h0M48.9 274.6h0M42.5 279.6h0M64.5 261h0M61 267.9h0M47.4 272.5h0M58.1 267.8h0M53.6 267.6h0M64.6 258.8h0M55 269.2h0M61.8 262.6h0M53.6 275.9h0M51.8 274.1h0M55.1 267.8h0M56.3 267.5h0M55.5 261.2h0M56.9 268.1h0M49.4 273h0M75.5 255.2h0M62.1 264.3h0M56.8 272.1h0M52.5 269h0M60.8 262h0M53.1 274.8h0M45.1 277.4h0M58.3 267.5h0M46 276.3h0M57.4 273.3h0M63.5 260.5h0M64.3 263.5h0M55.8 268h0M52.6 266.6h0M53.6 273.1h0M69.6 261.4h0M55.1 271.1h0M39.1 282.1h0M48.6 276.5h0M43.8 276.6h0M49.3 275h0M62 261.2h0M70.5 257h0M51.3 273.3h0M58.3 269.5h0M62.8 269.6h0M64.9 259.8h0M63.8 264.2h0M48.7 272.7h0M47.8 268.7h0M61.4 263.5h0M65.5 259.5h0M58.7 268.7h0M64.5 262.4h0M52 277.3h0M65.2 264.6h0M70.3 259.6h0M60.8 266.1h0M59.6 261.4h0M61.7 261.3h0M58.7 263.4h0M61.6 262.6h0M59.3 267.5h0M49.9 272.8h0M56.2 267.5h0M52.5 268.8h0M62.2 262.4h0M51.4 273.3h0M50.8 272.4h0M51.9 269.3h0M54.1 267.6h0M48.1 275.8h0M52.7 266.9h0M54.4 270.5h0M60.8 265.7h0M59.8 267.3h0M52.2 269.3h0M61.1 263.3h0M58.2 268.9h0M65.6 263.8h0M51.4 271.3h0M59.2 261.9h0M48.4 276.2h0M51.2 269.9h0M63.7 263.6h0M63.5 261.6h0M54.4 268.8h0M56.3 262.2h0M52.8 273.1h0M51.2 272.4h0M58.8 267.9h0M51.9 268.6h0M54 274.9h0M44.2 278.5h0M58.5 272.5h0M72.8 256.4h0M48.6 272.7h0M50.8 271.5h0M57.8 264.7h0M57.5 272h0M65.6 256.7h0M49.6 272.9h0M66.2 259.5h0M71.4 256.6h0M66.7 258h0M56.3 271.5h0M58.6 261.1h0M55.3 269.7h0M60.8 262.9h0M69.9 257.4h0M68.1 259.5h0M57.1 266.6h0M49.5 276h0M63.8 264.7h0M52.8 268.2h0M53.8 269.5h0M58.5 269.8h0M49.7 272.5h0M63.3 265.1h0M73.7 254.9h0M49.5 271.2h0M51.3 272.6h0M58.8 266.1h0M52.3 271.1h0M57.4 269.4h0M56.4 265.7h0M50.2 276.9h0M56.1 267.9h0M58.7 270.1h0M55 270h0M56.2 270.3h0M49.9 274.1h0M66 263.3h0M62 264.5h0M69.3 259.2h0M66 257.8h0M49.9 275.5h0M54.4 268.6h0M51.9 275.7h0M48.4 275.1h0M46.6 275.9h0M75.3 256.4h0M52 269h0M68.1 257h0M44.3 278.8h0M47.4 272.1h0M64.4 260h0M49.4 274.4h0M57.4 271h0M60.2 270.3h0M67.4 263.5h0M65.3 261.1h0M61.1 264.5h0M44.5 275.6h0M59.3 259.5h0M49.3 270.7h0M54.9 266.1h0M58.6 265.9h0M52.4 269.1h0M40.8 281.1h0M47.3 275.1h0M61.3 267.4h0M64.2 266h0M47.4 277.1h0M68.9 258.8h0M49.4 275h0M52.3 269.8h0M64.6 261.1h0M48.1 273.5h0M70.7 255.1h0M62.2 264h0M65.3 260.4h0M49.3 272.5h0M52.6 277.8h0M58 266h0M67 261.1h0M56.7 270h0M60.7 268.2h0M68.8 257.5h0M56.5 267.6h0M66.4 261h0M63.9 264.5h0M52.6 271.8h0M68.1 260.7h0M62.6 262.4h0M53.2 268.4h0M55 269.3h0M47.8 277.8h0M51.8 272.7h0M60.7 263.2h0M44.7 279.7h0M59.7 264.9h0M66.4 262.2h0M50 273.4h0M43.9 278h0M66.5 258.2h0M61.1 260.5h0M56.3 271.2h0M70 258h0M64.8 266h0M38.1 281h0M73 259h0M61.5 264.3h0M59 266.3h0M52.5 271.4h0M57.2 269.8h0M63.3 265.3h0M60 262.6h0M64.4 256h0M58.4 267.7h0M55.8 274.1h0M47.7 272.6h0M53.9 271.5h0M63 263.2h0M61 262.6h0M52.8 271.6h0M47.4 276.1h0M55.2 271.3h0M49 273h0M52.4 270.5h0M49.4 273.4h0M47.7 276.6h0M61.9 263.7h0M54.3 267.2h0M49.8 273.2h0M49 271.4h0M58.2 266.7h0M52.9 268.8h0M55.6 266.8h0M54.2 270.7h0M63.3 264.7h0M54.3 273.4h0M48.4 274.4h0M69.1 263.1h0M57.4 266.3h0M52.6 267.8h0M55.3 267.8h0M53.1 274.2h0M53.5 275.1h0M64 263.7h0M52.1 270.4h0M42.7 280h0M55.7 270.1h0M52.8 272.6h0M43.9 274h0M62 266.8h0M66.2 259.5h0M53.6 265.7h0M50.7 274.7h0M51.7 272h0M59.1 272.3h0M62 260.3h0M52 268.6h0M46.2 275.1h0M65.2 261.1h0M61.9 263.4h0M54.1 270.3h0M59.6 271.8h0M70.6 257.3h0M58.8 260.8h0M59.9 272.9h0M52.3 273.7h0M65.6 259.8h0M54.8 268.2h0M63 262.9h0M69.3 260.1h0M61.2 272.8h0M54 268.4h0M54.1 267.5h0M53.9 270.1h0M61.7 259.9h0M46.1 275h0M55.6 270.3h0M53.3 274.8h0M52.9 270.5h0M59.3 269.6h0M59.3 265.9h0M53.4 271.2h0M59.5 264.6h0M54 264.2h0M54.9 272.9h0M67.4 259.1h0M42.7 282.3h0M59.8 273.5h0M55.5 271.9h0M54.5 273.6h0M64.3 259.3h0M69.7 263.7h0M53.6 266.8h0M58.5 265.3h0M45.1 275.3h0M56.6 263.4h0M65.5 261.9h0M57.9 271.4h0M51.2 274.2h0M46.9 275.3h0M61 263h0M57.3 269.6h0M69.5 260.2h0M60.1 264.5h0M48.3 278.5h0M68.9 254.2h0M63.4 262.4h0M62.7 264h0M55.7 268.8h0M58.7 270.2h0M54.4 268.2h0M62.7 264.8h0M60.7 265.6h0M68.9 260.3h0M58.3 266h0M59.4 260.7h0M52.3 269.6h0M57.7 265.9h0M63 264h0M73.5 254.2h0M56.5 271.9h0M64.3 264.2h0M65.5 260h0M51.2 270.6h0M59.3 269h0M48.7 273.3h0M49.3 278.4h0M63.2 263.3h0M46.9 273.7h0M52.3 271.7h0M47.4 275.1h0M66 260.4h0M54.5 263.2h0M54.8 269.1h0M50.1 269.7h0M54.9 266.3h0M50.8 268.4h0M57.7 270h0M51.2 273.3h0M46.4 277.6h0M60.5 263.8h0M62.4 261.1h0M60 270.7h0M55.1 265.7h0M66.1 261.5h0M52.3 266.2h0M41.9 277.5h0M68.2 259.2h0M52.2 274.7h0M66.9 257.9h0M58.3 262.1h0M62.4 268.7h0M46.7 276.4h0M52.2 271.4h0M58.1 267.8h0M64.2 263.2h0M65.9 262.9h0M64.3 260.2h0M59.5 264.6h0M53.3 275.8h0M59.2 266.1h0M41.3 280.3h0M62.4 262.8h0M55 273.5h0M54.2 269.1h0M55.9 267.9h0M65.4 262.2h0M55.9 267.5h0M57.9 272.2h0M55.7 270.8h0M45.7 277.7h0M63.8 265.6h0M60.2 266.9h0M60.9 267.7h0M72.3 255.6h0M51.8 273.6h0M57.2 269.6h0M62.9 263.3h0M54.2 270.9h0M48.1 275.7h0M51 273.8h0M57.6 266.6h0M48.2 275.1h0M51.8 271.6h0M63.4 265.1h0M48.5 276.8h0M68.2 261h0M58.9 265.9h0M69.6 256.9h0M45.8 277.1h0M57.6 264.2h0M50.2 277.8h0M59.1 268.5h0M50.7 268.8h0M57.7 271.3h0M49.7 268.9h0M55.3 268.3h0M55.5 265.7h0M53.9 268.7h0M63.7 262.7h0M63.4 262.4h0M39.8 278.9h0M62.2 266h0M63.4 262.4h0M43.4 278h0M62 267.7h0M53.7 268.9h0M52.6 274h0M61.2 259.8h0M64.9 259.2h0M44.6 274.7h0M54.7 275.8h0M47.3 274.1h0M58.9 267.5h0M51.4 267.8h0M53.1 268.9h0M44.3 278.5h0M44.7 274.2h0M69 259.9h0M67.7 259.3h0M54 270h0M48 276.8h0M58.6 265.5h0M43.5 278.6h0M70.3 259.8h0M63 261.9h0M58.9 267.9h0M60.1 268.5h0M49.1 267.8h0M38.9 281.3h0M47.8 276.8h0M64.9 261.3h0M61.1 264.6h0M57.6 265.8h0M55.9 272.2h0M55.1 269.2h0M66.9 262h0M54.6 270.5h0M49.9 273.9h0M59.4 265.8h0M58.8 267.4h0M51 272.9h0M52 269.1h0M57.7 272.1h0M54.4 268h0M51.8 268.7h0M59.2 263.2h0M64.9 263.6h0M62.7 266h0M53.7 265h0M57.5 269.4h0M44.4 275.7h0M65.6 261.8h0M67.7 260.5h0M58.2 268.2h0M63.3 262.6h0M55.9 269.6h0M58.2 274h0M49.4 270h0M48.6 277h0M54.3 270.5h0M55.9 269.6h0M46.4 276.7h0M54.3 273h0M59.9 261.9h0M50.6 274.5h0M66.7 261.6h0M57.6 270.8h0M39.2 281.6h0M48.6 272.2h0M61.6 264.8h0M58.9 265.8h0M62.7 265.3h0M54.1 272.8h0M52.3 276h0M47.1 275.3h0M49.1 274.4h0M65.9 258.8h0M71.4 258.5h0M59 264.4h0M60.2 258h0M52.6 273.9h0M60.6 272.8h0M50.3 269.7h0M56.3 270.1h0M68 255.4h0M60.1 269.2h0M51.4 271.1h0M48.9 276.2h0M63.9 263.6h0M60.3 268.1h0M57.2 269.9h0M64.7 264.8h0M60.9 264.8h0M60.2 261h0M45.4 280.2h0M56.4 265h0M52.5 271.1h0M56.4 265.9h0M62.4 259.2h0M51.1 276.6h0M59.7 260.9h0M48.2 275.1h0M58.5 265.3h0M57.5 267.9h0M48.8 274.6h0M73.3 253.4h0M50.5 274.8h0M68.1 260.9h0M52.3 271.4h0M58.3 266.1h0M61.6 267.2h0M61.1 264.3h0M58.4 272.3h0M50.3 277.9h0M62.7 263.4h0M54.1 275.1h0M67.1 261.6h0M71.1 253.3h0M57.4 266.5h0M51.8 272.2h0M61.8 265.3h0M54 266h0M62.1 265.3h0M73.5 255.7h0M55.4 265.3h0M52.3 272.2h0M63.3 264h0M65.8 258.3h0M52.1 272.3h0M47.1 274.5h0M67.6 259.7h0M55.4 267.3h0M57.3 267.4h0M49.9 275.5h0M48.9 277.3h0M51.1 265.7h0M45.7 277.6h0M52.8 275.9h0M69.6 262h0M65.4 264.4h0M54.3 273.7h0M53.7 270.4h0M46.9 276.2h0M59.9 265.2h0M49.8 275.9h0M63.7 262h0M64.2 264.5h0M49.6 273.8h0M42.2 278.1h0M58.9 263.6h0M60.5 266h0M41.2 280h0M68.4 258.5h0M56.8 265.7h0M43.4 275.7h0M54.4 267.1h0M54.9 263.2h0M69.4 261.3h0M51.9 272.8h0M51.4 274.5h0M50.6 272.6h0M67.5 260.3h0M52.4 266.9h0M46.3 278.9h0M61 264.6h0M66.7 260.1h0M51.5 272h0M56.3 268.2h0M61.8 264.7h0" stroke="#c4c4c4" stroke-opacity="0.35" stroke-width="1.0" stroke-linecap="round" fill="none"/>
<path d="M55 267.7h0M49.7 270h0M53 267.6h0M45.6 275.3h0M45.9 277.9h0M63.9 260.8h0M69.8 258.6h0M56.3 265.9h0M46.7 275.3h0M64.6 262.6h0M48.1 273.6h0M53.9 272.3h0M55.6 266.5h0M50.1 269.4h0M53.1 272.4h0M46 276.4h0M57.6 269.2h0M51.2 273.7h0M68.2 262.4h0M47.5 275h0M56.2 268.6h0M52.1 273h0M72.1 257.5h0M51.1 271.2h0M61.8 264.2h0M53.9 272.5h0M61.4 266.4h0M57.7 270.1h0M53.4 268.1h0M55.6 265.4h0M65.4 262.4h0M47.3 275.4h0M62.1 263.1h0M59.2 264.8h0M56.8 267.7h0M59.2 263.9h0M50.8 273.1h0M54.8 270.5h0M52.9 268.1h0M62 264.4h0M61.4 263.7h0M56.5 270.9h0M48.3 276.8h0M60.3 265h0M58.5 267.9h0M52.9 271.4h0M49.9 269.8h0M58.6 266.7h0M61.7 265.2h0M62.2 265.2h0M52 273.7h0M52.6 268.5h0M62.3 265.5h0M64.7 264.5h0M49.2 274.3h0M61.3 267h0M51.9 271.7h0M54.9 269h0M56.2 268h0M46.6 275.7h0M57.2 266.6h0M52.5 269.9h0M53.5 273.4h0M62.7 263h0M64.1 268.9h0M51.9 272.5h0M55.1 272.2h0M63.8 262.2h0M60.2 263.6h0M48.3 275.6h0M66.9 259.6h0M52.3 267.6h0M69.6 256.7h0M51.3 271.8h0M64.6 261.9h0M57.2 267.6h0M62.3 263.5h0M58.1 266.6h0M51.7 274.1h0M51.8 269.1h0M54.7 269.6h0M60.8 261.9h0M49.8 273.6h0M58.4 264.2h0M50.6 272.9h0M54.6 265.8h0M53.3 273.3h0M51.8 273.6h0M49.1 276h0M66.5 259.5h0M53.8 271.4h0M50.2 273.8h0M64.8 262.1h0M59 265.8h0M62.6 261.9h0M66.8 260.1h0M53.6 266.7h0M54.9 269.9h0M63.5 260h0M55.7 267.1h0M50.1 273.1h0M53.5 272.1h0M59.9 261.7h0M45.8 276.9h0M55.4 269.3h0M50.5 270.8h0M52.8 270.8h0M51.8 270.9h0M52.3 271.8h0M48.7 270.5h0M57.3 267.7h0M62.4 262.2h0M49.2 271.2h0M61.2 263.2h0M63.1 262.8h0M53.6 266.2h0M53.9 271.6h0M54.3 271.2h0M48.1 276h0M64.2 262.7h0M49.4 272.7h0M53.5 270.8h0M44.6 276.2h0M62.1 264h0M62.5 265.1h0M49.3 271.4h0M60.1 265.4h0M56.8 265.9h0M63.8 263.3h0M63.8 261.8h0M61.4 264.2h0M51.5 271.8h0M47.2 275h0M59.1 267.7h0M49.8 270.9h0M50.9 268.3h0M55.9 273.8h0M57.3 265.7h0M54.9 272.9h0M50.2 272.8h0M55.9 266.8h0M51.3 268.8h0M53.4 272.9h0M65.5 260.7h0M61.9 264.8h0M57.8 266.8h0M65 262.5h0M55.6 268.2h0M62.3 262.5h0M52.7 270.5h0M55.5 271.5h0M59.3 265.7h0M55.5 271.8h0M62.1 268.3h0M62.5 263h0M53.7 269.7h0M59.2 267.8h0M61.8 267.3h0M48.1 274.6h0M48 273.1h0M53 269.5h0M50.1 270.3h0M63.8 261.9h0M62.1 261.8h0M43 277.9h0M62 262.8h0M58.5 264.2h0M65.9 261.5h0M63.3 262.3h0M65 261.6h0M53.7 268.9h0M56.5 265.9h0M50.2 273.2h0M61.2 263.8h0M63.7 265.5h0M49.8 273.6h0M50.9 271.2h0M55.7 263.3h0M61.7 265.8h0M61.2 265.8h0M67.9 258.8h0M65 264h0M58.4 262.9h0M56 267.8h0M47.5 275h0M61.5 263.7h0M57.8 270.5h0M52.6 269.1h0M58.8 269h0M60.9 264.8h0M55.5 271.4h0M61 261.4h0M56.7 262.6h0M66.7 261.1h0M52.2 268.8h0M53.6 266.5h0M60.1 264.2h0M46.6 275.7h0M63.3 260.7h0M57 271.6h0M57.7 265.8h0M59.2 267.7h0M51.1 272h0M46.4 273.7h0M48.6 275.4h0M59.9 267.1h0M64.6 261.9h0M59.1 267h0M59 263.9h0M55.4 268.6h0M56.6 266.2h0M56.8 268.5h0M59 267.5h0M62.7 264.4h0M63.8 264h0M66.1 261.7h0M55.8 273.3h0M65.1 263.6h0M61.7 264.2h0M50.7 273.3h0M54.7 268.6h0M45.3 278.5h0M49.3 271.7h0M60.6 266.1h0M52.5 271.2h0M58.9 266.6h0M61.2 266.1h0M53.3 267h0M70 257.2h0M52 272.9h0M60.1 264h0M70.2 255.2h0M64.9 261.5h0M59.4 266.5h0M56.2 269h0M49.1 273.1h0M66.7 256.9h0M62.8 259.5h0M52.9 272.5h0M54.2 268.6h0M48.2 274.3h0M55.5 267.4h0M48 274.9h0M60.9 267.1h0M61.9 267.1h0M62.1 259h0M67.2 259.7h0M51.3 272.8h0M61.6 261.3h0M50.4 273.9h0M55.4 272h0M57.9 265.7h0M49.7 274.3h0M46.1 274.4h0M50.7 275.3h0M67.3 259.4h0M55.7 270.2h0M64.1 260.9h0M70.4 257.2h0M62.1 259.7h0M56.1 266.7h0M69 258.1h0M51.1 275.4h0M53.1 270.7h0M50.3 274h0M58.1 266.2h0M54.2 268.6h0M51.6 269.1h0M65.2 262.9h0M48 272.8h0M62.1 268.7h0M55.7 268h0M56 269h0M57.4 269.9h0M63.6 263.6h0M66.5 260h0M56.9 273.9h0M44.7 275.3h0M43.3 278.6h0M51.7 273.6h0M44.6 277.1h0M53.8 267.9h0M63.6 261.9h0M59.4 264.7h0M57.6 266.2h0M57.6 267h0M53.6 271.2h0M55.1 267h0M51.3 272.9h0M64.2 260h0M55.2 270.1h0M64.1 263.5h0M50.2 273h0M62.9 263.6h0M54.6 266.9h0M58.2 266.6h0M59.2 269.6h0M63.7 261.2h0M58.3 266h0M59.7 269.4h0M62.8 263.3h0M53.1 270.3h0M58.9 265.1h0M63.9 262.4h0M51.8 275.1h0M55.5 268.6h0M64.2 264.2h0M67.2 262.2h0M59.3 266.2h0M63.3 262.8h0M49.3 272.9h0M61.8 265.2h0M51.6 273.9h0M57.5 264h0M61.1 266.7h0M60.1 264.6h0M53.5 272.6h0M58.6 266.4h0M53.8 268h0M45.8 275.9h0M64.5 263.2h0M54.6 272.6h0M54.8 267.1h0M64.3 264.5h0M53.6 267.6h0M54.1 264.2h0M59.3 269.5h0M58.1 265.2h0M61 263.6h0M64.6 261.3h0M69.3 257.8h0M57.4 265.3h0M49.8 273.8h0M58.3 264.5h0M60.2 264.4h0M53.9 270h0M60.4 266.7h0M65 262.2h0M52.2 270h0M58.2 264.2h0M55.8 267.7h0M56.9 268.2h0M64.9 264.5h0M63.5 264.6h0M51.7 273.6h0M64 260.1h0M51.5 267h0M67.9 259.4h0M51.9 270.5h0M63.9 262.8h0M56.2 270.8h0M50.9 270.9h0M53.1 269.1h0M61.2 264h0M50.5 271.9h0M45.4 276.8h0M58.5 267.9h0M56.3 269.2h0M51.7 271.9h0M56.8 265h0M60.9 265h0M57 266.6h0M69.3 258.2h0M51.8 270h0M60.6 264.5h0M51.8 270.3h0M62.9 263.3h0M63.6 262.6h0M50.9 273.9h0M58.5 265.1h0M54.4 267.6h0M61.8 263.2h0M60.4 265.6h0M56.1 269.2h0M54.5 267h0M53.5 267.8h0M62.4 264.8h0M54.4 271h0M59.8 267.7h0M51.7 271.8h0M50.7 271.3h0M63.9 259.2h0M52.2 272.3h0M61.2 263h0M44.1 275.6h0M60.6 267.3h0M62 262.5h0M65.2 261.1h0M60.7 264.4h0M66.4 259.7h0M44.2 277.2h0M58.7 267h0M52.7 270.5h0M50.3 272.5h0M58 267.5h0M65.7 258.1h0M60.8 265.7h0M50.4 272.9h0M56 266h0M63.4 266.5h0M62 265.4h0M63.5 262.4h0M62.4 262.1h0M59.1 267.7h0M64.8 261.2h0M56 269.5h0M56.9 268.1h0M61.3 262.9h0M62.8 263.9h0M54.3 267h0M53.4 270.3h0M61.1 260.9h0M61.7 264.5h0M51.2 273.6h0M60.1 266.3h0M50.4 270.8h0M63.9 264.9h0M59.2 265.6h0M52.8 267.3h0M63 262.9h0M64 261.1h0M62.9 261.9h0M62.1 266.6h0M53.9 271.9h0M56.1 266.1h0M59.1 267.5h0M52.7 270.5h0M53.1 269.1h0M56.9 269.6h0M55.6 271.4h0M54.3 268.3h0M64.8 264.1h0M53.9 271.2h0M50 272.4h0M55.8 270.2h0M49.4 272.7h0M53.3 270.8h0M48.9 271.8h0M56.9 264.4h0M61 262.1h0M47.1 277.4h0M64 260.9h0M51.2 273h0M69.6 258.6h0M60 263h0M46.9 276h0M63.4 263h0M58.8 269.6h0M53.3 272.6h0M61.6 263h0M58.1 267.1h0M59.7 263.6h0M56 268.7h0M57.4 267.4h0M58.5 266.1h0M55.3 271.1h0M53.1 270h0M51 270.2h0M59.8 265.4h0M57 268.8h0M57 269.3h0M68.1 259.6h0M57.4 271h0M59.8 262.2h0M65.3 261.6h0M61.2 262.3h0M51.7 270.6h0M59.4 263.5h0M54 271.9h0M53.6 270.6h0M50.4 269.6h0M56.6 267.7h0M49.5 274.9h0M62.9 264.8h0M53.1 268.3h0M56.9 268.2h0M55.6 267.5h0M50.7 271.2h0M56.2 267.2h0M66.9 259.7h0M59.4 264.8h0M55.1 267h0M52.9 267.8h0M45.8 277.9h0M51.4 272.8h0M55.9 267.3h0M61 263.5h0M59.4 265h0M63.8 264.2h0M58.9 268.8h0M61.8 267.2h0M54.8 265.8h0M58.7 266.9h0M54.9 268.9h0M54.3 267h0M66.8 259.1h0M49.6 270.6h0M52.3 271.3h0M66.3 261.4h0M51.8 269.3h0M50.6 272.5h0M61.9 263h0M68 262h0M55.8 263.7h0M63.6 262.5h0M62.1 265.7h0M51.4 272.1h0M57.5 265.6h0M61.2 264.2h0M56.8 271.8h0M60 269.1h0M57.5 269.7h0M53 271.1h0M61.8 260.3h0M60.1 264.7h0M63.8 262.8h0M55.4 266h0M52.6 270.5h0M52.7 270.4h0M57.1 264.7h0M63.2 262.4h0M58.7 262.1h0M53.9 269.5h0M54.3 268.4h0M59.5 266.7h0M49.8 269.8h0M61.2 263.8h0M64.2 263.6h0M55 265.9h0M54.4 268.2h0M63.2 260.2h0M61.2 261.6h0M52.5 268.3h0M52.7 270.1h0M58.8 265h0M62.9 266.5h0M56.9 265.2h0M56.1 268.2h0M56.3 270.7h0M65.6 264.4h0M57.7 261.7h0M57.2 269.1h0M52 270.4h0M62.7 263.6h0M50.2 272h0M55.8 265.7h0M55.6 266h0M51.3 271.1h0M49.3 271.6h0M55.1 271.3h0M62.5 264.7h0M55.5 269.1h0M52.5 270.8h0M51.2 269.4h0M53.1 274.1h0M58.8 264.7h0M56.1 267.4h0M64.3 262h0M54.1 271.2h0M58.4 265.1h0M52.8 271.2h0M47 274.1h0M63.9 263.9h0M63.4 262h0M53.5 269.9h0M55.7 271.3h0M57.4 270.4h0M53.4 271.2h0M66.2 259.5h0M52.8 269.7h0M47.6 274.5h0M55.5 273.1h0M52.3 266.9h0M63.6 264.3h0M57.3 268.1h0M60.9 263.6h0M57.6 267.5h0M67.9 261.2h0M56.7 264.9h0M62.3 263.4h0M64.1 262.3h0M59 267.6h0M52.3 270h0M70.2 256.6h0M63.3 264.1h0M63.2 265.4h0M50.1 274.5h0M45.2 276.9h0M60.3 267.4h0M62.8 261.6h0M55.4 268.5h0M52.4 269.7h0M54.4 271.9h0M65.8 262.1h0M67.1 260h0M50.3 271.7h0M59.5 268h0M63.6 261.1h0M62.4 262.6h0M61.6 266h0M65.5 260.3h0M59.1 267h0M54.9 269.5h0M59.1 262.7h0M55.6 273.3h0M59.3 264.7h0M45.9 275.1h0M60.9 266h0M60.4 266.3h0M55.2 272.2h0M51 273.1h0M53.9 266.4h0M62.3 263.1h0M62.6 265.8h0M57.5 265.8h0M55.9 268.4h0M66.3 261.8h0M67.1 261h0M53.6 272.1h0M62.8 263h0M59.6 265h0M49.8 273.1h0M61.4 263.6h0M43.7 277.1h0M63.8 262.8h0M63.2 261.6h0M53.7 268.1h0M53.1 271.6h0M57.5 266.2h0M57.6 264.4h0M53.4 267.3h0M47.5 273h0M52.1 274.2h0M66.2 262.5h0M54.4 270.9h0M50.1 272.1h0M57 264.2h0M59 267.4h0M43.7 275.2h0M55.5 268.6h0M56.8 265.2h0M60.7 265.1h0M54.4 272.8h0M59.5 267.3h0M67.8 258.7h0M54.1 266.1h0M56.3 269.1h0M60.6 265.3h0M49.1 272.4h0M45.5 274.8h0M58.1 267.5h0M51.6 271.4h0M53 271.9h0M60.3 264h0M53.2 268h0M56.6 272.5h0M58 268.9h0M62 266.9h0M54.3 267.8h0M64 263.9h0M54.3 271.9h0M57 267.6h0M68.2 259.7h0M58.6 265.7h0M59.5 268.2h0M59 264.5h0M59.6 265.4h0M58.7 265.9h0M43.6 276.3h0M52.6 266.4h0M49.8 276.2h0M60.7 263.9h0M56.7 263h0M59.7 267.8h0M56.8 264.9h0M62.3 262.6h0M54 270.4h0M57.5 271.7h0M58.7 271.3h0M58.5 263.9h0M57.2 267.7h0M66.5 262.3h0M52.9 270h0M70.6 256.3h0M61 268h0M50.9 271.7h0M53.3 271.5h0M59.6 265.6h0M60.4 263.5h0M55.5 269.8h0M69.2 258.2h0M59 269.1h0M59.1 269h0M59.9 268h0M57.3 265.4h0M52.6 271.9h0M69.5 260.3h0M58 272.3h0M49.9 271.7h0M61.4 261.5h0M63 263.7h0M59.8 263.1h0M60.5 267h0M58.1 269.2h0M57.8 267.9h0M53.9 267.1h0M56.8 268.9h0M50.9 268.6h0M48.9 275.8h0M55.1 267.4h0M64.5 261.6h0M48 274h0M51.8 271.3h0M51.8 271.8h0M59.4 264.6h0M55.9 268.2h0M61.5 262.8h0M62.9 265.5h0M55 267h0M53.5 266.5h0M52.8 268.5h0M55.8 267.7h0M60.4 265.2h0M59.7 265.5h0M57.7 264.6h0M62.4 266h0M62.8 260.9h0M58.1 263.4h0M61.6 263.7h0M53.7 268.6h0M55.8 268.6h0M51.5 272h0M59.3 267h0M57 267.7h0M71.6 257.4h0M57.7 264.1h0M61.5 265.3h0M56.6 268.9h0M57.5 267.5h0M57.8 270.3h0M59.1 265.5h0M58.1 271.5h0M51.6 270.9h0M59.2 266.3h0M60.4 268.1h0M64.2 262.9h0M57.3 267.3h0M56.9 270h0M48.9 272.2h0M53.5 268.4h0M54 272.4h0M44.2 278.2h0M49.3 273.3h0M52.8 268.9h0M48.5 274.4h0M44.4 277h0M65.3 264.4h0M54.6 267.7h0M56 269.4h0M62 262.1h0M60 265.2h0M63.8 261.8h0M55.1 267.2h0M49.5 273.9h0M62.6 265.6h0M58.4 265.6h0M50.7 270.4h0M53.2 271.2h0M55.2 263.7h0M56.3 267.5h0M51 272.3h0M59.4 263.7h0M48.9 273.4h0M58.5 265.9h0M66.6 260.5h0M51.9 273h0M54 271.3h0M59.2 268.8h0M51.9 272.9h0M58.9 264.3h0M63.6 267h0M58.6 264.8h0M57.8 270h0M60.4 268.4h0M54.6 272.1h0M47.7 274.6h0M55 268.2h0M64.1 261.2h0M61.3 268.4h0M61.8 263.2h0M51 268.4h0M60.4 266.9h0M64.1 262.6h0M70.6 258.1h0M43 277.6h0M61.7 263.3h0M64.6 266.6h0M54.7 273.7h0M55.1 265.7h0M58.8 268.4h0M55.3 272.2h0M51.8 271.3h0M62.6 263h0M53.9 270h0M62.8 266.6h0M66.8 263.1h0M55.2 265.2h0M56.5 267.1h0M50.8 271.5h0M56.9 267.9h0M61.9 262.2h0M64.2 262.2h0M62.8 265.6h0M51.1 274.9h0M53.3 271.3h0M64.5 263.5h0M48 274.9h0M64 262.1h0M56.9 268h0M66.7 259.4h0M50.6 270.6h0M53.8 269.6h0M59.2 265.8h0M45.9 274.1h0M62 265.2h0M49.8 274.7h0M71.4 257.2h0M47.7 275.6h0M56.5 267h0M54.8 268.9h0M55.6 266.7h0M54.4 270.9h0M59 263.3h0M55.9 271.8h0M63.1 266.3h0M48.4 272.7h0M43.2 276.2h0M53.9 267.8h0M50.1 271.8h0M57 269.6h0M58.8 262.6h0M65.9 260.3h0M51.2 272.1h0M53.4 267.5h0M66.1 259.8h0M54.2 271h0M67.6 260.2h0M52.3 272.2h0M64.2 262.8h0M60.7 263.9h0M54.9 265.3h0M51.9 269.4h0M59 269.7h0M43.1 277h0M51.6 271.7h0M63.6 261.3h0M53.7 272.6h0M60 266.5h0M61.6 262.8h0M57.9 265.5h0M53 271h0M58.5 263.8h0M53.2 271.8h0M59 267.7h0M54.5 267.8h0M62.5 264.6h0M61.8 262.6h0M62.8 266.4h0M54.5 267.4h0M58.9 266.4h0M59.3 263.1h0M59.7 267.6h0M62.1 265h0M63.8 261.1h0M64.8 262h0M51 271.8h0M59.2 266.7h0M65.5 261.4h0M56.4 272.7h0M54.4 267.9h0M62.4 262.7h0M51.5 269.9h0M63.5 260.9h0M57.4 266.3h0M55.2 267.2h0M58.8 267.7h0M63.3 262.2h0M49 271.3h0M54.4 263.7h0M65.3 261.4h0M56.4 264.9h0M52.7 269.5h0M60.9 263.8h0M61.5 265.3h0M45.6 276.2h0M64.4 261.1h0M57.9 266.7h0M51.7 275.4h0M57.2 269h0M56 271.4h0M65.2 263.4h0M63.6 263.9h0M65.9 261.4h0M59 268h0M49.6 268.6h0M62.3 263.9h0M52.8 270.4h0M50.8 270.9h0M58.6 266.8h0M62.2 263.5h0M61.8 265.4h0M51.5 268.6h0M52.9 270.3h0M56.3 272.8h0M53.7 271.2h0M53.4 271.8h0M50.5 274.3h0M57.9 266h0M51.5 274.8h0M55.3 272h0M51.5 275h0M68 259.3h0M63.8 263.6h0M55.2 269.4h0M49.3 271.4h0M58.8 268h0M56.9 265h0M62.4 263.7h0M61.5 263.7h0M56.8 270.2h0M64.6 260h0M51.4 273.7h0M59.5 265.9h0M52.3 273.2h0M58.6 267h0M59 265h0M59.8 265.9h0M61.9 264.6h0M49 272.7h0M56.9 270.4h0M54.5 272h0M64.5 263.5h0M70.8 257h0M60.5 267.7h0M60.7 267h0M58.1 270.2h0M57.4 263.3h0M63.6 262.3h0M51.7 271.3h0M56.8 270.4h0M59.2 265.9h0M56.1 266.2h0M53 269.9h0M54.6 266.9h0M55.9 270.7h0M60 265.4h0M59.1 265.6h0M50.9 273.9h0M71 257.4h0M63.7 267.4h0M50.4 273.7h0M54.9 268.7h0M47.3 275.1h0M58 263.5h0M55.4 267.9h0M51.8 272.9h0M67.4 260.3h0M64.1 263.6h0M57.5 268.7h0M64.9 260.9h0M54.8 266.2h0M45.6 275.5h0M63 263.8h0M60.2 268.1h0M47.5 276.8h0M58.6 268.3h0M65 260.3h0M52.4 272h0M56.3 266.9h0M55.7 267.1h0M57.6 266.3h0M66.8 258.7h0M60.8 264.9h0M66.1 259.3h0M56.2 272h0M52.9 270.1h0M53.9 268h0M65.8 263.4h0M55.5 267.1h0M49.6 274.4h0M54.6 270.7h0M55.5 270.2h0M56.8 261.7h0M59.2 266.3h0M56.8 267h0M54.9 269.7h0M57.2 260.9h0M58.4 268.9h0M57.4 270.2h0M53.5 273.9h0M62.7 262.6h0M67.1 262.3h0M50 272.9h0M61.2 266.7h0M56.3 265.3h0M64.5 261.7h0M59.6 265.1h0M55.1 266h0M60.7 263.6h0M46.9 276.1h0M58.2 269.1h0M61.1 262.3h0M56.2 268.3h0M56.6 265.6h0M58.8 268.6h0M65.9 263.2h0M59.5 261h0M55.1 268h0M67.1 261.2h0M57.7 268h0M60 264.9h0M66.9 263h0M61.7 263h0M59.9 267.7h0M60.9 263.3h0M63.6 263.9h0M60.4 264.2h0M54.9 264.7h0M56.6 266.9h0M55.3 268.4h0M55.5 269h0M57.2 266.1h0M56.4 267.9h0M60.7 265.8h0M54.3 267.9h0M46.7 273.8h0M58.8 264.3h0M66.7 260h0M54.9 269h0M53.5 269.1h0M56.1 265h0M58 266.7h0M52.9 272.8h0M60.6 267.3h0M52.2 268.9h0M49 271.2h0M47.1 277.3h0M54.7 269.9h0M54 269.7h0M65.4 258.7h0M51.6 272.1h0M52.6 272.4h0M65.7 262.5h0M61.6 263.8h0M62.5 262h0M50 272.6h0M57.2 270.3h0M52.5 273.3h0M51.5 269.5h0M47.3 275.2h0M48.9 274.3h0M57.1 266.7h0M45.6 275.9h0M58.1 263h0M61.4 264.3h0M54.3 270.2h0M61.1 264.5h0M53.4 272h0M53.6 271h0M64.2 264.5h0M67.4 261.1h0M57.9 266.5h0M59 267.4h0M60.4 263.4h0M65.3 259h0M62.2 261.4h0M50.3 272h0M54.1 267h0M60.9 264.5h0M64.5 260.3h0M46.8 276.5h0M57 269.9h0M42.6 277.6h0M60 269.9h0M48.4 271.3h0M56 271.5h0M65.8 259h0M51.8 268h0M51.3 270.3h0M61 267h0M56 270.2h0M58.7 266.7h0M69.1 259.2h0M66.7 260.6h0M62.9 264.1h0M55.9 266.9h0M54.9 269.3h0M54.7 268.8h0M53.9 271.8h0M55.7 268.4h0M57.4 270.3h0M55.5 271.8h0M53.6 273.2h0M60.4 264.1h0M61.1 266.9h0M51.4 271.6h0M58.9 265.8h0M55.6 268.8h0M60 267.1h0M65.8 260.4h0M57.2 271.4h0M54.9 266h0M54.3 269.1h0M62 260.4h0M53.3 270.3h0M61.6 265h0M62.3 263.3h0M57.2 270.3h0M67.8 259.9h0M57.3 265.6h0M70.1 258h0M59.4 262.6h0M63.3 267.8h0M56.1 268h0M66.3 260.2h0M64.1 265.9h0M49.6 272h0M61.5 264.5h0M57.3 267.1h0M58.4 267.4h0M54.1 269.3h0M57.5 264.9h0M57.7 262.5h0M61 264.4h0M51.3 274.3h0M51.9 275.1h0M54.1 272.3h0M58.7 270.2h0M57.1 270h0M53.4 266.4h0M60.1 266.3h0M61.4 267.9h0M51.5 269.1h0M58.1 265.3h0M56.7 268h0M53.4 272.5h0M58.6 270.6h0M59.9 267.8h0M54.8 267.9h0M53.3 268.8h0M60.1 265.6h0M49.5 270.8h0M50.5 269.3h0M50.6 269.8h0M60.4 262.8h0M53.7 270h0M58 268h0M62.4 264.7h0M56.5 270.8h0M58.8 264.8h0M65.3 259.5h0M61.4 267h0M58.3 267.5h0M58.7 267.9h0M58.6 266.5h0M59.7 261.9h0M58.5 265.9h0M69.1 258.7h0M54 271.3h0M53.8 267.6h0M56.2 269.5h0M65.2 263.1h0M58.5 266.2h0M59.8 268.3h0M57.8 269.7h0M52.6 271.1h0M62.5 264.8h0M57.9 265.8h0M46.4 275.3h0M51.9 270.9h0M66.1 259.6h0M62.3 263.6h0M50.8 272.6h0M60.6 262.6h0M50.1 272.4h0M61 263.4h0M60.3 266.2h0M57.9 268.1h0M64.6 261.5h0M58.1 264.5h0M52.9 270.7h0M61.5 263h0M49.8 274.7h0M70.1 255.1h0M51.1 272.5h0M59.2 264h0M60.4 267.5h0M56.4 269.7h0M57 265.6h0M53.1 269.5h0M66 262.6h0M57 264.2h0M54 269.2h0M45.9 276.2h0M57.6 264.4h0M54.3 268.8h0M68.6 259.6h0M61.9 264.1h0M50.5 274.2h0M51.5 268.2h0M61.2 263.8h0M57.9 268.3h0M56.4 269.1h0M64.6 261.3h0M55.2 269.1h0M60.7 264.1h0M57 266.1h0M57.4 268.6h0M52.3 271h0M48.2 273.4h0M58.3 267.9h0M51.1 272h0M52.1 272h0M59.3 266.9h0M54.5 266.4h0M52.7 268.3h0M53.3 270.5h0M63 261.9h0M52.9 271.2h0M46.3 278.3h0M49 275.4h0M63.8 264.1h0M57.5 269h0M56.3 270.3h0M52.7 269.4h0M59 265.2h0M60.4 263.4h0M57.8 264.9h0M59.1 271.1h0M50 271h0M47.8 274.5h0M66.4 259.8h0M62.5 263.1h0M55.5 272.9h0M62 260.6h0M51.9 272.4h0M60.8 264.3h0M59.7 266.8h0M56.3 270.4h0M53 272.2h0M62.8 263.6h0M55.2 269h0M44.5 277.6h0M47.5 271.9h0M60.9 263h0M59.4 266h0M46.4 274.6h0M56.2 269.4h0M56.3 265.3h0M54.3 270h0M49.5 272.7h0M52 267.2h0M67.9 260.5h0M55.5 270.8h0M52.5 273.9h0M55.2 269.3h0M54 270.2h0M59.2 266.1h0M53.1 272.1h0M60.5 265h0M62.7 262h0M64.6 261.6h0M65.7 260.3h0M56 268.9h0M64.8 264.2h0M53.9 268.6h0M62.8 265.6h0M61 263.9h0M64.6 261.8h0M58.9 267.6h0M51.7 267.1h0M59.3 267.5h0M60.4 266.3h0M59.3 268.2h0M59.6 269.1h0M58.5 268.4h0M54.4 270.3h0M59.9 265.8h0M66.2 260.6h0M64.1 262.8h0M62.8 261.6h0M56.2 270.4h0M52.9 271.6h0M60.7 265.2h0M60.3 266.3h0M56.3 269.1h0M53.8 269.2h0M48 274.5h0M47.4 275.1h0M57.3 265h0" stroke="#c2c2c2" stroke-opacity="0.72" stroke-width="1.1" stroke-linecap="round" fill="none"/>
<path d="M108.3 218.3h0M107.7 218.3h0" stroke="#e03a34" stroke-opacity="0.45" stroke-width="1.0" stroke-linecap="round" fill="none"/>
<path d="M65.3 248.3h0M59 256.5h0M59.4 256.3h0M65.3 255.2h0M67.6 255h0M68.6 256.4h0M71.5 256.2h0M71.7 256h0M74.6 254h0M77.4 252.5h0" stroke="#e01818" stroke-opacity="1" stroke-width="1.2" stroke-linecap="round" fill="none"/>
<path d="M67.6 251.7h0M65.8 252.6h0M63.5 253.6h0M61.1 254.3h0M72.3 258.7h0M62 256.8h0M70 254.2h0" stroke="#e03a34" stroke-opacity="0.5" stroke-width="1.0" stroke-linecap="round" fill="none"/>
<path d="M37.6 285.2h0M34.7 284.9h0M36.8 285.8h0M42.7 284.8h0M28.5 291h0M38.4 283h0M40.1 286.7h0M38.6 286.4h0M41.4 281.4h0M27.6 293h0M42.5 278.4h0M35.6 284.7h0M38 284.5h0M41.7 281h0M44.3 277.4h0M40.1 287.7h0M37.1 286.1h0M37.5 290.5h0M40.7 282h0M28.6 290.7h0M38.7 280.4h0M35.3 287.1h0M26.1 291.6h0M28.8 287.8h0M39.7 285.3h0M41.7 280.9h0M37.9 281.3h0M30.8 289.9h0M34.4 284.9h0M28.5 290h0M45.4 276.1h0M33.2 289.4h0M27.9 289.7h0M38.2 286.2h0M38.1 287.5h0M36.8 284.9h0M39.3 284.2h0M29.5 288.1h0M36.2 286.1h0M31 287.6h0M33.9 287.5h0M35.6 287h0M38 282.7h0M34.7 284.3h0M38.1 285.7h0M31.2 285.6h0M39.1 283.2h0M37.2 285.7h0M39.4 285.1h0M33.2 283.5h0M34.6 286h0M35.5 286.7h0M36.9 287.3h0M34.2 286.8h0M37.1 288.7h0M31.9 286.5h0M35.9 287h0M36.9 284.7h0M28.8 286.6h0M35.9 285.3h0M45.2 280.4h0M39.7 285h0M32 286h0M36.5 287.9h0M41 281.4h0M32.2 289.7h0M41 280.5h0M43.6 279.4h0M40.2 282.6h0M35 285.2h0M40.6 283.8h0M40.4 282.3h0M34.9 290.1h0M44.6 279.8h0M33 290.2h0M40.4 281.3h0M42.5 281.6h0M40.3 283.6h0M34.5 282h0M37.1 281.3h0M39.5 281.5h0M32.9 282h0M46.8 280.7h0M42.6 281.9h0M40.9 280.6h0M41.9 281.5h0M44.3 282.2h0M37.9 277.7h0M44.4 281.8h0M40.5 280.5h0M47.4 282.8h0M40.3 280.8h0M41.7 282.8h0M41.5 282.3h0M40.8 281.6h0M36.3 281.3h0M40.2 281.1h0M39.3 281.6h0M38.3 281h0M36.1 284h0M37.4 279.8h0M38.4 280.7h0M36.8 278.3h0M44.9 282.4h0M38.9 281.9h0M36.7 279.3h0M41 281.9h0M38 281.2h0M30.9 281h0M43.1 281.4h0M40.5 281.9h0M33.8 279.7h0M36.2 281.5h0M54.6 300.6h0M36.8 306.8h0M28.6 305h0M52.6 290.7h0M57 287h0M45 289h0M33 296h0M47 292h0" stroke="#2a2ae6" stroke-opacity="0.85" stroke-width="1.0" stroke-linecap="round" fill="none"/>
<ellipse cx="39.6" cy="291.8" rx="23.2" ry="18.8" fill="none" stroke="#4646b8" stroke-width="0.65"/>
<text class="t" transform="translate(202.8 187.5) scale(0.925 1)">CBD vs. Model</text><text class="t" transform="translate(202.8 196.6) scale(0.925 1)">in the InN</text>
<path d="M149.0 213.6V310.6" stroke="#777" stroke-width="1.2" fill="none"/>
<path d="M148.4 310.2H246.0" stroke="#333" stroke-width="0.9" fill="none"/>
<g stroke="#2a2a2a" stroke-width="0.85" stroke-dasharray="1.05 1.52" fill="none"><path d="M203.1 213.6V310.2"/><path d="M149.0 274.5H245.0"/></g>
<text class="s" x="161.2" y="314.8" text-anchor="middle">-0.2</text>
<text class="s" x="182.6" y="314.8" text-anchor="middle">-0.1</text>
<text class="s" x="203.0" y="314.8" text-anchor="middle">0.0</text>
<text class="s" x="224.4" y="314.8" text-anchor="middle">0.1</text>
<text class="s" x="147.4" y="241.3" text-anchor="end">0.5</text>
<text class="s" x="147.4" y="275.3" text-anchor="end">0.0</text>
<text class="s" x="147.4" y="308.4" text-anchor="end">-0.5</text>
<text class="a" x="198.8" y="319.2" text-anchor="middle">Difference</text>
<text class="a" transform="translate(140.3 259.7) rotate(-90)" text-anchor="middle">avg_logFC</text>
<text class="s" x="249.8" y="254.3">threshold</text>
<circle cx="252.7" cy="259.1" r="0.45" fill="#ccc"/>
<text class="s" x="256.2" y="260.4">none</text>
<circle cx="252.7" cy="264.2" r="0.45" fill="#e8524a"/>
<text class="s" x="256.2" y="265.6">up</text>
<circle cx="252.7" cy="269.4" r="0.45" fill="#5a5ae0"/>
<text class="s" x="256.2" y="270.7">down</text>
<path d="M193.1 273.9h0M209.4 268.3h0M214 272.7h0M185.7 282.6h0M213.7 270.7h0M206.1 272.9h0M209.2 271.6h0M192.1 284.3h0M210 267.2h0M193.2 279.3h0M197.8 279.6h0M208.8 269.6h0M195.9 271.9h0M196.4 274.7h0M197.8 278.9h0M210.3 282.7h0M193.4 278.9h0M191.6 281.3h0M201.4 279h0M186.2 288.8h0M206.7 269.1h0M196.3 279.4h0M206.3 270.7h0M200.7 275.6h0M193 282.1h0M207.1 270.9h0M192 281.9h0M201.7 276.1h0M199.9 279.3h0M212.8 269.3h0M206.4 276.2h0M201.3 274.3h0M189.5 283.8h0M211.1 264.6h0M206.6 266.5h0M208.1 277.3h0M200.1 271.1h0M204.2 272.3h0M208 268.2h0M186.1 284.8h0M209 273.2h0M204.4 272.8h0M207.6 269.6h0M198.4 278h0M210.7 266.4h0M205.1 269.7h0M195.8 279.7h0M189 281.3h0M190.6 280.9h0M197.9 285.7h0M207.4 270.8h0M186.6 278.2h0M204.7 270.1h0M210.5 266.9h0M189.5 281.6h0M186.5 281.6h0M207.3 268.7h0M207 268.8h0M198.9 274.6h0M196 276.5h0M215 264.8h0M187.1 290.2h0M214.7 268.8h0M200.7 274.8h0M198 277.9h0M206 271.5h0M193.1 277.6h0M219 267h0M190.1 281.2h0M202.7 276.4h0M201.4 275.9h0M207.2 275.1h0M192.2 285.3h0M206.8 273.1h0M188.4 283.9h0M200.8 277.9h0M209.1 271.8h0M192.5 285.6h0M204.3 276.6h0M200.4 272.8h0M209 272.1h0M197.6 276.8h0M212.3 268.4h0M218.7 265.7h0M190.2 277.8h0M212.9 268.4h0M199.2 275.3h0M200.5 282.4h0M197.9 271.8h0M209.6 268.5h0M204.3 271.2h0M197.9 269.6h0M205.3 269.3h0M199.3 277.7h0M209.5 261.7h0M201.9 276.7h0M209.2 266h0M205.5 273.5h0M208.9 267.1h0M199.4 274.2h0M213.5 269.7h0M198 276.9h0M202.1 270.7h0M202.8 277.5h0M207.4 267.9h0M196.3 278.2h0M190 284.3h0M200.4 270.1h0M198.8 274.1h0M198.1 273.8h0M212.1 263.8h0M208.9 270.1h0M214.2 265.3h0M202.2 274.6h0M189.5 290.8h0M199.6 274.9h0M192.3 281.1h0M214.5 262.8h0M207.7 274.3h0M209.3 267.6h0M187.9 286.1h0M206.3 270h0M201.7 281.5h0M188 283.2h0M194.1 274.3h0M194.8 276.8h0M209.7 262.9h0M190.9 283.5h0M186 279.9h0M194.6 275.3h0M193.6 280.1h0M204.7 269.9h0M201.1 278h0M202.2 277.3h0M198 279.2h0M210.6 263.5h0M198.4 275.9h0M201.3 276.9h0M191.3 282.6h0M199.2 281.8h0M187.5 287.1h0M197.7 274.9h0M202.6 273.2h0M202.7 275h0M211.8 266h0M212.8 258.7h0M219.5 265h0M215.9 264.9h0M202.5 270.3h0M211.9 263.6h0M194.9 279.8h0M204.5 274h0M191.1 281.5h0M208.3 274.3h0M209.3 270.6h0M198.6 275h0M197.2 277.8h0M205.6 270h0M218.7 259.6h0M208.7 268.9h0M199.9 274.6h0M214.9 264.1h0M206.9 271.4h0M209.4 271.1h0M215.4 262.6h0M197.4 283.8h0M213.2 266.5h0M199.8 277.1h0M212.2 264.6h0M214.5 265.1h0M198 276h0M183.8 288.8h0M189.5 282.1h0M194.4 281h0M208.3 270.1h0M204.3 274.5h0M216.8 265.3h0M215.6 264.3h0M203.8 270.8h0M205.6 268.8h0M204.9 270.1h0M200.9 279.9h0M204.6 275.7h0M196.4 271.6h0M214.6 264.7h0M197.8 281h0M190.7 280.5h0M210.9 265.8h0M211.3 266.7h0M200.1 276.2h0M199.3 280.4h0M211.6 267.7h0M208.1 272h0M214.5 260.8h0M212.3 270h0M199.1 276.7h0M201 279.9h0M192.7 283.3h0M214 267.5h0M196.9 276.7h0M182 286.7h0M210 265.6h0M187.1 284.8h0M189.4 285.2h0M195.7 282.4h0M198.2 271.8h0M194 278.2h0M196.5 282.9h0M193.6 281.9h0M197.7 279.8h0M187 280.9h0M208.9 274.7h0M189.3 283h0M195.8 275.8h0M210.5 268.5h0M189.4 283.2h0M212.5 264.6h0M195.9 276.1h0M202.3 272.2h0M208.4 267h0M189.7 285h0M194.7 280.8h0M203.1 271.3h0M199.4 278.4h0M194.5 279.5h0M198.8 278.9h0M203 276h0M215.9 263.5h0M200 277.4h0M219.9 260.4h0M218.4 265.9h0M192.2 278.2h0M207.9 275.3h0M202.9 274.4h0M220.6 261.7h0M218.8 259.6h0M215.1 263.2h0M180.9 287.8h0M198.1 277.1h0M209.6 271.4h0M205.1 269.3h0M218.7 265.8h0M201.3 272.6h0M201.3 274h0M196.3 278.6h0M197.8 280h0M197.6 279.6h0M205.1 272.8h0M204.6 268.6h0M197 280.8h0M201.3 273.4h0M218.7 265.3h0M200.5 277.8h0M210.6 273.8h0M210.6 267.7h0M197.6 273.4h0M205.8 275.1h0M199.7 278.8h0M202.2 272.6h0M192.8 284.8h0M204.7 268.3h0M193.9 281.3h0M210.3 274.1h0M184.3 292.4h0M203.8 273.7h0M204.7 271.1h0M201.8 278.9h0M187.5 284.8h0M203.8 266.8h0M203.8 279.4h0M206.6 273.9h0M208.4 270.6h0M203.6 270.1h0M204 280.6h0M191.6 281.6h0M190.7 281h0M193.5 276.2h0M202.3 270.4h0M209.9 275.6h0M196.6 270.4h0M201.6 276.4h0M206 276.3h0M200.1 269.2h0M213.9 263h0M201.7 276h0M194.3 280.5h0M212.7 261.6h0M186.6 284.6h0M198.1 272.5h0M182.7 291h0M203 268.8h0M206.9 270.7h0M200.9 270.2h0M200.9 277.2h0M185.1 284.1h0M213.7 272.6h0M207.7 270.1h0M191.8 280.8h0M200.6 277.3h0M204.3 282.4h0M210.4 261.5h0M191.6 282.2h0M211.3 269.1h0M190.3 287.3h0M211.7 277.1h0M209.6 270.5h0M214.3 264h0M195.6 275.3h0M205 274h0M212.5 272h0M209.6 273.6h0M198.1 273.4h0M210.1 272.3h0M213.1 265.7h0M197.5 276.4h0M205 272.1h0M201 276.2h0M200.3 277.1h0M194.2 274.3h0M203.1 281.3h0M196.9 281.7h0M212.6 264.9h0M199.8 266.8h0M209.7 274.7h0M199.8 268h0M195.8 276.2h0M203.6 274.5h0M198 276.2h0M196.2 280.9h0M204.4 274.1h0M198.7 278.8h0M200.1 277.1h0M199.4 273.7h0M189.7 277.1h0M191.3 283.9h0M186.3 283.7h0M208.8 283.9h0M198 272.9h0M209.5 276.9h0M194.2 284.5h0M192.1 281.5h0M198.1 280.3h0M190.2 284.2h0M205 274.6h0M206 272.2h0M186.5 284.9h0M195 281.6h0M200.4 276.3h0M211.2 267.3h0M217.6 265.6h0M188.6 282.5h0M211.6 265.7h0M211.3 265.7h0M203.1 278h0M188.8 284.5h0M198.5 277.7h0M217.3 264.7h0M192.1 285h0M198.5 277.7h0M211.4 266.5h0M210.5 268.9h0M193.8 279.4h0M192.4 285.5h0M205.3 276h0M194 283.4h0M192.3 282.6h0M200.7 272.9h0M204.7 272.6h0M193.4 278.2h0M193.1 285.6h0M202.6 272.6h0M206.4 268h0M192.7 282.6h0M216 265.1h0M206.8 278.2h0M193.5 290.5h0M192.5 281.2h0M188.7 280.3h0M204.7 282.4h0M192.9 279h0M202.4 270.1h0M201.4 278.3h0M183 287.7h0M198.5 275h0M197.4 270.4h0M197.3 275.9h0M195.4 283.9h0M220.2 263.4h0M197.1 283.3h0M204.8 269.3h0M206.1 269.3h0M208.6 273.2h0M210.1 264.9h0M200.9 275.3h0M192.2 283.1h0M205.4 266.8h0M195.3 275.2h0M189.4 280.2h0M212.7 264.4h0M200.5 279.5h0M213.1 271.2h0M185.3 289h0M186.1 284.3h0M197.4 275.7h0M218.6 261.8h0M211.7 266.7h0M202.5 276.3h0M206.7 273h0M187.9 286.4h0M205.9 274h0M202.4 275.9h0M192.7 285.2h0M193.9 285.2h0M210.6 268h0M201 278.4h0M197.1 273.3h0M202 269.5h0M201.5 281.9h0M208.1 268.3h0M200.1 273.2h0M199 270.6h0M207.9 270.2h0M195.6 276.8h0M197.2 276.2h0M196 277.1h0M214.6 267.4h0M206.4 272.7h0M188.1 276.7h0M216.4 266.1h0M204.4 273.8h0M203.8 273.2h0M195.5 270.5h0M207.1 270.9h0M211.1 268.8h0M200.6 277.9h0M202.8 272.1h0M197.9 275.9h0M198.5 275.3h0M215.5 274.6h0M203.2 278.2h0M180.4 281.6h0M197.5 277.2h0M193.1 276.2h0M193.6 278.9h0M202.7 272.6h0M190.8 281.5h0M214.1 262.9h0M204.5 276.7h0M193.9 278.4h0M211.8 265.5h0M203.6 273.8h0M204.2 274.8h0M195.2 270.6h0M194 280.9h0M189.8 282.5h0M215.3 265.5h0M196.6 279h0M208.1 264h0M190.2 281h0M198.1 277.1h0M197.2 278.4h0M200.4 270.8h0M194.4 275.4h0M205 273.4h0M206 268.2h0M193.3 272.3h0M198.8 270h0M207 275.1h0M207 273.3h0M204.7 274h0M212.2 271.5h0M218.9 261.2h0M210.6 271.3h0M206.2 272.5h0M192.9 284.9h0M193.3 278.6h0M195.7 281.2h0M194.5 281.7h0M207 271.2h0M200.2 278.2h0M212.5 265.2h0M192 279.8h0M194.1 279.5h0M196.2 269.3h0M213.2 263.6h0M194.7 272.2h0M183.7 285.1h0M205.6 275.3h0M186.8 286.4h0M214.5 264.4h0M210.4 269.4h0M195.8 282.6h0M197.4 279.2h0M198.2 276.5h0M205.9 277.1h0M186 282.9h0M204.8 276.5h0M200 275.2h0M209.4 275.1h0M191.5 276.5h0M201.1 278.3h0M192.5 285.2h0M211.4 270.4h0M192.5 276.8h0M208.1 271h0M205.5 266.9h0M213.4 269.4h0M199.5 276.3h0M207.3 273.4h0M199.4 274.4h0M195.1 283.1h0M196.3 265h0M204 270.8h0M190 281.7h0M190.1 281.9h0M198.1 279.3h0M190.1 277.1h0M194.2 275.2h0M208.2 269.2h0M186 283.7h0M201.7 274.6h0M185.6 286.2h0M206.4 275.1h0M211.4 267.1h0M190 282.2h0M206.1 268.1h0M211.6 264.3h0M193.4 283.6h0M201.7 276h0M199.4 276.6h0M200.2 282.8h0M207.5 270h0M207.7 273.5h0M197.7 278.3h0M202.7 271.7h0M194.8 279.1h0M198.6 275.4h0M185 287.3h0M207.9 270.4h0M218.3 265h0M197.6 275.1h0M205.7 270.3h0M187.9 285.2h0M199 275.9h0M207.7 271h0M218.8 260.1h0M201.7 275.9h0M197.2 276.1h0M215.4 260.4h0M201.8 267.9h0M201.4 267.5h0M193.5 284.5h0M215.7 264.8h0M211 268.7h0M192 280.7h0M190.6 282.6h0M201.5 275.4h0M207.6 268h0M181.7 286.3h0M190.7 281.6h0M198.2 277.1h0M213.7 266h0M192.3 280.6h0M194.1 279.5h0M204.9 268.1h0M211.2 274.4h0M217.4 268.3h0M200.1 270.3h0M219 261.8h0M203.3 272.1h0M195 281.8h0M188 280.4h0M206 270.1h0M195.7 280.9h0M213.6 265h0M201.9 276.8h0M211.7 271h0M206.6 268.6h0M206.5 271.2h0M189.4 287.6h0M209.4 274.3h0M202.9 276.9h0M201.7 275.4h0M209.8 268.9h0M207.1 270.6h0M213.4 268.3h0M190.4 288.2h0M204.8 270.5h0M200.3 283.3h0M203.8 275.3h0M206 269.3h0M219.9 267.7h0M197.4 282.1h0M187.7 284h0M202.6 274.3h0M207.6 271.9h0M204.9 271.8h0M203.5 271.2h0M218.7 262.3h0M212.7 267h0M200.4 275h0M194.4 287h0M205.7 272.2h0M200.5 280.6h0M198.3 275.4h0M200.3 281.7h0M204.4 272.2h0M198.9 281.6h0M203.8 271.8h0M211.1 270.9h0M195.5 283.3h0M210.8 267.2h0M192.5 285.1h0M198.7 276.1h0M199.1 275.6h0M207.2 266.7h0M208.6 274.1h0M212.1 269.5h0M203.9 272.3h0M199.3 272.9h0M216 263.8h0M194.9 282.7h0M215.2 265.7h0M197.2 273.6h0M207 269.9h0M197.5 280.1h0M192.3 284.1h0M180.8 288.6h0M189.6 282.9h0M206.5 266.5h0M212.4 264.6h0M199.8 280h0M198.5 282.5h0M200.1 275.5h0M195.9 283.1h0M200.5 273.6h0M193 278.9h0M199.8 273.2h0M208.7 269.5h0M197.7 279.5h0M210.8 261.3h0M207.1 275h0M204.8 275.8h0M188 282.5h0M210.3 268.1h0M203.8 275.8h0M206 273.4h0M197.3 276.8h0M212.2 265.4h0M189.4 282.7h0M212.6 273.1h0M202.1 272h0M207.7 271.5h0M212.8 268.3h0M209.2 271.1h0M203.9 269.7h0M203.8 279.7h0M214.7 268.3h0M205.1 271.8h0M204.4 271.5h0M210.6 267.1h0M192.9 275.4h0M213.9 263.4h0M195.5 280.8h0M218 264.7h0M200.3 278h0M194.7 279h0M202.3 274.4h0M209.5 271h0M219 264.5h0M200.2 276.9h0M193.9 278.4h0M201.1 279.2h0M193.6 275.1h0M191.6 278.1h0M200 274.9h0M191.1 280h0M199.3 278.1h0M209.5 274h0M201.1 277.7h0M200.6 271.2h0M200.6 283.7h0M203.9 279.8h0M211.8 273.3h0M202.3 278.1h0M197.5 273.6h0M193 282.7h0M189.2 285.2h0M195.4 280.7h0M191.9 284.8h0M197.3 272.1h0M190.2 283.5h0M188.9 285.3h0M204.9 270h0M215.9 269h0M205.6 273.8h0M205.6 271h0M212.2 265.4h0M181.1 290h0M207.3 273.9h0M195.1 284.4h0M196.3 281.1h0M208.5 270.5h0M210.7 266.5h0M219.8 262.8h0M203.4 283.6h0M198.9 270.3h0M216.3 269h0M195.5 275.7h0M211.6 267.8h0M193.3 279.4h0M204.6 276.7h0M214.2 263.7h0M212.6 262.1h0M207.8 269.9h0M204.9 270.8h0M196.7 279.6h0M208 262.8h0M201.7 273.2h0M191 278.2h0M207.4 272.7h0M204 265.9h0M188.5 282.7h0M201.7 281.6h0M199.1 277.3h0M213.1 272.2h0M205.8 273.2h0M217.7 261.9h0M186.1 284.2h0M201.9 279.8h0M207 275.7h0M203 274.1h0M195.1 275.2h0M207 272.3h0M205.9 269.8h0M199.3 278.1h0M210.7 275.6h0M196.5 282.2h0M209 268.5h0M203.1 273.6h0M218.6 270.2h0M204.3 272h0M210.8 269.8h0M202 277.7h0M208.7 268.3h0M205.4 264.2h0M190.9 281.8h0M200.7 269.9h0M213.9 264.7h0M203.3 273.6h0M207.4 268.6h0M206.9 268.1h0M190.5 284.7h0M205.1 275.9h0M186 286.7h0M196.4 278.1h0M198.1 276.1h0M198.3 281.1h0M185.3 282h0M208.7 277.5h0M194.2 277.2h0M190.7 279.6h0M213.6 268.3h0M210.2 269.8h0M203 271.7h0M195 282h0M222.4 258.7h0M211.6 265.3h0M205.7 278.8h0M202.7 276.7h0M200.7 282.6h0M192.7 283.4h0M200.5 276.6h0M207.5 275.6h0M211.2 271.6h0M203.2 269.7h0M215.7 269.5h0M207.6 273.6h0M197.4 272.4h0M209.1 266.9h0M219 264h0M200.7 273.1h0M201.1 271.3h0M201.9 280.9h0M203 281.1h0M202.1 276.3h0M193.8 279.6h0M195.8 273.9h0M219.1 263.7h0M199.3 272.3h0M200.3 271.6h0M193.7 280.2h0M217.9 258.2h0M205.8 269.8h0M190.1 282.9h0M201.5 271.9h0M218.2 264h0M194.1 274.4h0M202.6 271.5h0M209.4 265.6h0M211.9 265.8h0M203.5 272.3h0M209.6 273h0M196.1 275.5h0M219.8 264h0M219.9 263.9h0M206.5 277.6h0M195.9 277.5h0M200.1 278.5h0M194.7 279.2h0M194.7 279.1h0M213.6 269.5h0M205.2 282.1h0M197.1 279.8h0M194.3 271.9h0M194.1 284.4h0M192.3 290.3h0M201.8 275.8h0M213.1 266.4h0M195.8 276.9h0M195.2 281.5h0M199.2 278.5h0M188.8 282.9h0M220.4 261.9h0M203.7 278h0M207.5 276.3h0M193.5 283.3h0M194.3 282.5h0M213.7 263.3h0M206.5 273.1h0M196.4 279.6h0M194.7 283.3h0M209.5 268.5h0M212 275.9h0M197.2 270.7h0M204.1 271.3h0M197 281.5h0M211.5 269.7h0M214.9 263.2h0M199.3 278.2h0M204.6 271.9h0M200.7 271.7h0M206 275.9h0M197.7 279.8h0M200.5 275.1h0M206 277.8h0M207.7 273h0M199.2 268h0M210 268.6h0M201.9 272.6h0M191.3 287.1h0M219.7 266.1h0M187.3 287h0M191.8 281.5h0M196.6 276.2h0M194.7 278.2h0M211.4 273.5h0M209.9 268.7h0M200.4 274.8h0M200.7 273h0M202.2 277.9h0M198.6 273.9h0M201.2 275.5h0M200.9 274.3h0M207.9 270h0M194.5 282.1h0M197.4 280.8h0M209.8 270.6h0M202.1 269.2h0M200.6 276.1h0M205.5 267.9h0M197.8 271.5h0M203.7 273.6h0M206.3 278.1h0M207.9 269.5h0M196.4 277.1h0M210.2 271.8h0M197.6 277.4h0M199.7 278.9h0M202.3 271.5h0M196.8 283h0M187.5 279.5h0M219 260.5h0M210.5 270.2h0M211.3 271.6h0M198.1 277.3h0M211.6 269.3h0M194.3 277.5h0M190.1 284.1h0M194.8 274.1h0M197.9 278.7h0M203.3 272.7h0M204.8 275h0M190.5 280.3h0M211.8 269.8h0M188.9 281.9h0M215.8 266.6h0M202.8 277.9h0M216.1 268.5h0M188.2 280.7h0M197.7 277.5h0M199.5 277.3h0M216.6 267.1h0M210.8 268h0M217.1 264.7h0M204.2 272.8h0M189.1 290.1h0M203.7 276.9h0M221.6 259.6h0M193.7 284h0M202.5 270.5h0M210.6 268.2h0M189.8 274.8h0M194.2 281.6h0M194.7 283.1h0M221.7 260.8h0M204 272.7h0M209.7 268.9h0M213.5 270.8h0M208 266.8h0M207.5 269.5h0M206.7 274.8h0M196.8 279.1h0M213.7 263.3h0M201.9 277.5h0M202.1 278.5h0M191 277.6h0M205.2 271.6h0M206.6 274.7h0M210.8 266.9h0M195.3 272.1h0M194.1 281.2h0M201.3 269.3h0M208.9 269.2h0M211.2 266.6h0M208.8 265.8h0M184.9 284.8h0M209 270.8h0M185.9 286.8h0M210.9 274h0M209.8 270.5h0M188.9 285.3h0M184.6 286.5h0M197.2 274.4h0M193.1 280.6h0M206.1 269.1h0M206.1 274.2h0M205.6 279.5h0M198.1 274.6h0M187 288.5h0M207.8 269.6h0M204.6 272.1h0M209.7 268.8h0M204 272.7h0M190.8 275.2h0M204.7 268h0M206.8 273.4h0M217.6 260.9h0M205.2 275.8h0M195.3 277.3h0M209.7 276.5h0M213.1 269.5h0M194.8 282h0M210.1 264.4h0M201.9 273.8h0M204.8 266.2h0M208.3 269.9h0M195.9 270.9h0M183.4 286.8h0M208.6 271.2h0M205.9 265.7h0M206.4 276.5h0M189.6 285.6h0M196.7 280.3h0M200 269.6h0M195 283.9h0M203.5 278.3h0M206.7 274.4h0M199.1 277.5h0M200.5 279h0M199 280.7h0M214.2 262h0M201.7 276.9h0M219.2 265.1h0M199.6 269.4h0M208.5 267.7h0M204.6 274.2h0M191.4 285.6h0M211.1 269.8h0M208 271.4h0M189.2 282.4h0M208.7 268.4h0M203.1 275.2h0M203.4 274.5h0M206.4 271.3h0M192.1 280.9h0M209.4 266.8h0M206.8 272.1h0M189.8 273.8h0M200.5 272.5h0M198.3 280.6h0M196 280.1h0M203.5 274.2h0M217 258.2h0M210.3 267.9h0M198.5 274.6h0M202.6 274.3h0M196.8 283.9h0M195.4 278.9h0M191.3 282.9h0M207.2 274.7h0M209.9 267h0M216 263.9h0M218.1 267.7h0M196.7 274.4h0M209.3 274.3h0M207.5 274.5h0M208.8 272.7h0M213.2 265.3h0M189.6 283.3h0M193.3 276.8h0M202 277.3h0M184.1 283.5h0M207.6 267.3h0M201.1 280.2h0M212.4 268h0M202.1 264.6h0M207.6 271.7h0M190.3 283.7h0M205.9 271.2h0M210.5 271.3h0M202.1 273.4h0M193.6 284.4h0M197.7 278.8h0M216.6 266.1h0M190.9 282.4h0M193.1 275.2h0M196.1 280.9h0M204.7 271.7h0M201.5 270.4h0M195.2 279h0M208.5 268.6h0M201.3 276.3h0M213.1 262.5h0M207.1 271.4h0M202 275.5h0M184.9 287.2h0M197.8 272.9h0M209.3 268.7h0M200.5 278.5h0M192.9 278.8h0M210.7 271.1h0M219.1 260.7h0M187.3 280.8h0M191.9 282.3h0M198.8 274.3h0M192.2 279.4h0M201.1 279.7h0M209.9 273.6h0M210.5 270.9h0M213 267.8h0M217.1 266.7h0M218.2 263.2h0M199.5 285.1h0M200.6 277.5h0M197.6 275.2h0M203.9 269h0M203.3 279h0M204.7 275.7h0M208.3 271.2h0M204.2 275.3h0M194.6 281.9h0M191.6 279.7h0M194.7 275.1h0M185.5 287.7h0M207.6 272.8h0M221.5 260.5h0M207.3 268h0M206.3 267.3h0M218 260.1h0M199.8 278.9h0M184.6 290.7h0M194.1 281h0M210.8 268.5h0M209.4 267.4h0M203.5 265.6h0M214.3 263.5h0M194.6 280h0M215.9 262.2h0M201.2 273.7h0M191.9 277.6h0M208.4 272.3h0M195.9 279.8h0M206.6 272.5h0M200.7 275.6h0M202.5 270.1h0M202.3 277.4h0M199.4 281.1h0M198 273.3h0M197 273h0M204.6 266.9h0M201.7 273.8h0M200.2 277.5h0M203.5 271.3h0M208.4 268.2h0M212 271.6h0M207 274.3h0M191.2 284.2h0M188.8 283.7h0M203.6 263.9h0M194 277.7h0M193.9 280.6h0M205.6 267.7h0M193.5 274.2h0M192.4 274.2h0M189.6 285h0M208.3 267.1h0M203.7 270.4h0M214 271.3h0M193.7 278.3h0M200.9 281.3h0M215 264.8h0M204.5 266.7h0M199 275.6h0M201.3 276.2h0M187.5 282h0M217.5 258.3h0M203.9 276.1h0M206.2 271.6h0M187.9 283.4h0M192 288h0M206.4 274.1h0M203 272.2h0M213.2 269.2h0M208.3 272h0M207.7 269.3h0M205.7 272.1h0M201.2 277.7h0M217.1 257.8h0M213.3 264.8h0M210.3 264.9h0M202.5 278.3h0M202.1 275.9h0M190.1 279.4h0M216.1 264.6h0M198.6 271.4h0M191.7 278.5h0M201.4 274.5h0M195.7 276.6h0M205.2 276.9h0M188.1 280.1h0M209 264.4h0M198.8 277.3h0M214.2 259.4h0M203.3 277.7h0M201.7 271.5h0M199.9 268.1h0M211.6 272.5h0M201.7 277.9h0M195.2 284.4h0M195 276.8h0M192.4 275.4h0M211.2 274.8h0M189.3 283.3h0M204.9 270.3h0M188.9 285.2h0M210.9 268.3h0M192.2 280.7h0M185.1 286.8h0M214.3 269h0M202.1 276.2h0M197.7 278.1h0M197.1 278.7h0M197.8 278.3h0M208 270h0M191.5 283.8h0M199 274.8h0M205.5 268.9h0M211 269.7h0M194.8 277.3h0M199.3 273h0M206.6 263.5h0M202.6 272.7h0M193.5 282.9h0M198.6 278.7h0M197.7 276.6h0M208.2 273.4h0M210.6 268.1h0M214.4 264.3h0M187.4 279.5h0M188.2 282.1h0M187 286.5h0M202.2 274.2h0M203.9 272.7h0M199.2 275.3h0M200.2 271.3h0M215.4 269.4h0M206.6 280.1h0M195 282.7h0M188.8 286h0M197.2 281.5h0M204.8 276.2h0M208.2 271.8h0M202.5 280.2h0M206 273.4h0M214.1 264.8h0M218.6 265.3h0M200 270.3h0M212.1 266h0M203.1 274.2h0M211.3 269.8h0M185.3 285h0M205.4 272.7h0M209.9 270.7h0M215.1 262.7h0M213.9 266.9h0M205.9 274.2h0M200.4 278.4h0M201.6 277.6h0M197.4 282h0M187.9 283h0M202.1 275.4h0M194.5 278.7h0M206.2 275.4h0M212.5 265.2h0M200.9 274.1h0M188.2 283.4h0M209.8 264.4h0M213.1 272.4h0M199.1 267.4h0M208.6 275.8h0M199.5 281.1h0M209.7 271.7h0M209.3 271.3h0M209.6 273.4h0M206.7 273.5h0M205.9 272.2h0M191.7 275.7h0M191.5 277.9h0M190.7 285h0M201.7 279.8h0M208 268.5h0M205 271.5h0M208.3 277.8h0M217.7 266.7h0M207.8 277h0M210.7 271.1h0M191 280.7h0M203.1 272.8h0M194.1 273.1h0M195.4 279h0M202.8 269.8h0M204.3 279.9h0M199.8 268.5h0M200.5 275.6h0M213.4 266.7h0M214.5 266.3h0M214.3 269.8h0M215.7 265h0M214.4 279.4h0M191.8 282.7h0M205 269.7h0M209 268.8h0M209.3 269.8h0M195.7 282.7h0M220.7 263.2h0M201.4 268.4h0M204.8 272.3h0M192 275.2h0M207.7 273.9h0M212.1 275.1h0M186.1 287.2h0M204.6 278.3h0M200 272.2h0M202.4 275.9h0M194.4 277.3h0M206 274.9h0M201 277.1h0M197.1 276.8h0M205.6 275.6h0M215.7 264.1h0M209.5 276.3h0M208.7 268.3h0M203.1 268.4h0M183 286.5h0M193.6 275.9h0M210.3 266.9h0M203 274.1h0M198.2 272.8h0M216.3 258.6h0M203.2 276.5h0M200.2 275.5h0M205.2 273h0M201.2 279.2h0M209.1 274.8h0M199.2 268.7h0M187.1 284h0M203.2 267.6h0M199.4 281h0M203.7 270.5h0" stroke="#c4c4c4" stroke-opacity="0.33" stroke-width="1.0" stroke-linecap="round" fill="none"/>
<path d="M200.8 274.9h0M198.4 275.5h0M197.8 277.4h0M212.3 269.1h0M196.2 283h0M198.7 272.1h0M192.5 281h0M201.9 272h0M196.3 277.4h0M203.8 274.3h0M201.8 267.7h0M198.1 277.3h0M204.6 274h0M193.9 282.8h0M193.9 279.1h0M197.9 275.4h0M197.6 278.9h0M206.5 271.3h0M193 278.9h0M201.6 275.2h0M197.7 276.2h0M201.3 273.4h0M186.3 284.1h0M211.7 268.4h0M195.1 280.6h0M201.2 272h0M205.3 269.8h0M199.6 275.6h0M202 272.5h0M203.1 273h0M203 274.1h0M195.8 274.6h0M202.6 277h0M203.6 273.2h0M195.5 275.5h0M193 278.2h0M197.1 273.1h0M198.4 271.8h0M205.1 271.4h0M190.4 281.1h0M203.2 274h0M205.5 270.3h0M200.1 274.4h0M203.6 270.7h0M200.6 275.2h0M197.8 273.8h0M209.8 269.1h0M198.2 281.3h0M195.7 276.1h0M199.9 276.8h0M211.5 269.7h0M204.7 272h0M204.3 270.1h0M197.8 278.2h0M202.8 273.8h0M195.6 279h0M193.8 281.7h0M200.5 273h0M202.1 281.2h0M198.8 279.5h0M208 269.4h0M201.5 271.4h0M193.8 280.2h0M199.4 277.1h0M207.4 269.5h0M204.7 272.3h0M202 272.3h0M203.3 274h0M201.1 273.1h0M191.6 279h0M211.5 268.9h0M203.5 273.5h0M201.4 276.2h0M206.7 269.7h0M204.4 274.7h0M191.1 279.8h0M196.5 274.7h0M197.6 274.6h0M199.6 276.8h0M194.5 279.4h0M209.7 268.6h0M193.5 278.6h0M207.9 268.8h0M198.6 278.3h0M195.7 275.5h0M205 271.6h0M198.1 277.8h0M209 271.1h0M202.6 274.7h0M202.4 269.5h0M210.5 266.2h0M197 275.2h0M196.9 280.1h0M200.5 273.1h0M190.7 282.3h0M199.6 272.5h0M198.2 271.2h0M203.6 269.4h0M204.4 272.3h0M187.9 282.1h0M198.4 278.4h0M205.6 272.8h0M210.9 266.7h0M195.9 273.1h0M195.9 279.5h0M195.3 276.4h0M204.1 266.3h0M210.9 270.1h0M191.2 282.5h0M202.6 276.1h0M199.2 275.5h0M209 267.3h0M204.6 273.6h0M201.9 276.4h0M205.4 273.5h0M190.3 280.2h0M204.6 275.1h0M209.8 268.1h0M195.6 275.6h0M189.4 282h0M204.7 271.6h0M192.5 280.4h0M200.6 272.6h0M210.4 268.6h0M207.9 269.7h0M196.8 280.1h0M207.2 268.6h0M194.3 281.1h0M196.5 274.7h0M201.6 275.7h0M196.9 277.5h0M208 271.1h0M192.8 281.9h0M212.6 267.7h0M201.3 275.3h0M191.5 280.2h0M200.9 280.1h0M200 272.4h0M212.5 268.5h0M191.4 281.1h0M192.3 282.8h0M189.3 286h0M193.9 277.2h0M214.3 265.7h0M204.6 274.3h0M196.5 279.9h0M200.4 276.4h0M204.6 275.8h0M192.3 277.8h0M208.1 275.4h0M204.4 271.6h0M203.8 269.3h0M199.6 270.7h0M203 275.1h0M210.9 266.3h0M208.4 272.3h0M194.8 278.3h0M189.6 281.2h0M201.3 268.8h0M200.5 276.8h0M207.3 264.6h0M202.8 271.5h0M186.9 283.1h0M204.8 271.7h0M205.1 270.7h0M204.1 269.8h0M195.4 278.2h0M192.1 283.3h0M198.6 273.5h0M195.1 276.4h0M201.6 273h0M205.1 268.7h0M198.8 271.7h0M200.3 278.6h0M201.9 276.4h0M199.5 272.4h0M194.8 276.3h0M203.7 273.2h0M212.1 268.1h0M195.7 278.6h0M198.7 281.8h0M198.5 279.2h0M194.2 281.1h0M193.6 278.8h0M202.6 273.7h0M200.9 274.3h0M196.2 277.7h0M199.7 272.7h0M205 272h0M198.5 279.6h0M195.6 273.4h0M208.5 268.2h0M210.5 268.5h0M197.4 279.8h0M205.3 273.8h0M203.8 277h0M206.5 269.7h0M192.4 280.6h0M200.4 272h0M202.3 277.8h0M200 278.2h0M194.7 276.7h0M206.7 269.9h0M204 275.2h0M209.8 265.5h0M205.1 272.1h0M204.7 276.9h0M199.1 274.1h0M201.8 268.5h0M202.4 271h0M202.3 271.4h0M204.1 271.6h0M197.8 278.2h0M203.9 268.3h0M193.4 279.4h0M200.8 278.2h0M211.2 268h0M207.5 269h0M193.6 280.5h0M192.4 283.8h0M204.4 275.2h0M195.6 274.2h0M200.8 276h0M199.4 274.2h0M201.5 273.5h0M208.3 266.4h0M188.2 283.6h0M200.9 270.2h0M201.7 275.2h0M203.7 273.3h0M195.1 275.1h0M206.6 269.5h0M194.8 282.3h0M202.3 266.4h0M200 270.6h0M207.4 270.6h0M208.7 268.8h0M191.2 281.3h0M199.1 276.6h0M201 276.1h0M193.4 278.7h0M198.7 277.2h0M191.1 281.7h0M214.2 262.1h0M207.6 269.9h0M207.3 270h0M203.3 273.8h0M202.5 270.1h0M203 278.3h0M208.9 266.9h0M195.5 278.1h0M208.6 271h0M194.8 272.7h0M198.7 271.3h0M210 271.2h0M206 272.3h0M207 274.9h0M209.4 271.7h0M193.9 278.5h0M198.1 269.9h0M199.6 275.5h0M204.4 279.4h0M199.8 274.8h0M200.1 274.1h0M193.9 282h0M201.9 274.8h0M200.4 272.6h0M191.5 280.8h0M204.3 271.7h0M204.7 269.8h0M199.7 275.8h0M200.9 275h0M209.4 267.4h0M201.2 272.4h0M204.8 272.3h0M195.7 275.8h0M193.8 279h0M201.5 272.7h0M200.8 275h0M216.2 265.2h0M215.3 264.3h0M205.2 276.9h0M204.4 273.8h0M197.6 275.5h0M205.2 269.9h0M195.5 274.6h0M202.9 272.8h0M203.5 270.4h0M195 281.3h0M202.5 275.7h0M193 277.3h0M204.4 274.7h0M211 271h0M189.5 280.8h0M197.1 275.1h0M198.9 273.7h0M192.5 280.5h0M201 272.2h0M199.6 271.6h0M198.9 275h0M198.5 276.1h0M192.3 277.8h0M197.2 279h0M194.5 276.9h0M212.8 265.3h0M197.8 274.3h0M210.5 268.6h0M205 276h0M192.4 276.9h0M208.3 270.1h0M199.2 277.9h0M203.4 278.4h0M194.1 280.3h0M208.1 271.4h0M198.6 275.1h0M199.6 277.4h0M198.7 275.7h0M207.2 269.6h0M202.5 273h0M198.2 269.9h0M196.1 278.9h0M196.7 276h0M204.8 278.4h0M195.6 276h0M191 282.6h0M199.7 272.9h0M200.1 277.8h0M207.7 270.4h0M209.2 270.8h0M199.5 277.7h0M203.2 275h0M205.8 277h0M194.2 280.2h0M197.4 282.5h0M197.7 275.9h0M201.1 274.3h0M211.4 266.8h0M204.2 275.1h0M209.3 266.4h0M201.3 270.5h0M206 274.6h0M197.8 276h0M208.8 269.7h0M205.5 270h0M198.9 274.9h0M209.1 265.4h0M200.2 279.2h0M199.3 272.4h0M202.4 272.8h0M201.2 275.7h0M204.2 268.4h0M204.5 276.2h0M193.1 279.9h0M195 280.3h0M195.8 277.4h0M199.4 276.9h0M192 277.9h0M204.2 276h0M198.8 277.2h0M203 273.3h0M200.3 273.3h0M201.4 277.6h0M205.6 274.6h0M197 277.6h0M195.8 274.8h0M206.3 269.9h0M200.7 270.6h0M199.6 275.1h0M200.3 277.8h0M204.1 272.5h0M202 272.4h0M196.7 276.9h0M195 278.4h0M202.1 276.9h0M201.8 280.5h0M198.3 276.8h0M200.2 273.2h0M198.3 271.1h0M207.2 268.5h0M198.5 270.8h0M203 269.6h0M208.2 266.9h0M197.7 278.6h0M206.7 265.8h0M192.7 283.7h0M201.9 269.6h0M199.5 277.4h0M200.9 278.7h0M197.2 277.7h0M209.7 271.5h0M203.4 274.3h0M199.1 275.6h0M198.3 277.4h0M205 269h0M194.3 279.4h0M213.3 265.9h0M201.9 273.6h0M190.6 280.6h0M208.1 264.8h0M210.8 265h0M215.6 268.5h0M210 267.6h0M204 270.8h0M198.8 276.6h0M204.2 271.2h0M194.3 278.6h0M204.2 270.1h0M201.7 270.2h0M200.2 271.6h0M204.7 269.1h0M202.5 268.1h0M203.8 275.5h0M196.3 278h0M196.6 278.8h0M207.2 272.8h0M210.7 270.2h0M196.9 277.7h0M204.7 272.2h0M195.3 282.9h0M197.8 268.9h0M211.9 266.2h0M213.8 263.3h0M205.4 273.4h0M192.3 280h0M205 273.3h0M200 267.8h0M187.3 285h0M209.2 265.3h0M204.8 274.3h0M193.5 276h0M202.2 272.3h0M200.3 274.3h0M200.9 275.4h0M198 276.5h0M196.7 275.2h0M202.1 271.2h0M204.3 271.9h0M208.3 270.5h0M189.3 282.9h0M205.2 271.6h0M203 276.3h0M203.5 269h0M203.2 275.8h0M200.3 271.1h0M206.5 271.9h0M208.2 269.6h0M203.1 275.5h0M196.6 281.7h0M203.9 273h0M206.7 272.4h0M188.9 284.9h0M199.4 273.2h0M207.7 271.9h0M202.6 271.5h0M200.4 272h0M198.2 278.7h0M210.4 265.9h0M195.1 272.8h0M197.9 272.9h0M201.9 273.1h0M201.3 274.3h0M198.5 276.5h0M199.8 273.2h0M198.5 274.6h0M193.2 280h0M190.2 283.2h0M201.2 274.7h0M209.3 270.5h0M199 276.8h0M208.4 268.7h0M204.1 273.3h0M195.2 279.3h0M198.5 275.5h0M204.7 273.5h0M195.4 277.9h0M198.7 273.4h0M203.2 272.2h0M198 279h0M199.1 272.4h0M200.4 274.3h0M206 277h0M206.4 274.3h0M200.8 275.9h0M204.1 271.8h0M202.1 272.3h0M204.4 269.6h0M208.3 262h0M192.6 280.3h0M203.6 272.9h0M191.7 282h0M196 278.5h0M198.3 275.6h0M190.6 279.3h0M196.5 274.9h0M200.8 270.6h0M203.3 274.3h0M195.5 276h0M200.1 277.2h0M211.9 271h0M202.6 275h0M202.4 273.3h0M194.2 278.5h0M209.6 271.3h0M195.5 274.2h0M212.8 265.8h0M203.8 271.9h0M190.4 282.7h0M194.9 278.1h0M197 276.6h0M217 265h0M187.9 281.2h0M197.3 275.4h0M207.8 273.3h0M197.4 278.5h0M197.2 271.5h0M210.3 271.5h0M196.9 278.9h0M197.9 276.4h0M198.2 276.1h0M200.6 272.9h0M201.2 270.6h0M205.1 269.1h0M190.5 283.6h0M198.4 274.8h0M206.8 270.1h0M213.5 266h0M191.9 280h0M196.7 276.8h0M214 270.1h0M212.1 267.1h0M204.8 272.1h0M188.7 285.6h0M213 264.8h0M200 273h0M198.8 273.6h0M195.6 281.1h0M190.1 284.2h0M193.9 279h0M189.4 284h0M197.8 282.6h0M195.8 278.8h0M204.1 269.7h0M194.9 276.2h0M205 272.3h0M205.9 267.5h0M195.4 278.2h0M198.9 276.8h0M208.3 269.4h0M196.3 277.8h0M196 276.4h0M213.2 266.7h0M212.3 265.8h0M199 272.1h0M203.7 274.5h0M204.1 269.2h0M203.1 275.5h0M199.2 277.6h0M198.1 276.5h0M195.8 274.3h0M196.3 278.3h0M199.4 275.5h0M198.7 278.3h0M200.6 275.8h0M199.9 278.7h0M201.2 275.5h0M215.1 264.8h0M191 280.4h0M201.5 270.4h0M192 280.7h0M192.5 282.7h0M203.5 271.7h0M207.9 267.8h0M194.9 280.9h0M201 273.7h0M207.4 269.4h0M205.5 271.7h0M208.9 269.9h0M200.2 279h0M201.3 279h0M193.5 280h0M187.9 284.8h0M209 267.7h0M203.8 271.7h0M210.4 268.3h0M204.8 274.6h0M192.5 282h0M203.8 276.1h0M202.2 275.3h0M199.5 272.6h0M197.9 276.2h0M193 280.1h0M200.6 279.5h0M199.9 275.6h0M202.8 275.1h0M189.7 279.2h0M210.2 266.1h0M197.1 280.1h0M202 271.5h0M204.5 269.1h0M210.9 266.6h0M203.3 272.7h0M212.2 264.5h0M203.6 278.7h0M188.3 282.8h0M202.6 272.6h0M205.4 274.3h0M193.6 278.4h0M211.3 271.1h0M205.7 273.7h0M196.1 275.7h0M194.3 278.8h0M195.2 280.3h0M197.8 278.1h0M192.8 282.3h0M206.4 273h0M206 277.4h0M207 270.2h0M210.4 266.8h0M204.5 276.8h0M198.5 276.2h0M203 273.5h0M201.3 277.2h0M213.7 264.5h0M192 280h0M191.7 278.4h0M196.3 280.4h0M203.2 275h0M202 276.7h0M200.6 278.4h0M206.7 270.8h0M191.4 279h0M201.3 271.2h0M200 274.7h0M208.7 267.3h0M201.4 272.8h0M197.3 278.3h0M205.3 267.8h0M212.4 270.9h0M202.9 274.6h0M194.6 278.1h0M203 272.8h0M208.5 267h0M200.5 276.3h0M200.5 274.1h0M201.1 275.5h0M192.2 285.7h0M204.4 269.2h0M194.5 276.3h0M201.4 269h0M215.4 263.1h0M195.1 283.3h0M202 275.3h0M199.8 274.6h0M211.8 263h0M201.8 271.7h0M199.1 275.6h0M190.9 283h0M203.2 274.4h0M198.7 278.1h0M199.5 277.7h0M209.9 269.3h0M192.8 280.6h0M197.4 281.8h0M200.7 270.9h0M193.6 282.7h0M195.8 279.2h0M199.1 275.4h0M198.7 276.2h0M210 266.1h0M205 272.9h0M195.9 275.2h0M196.7 279h0M203.7 275.5h0M203.6 272.9h0M201.7 274.6h0M202.5 275.4h0M197.5 279.7h0M210.8 267.1h0M203.1 269.7h0M199.9 271h0M207.2 270h0M209 271.3h0M197.9 278.8h0M212.7 270.6h0M201.4 275.7h0M198.3 278.1h0M206.7 274.2h0M200.5 275h0M204 271.8h0M211.7 262.7h0M190.7 281h0M205.4 271.3h0M201.8 269.7h0M205.5 272.6h0M211.8 268.2h0M196.7 275.6h0M194 278.4h0M202.5 277.1h0M211.2 267.2h0M204.6 271.4h0M194.2 280.6h0M195 274.6h0M198.1 280.3h0M195.9 281.3h0M193.1 280h0M203.8 271.3h0M195.5 278.4h0M211.9 267.9h0M203.3 274.5h0M209.8 271.1h0M198.5 273.7h0M195.5 278.6h0M199.5 275.5h0M200.8 281.2h0M198.9 279.7h0M195.3 276.7h0M193.1 277.7h0M190.8 280.2h0M200.8 276.6h0M191.1 282.5h0M200.6 274.7h0M188.8 284.1h0M206.7 273.3h0M201.3 277.8h0M200.4 272.1h0M205.7 273.7h0M202.6 273.2h0M200.7 276.6h0M190.8 282.5h0M193.1 279.1h0M204.2 275.7h0M199.9 272.5h0M199.7 267.9h0M199.7 273.3h0M198.9 278.7h0M214.3 264.9h0M194.1 281.4h0M201.3 273h0M201 271.2h0M203 274h0M210.7 271.9h0M198 277.6h0M196.7 277.9h0M209 270.1h0M201.9 278.8h0M208.1 272.2h0M203.7 276.4h0M201.6 276.5h0M201.5 274h0M192.9 282.4h0M204 270.6h0M202.5 275.1h0M202.6 267.9h0M209.3 266.3h0M213.8 267.2h0M202.4 274h0M202.5 272.2h0M209.8 266.6h0M197.8 276.2h0M192.7 282.6h0M195.8 281.7h0M209.4 273.2h0M197.3 276.3h0M199.6 277.6h0M195.5 277.7h0M187.3 284.5h0M205.3 277h0M197.4 279.5h0M205.9 273.2h0M190.7 273.8h0M199.6 278.1h0M204.3 276.2h0M213.9 263.9h0M200.8 278.8h0M188.8 278.4h0M203.4 273.6h0M211.3 268.5h0M200.3 273.3h0M190.6 283h0M197.1 276.3h0M200.5 269h0M199.9 273.4h0M213.4 265.2h0M207.1 267.7h0M192.5 282.5h0M197.4 273.3h0M208.4 270.2h0M190.6 281.6h0M213.6 265.4h0M192.1 279.1h0M211.4 270.1h0M203.7 268.6h0M205.4 269.2h0M197.6 275.6h0M208.5 270.2h0M204.3 270.9h0M199.5 278.5h0M197.2 276.5h0M204.5 271.4h0M208 270.7h0M208.2 275.3h0M200.7 280.4h0M192.5 278.9h0M196.2 275.8h0M207.2 273.2h0M215.1 263.3h0M207.6 269.2h0M186.2 277.3h0M196.5 272.2h0M205.5 268.8h0M204.5 270.1h0M203 270.3h0M206.2 275.8h0M201.7 270h0M196.7 278h0M204.8 268.5h0M193.8 275.6h0M212.4 266.7h0M202.7 271.9h0M213.6 266.3h0M202.5 277.1h0M204.6 271.1h0M199.1 275.9h0M208.3 266h0M191.8 282.6h0M209.5 271.8h0M202.9 268.9h0M206.6 270.8h0M193.2 276.2h0M191.9 281.2h0M193.8 280.5h0M201.3 276.2h0M205.6 268.8h0M200 277.3h0M198.7 278.9h0M206.1 273.2h0M198.7 278.3h0M200.3 275.6h0M204.5 270.4h0M197.5 269.6h0M197.9 278.4h0M192.2 275.7h0M192.2 280.2h0M206.1 272.2h0M193 281.1h0M195 281.4h0M202.8 271.3h0M198.3 276.2h0M199.3 278.9h0M202.4 271.8h0M202.2 269.6h0M201.8 272.9h0M197.7 276.7h0M200.6 270.3h0M207.6 278.2h0M205.4 269.7h0M205.8 275.8h0M196.7 281.7h0M201.8 279.4h0M197.6 279.7h0M199.5 279h0M207.1 270.8h0M197.5 279.7h0M202.1 270.5h0M204.5 271.4h0M199.1 272.8h0M203.8 275h0M197.2 279.3h0M190.4 282.4h0M201.5 271.2h0M200.3 270.9h0M213 266.5h0M206.8 267.9h0M187.6 284h0M209.2 268.1h0M208.7 269.8h0M204.8 274.8h0M197.2 276.1h0M208.4 270.1h0M196.6 274.6h0M206.8 263.1h0M206.6 270h0M194 280.5h0M207.2 276.4h0M199.5 268.1h0M196.7 279.5h0M198.3 276.2h0M202.9 277.5h0M203 272.5h0M198.8 278.8h0M197.7 278h0M204.8 273.8h0M206.3 271.3h0M213.7 266.7h0M195.7 275.9h0M198.9 279.6h0M196.6 281.5h0M203 271.3h0M195.3 278.4h0M205.7 270.8h0M205.7 271.4h0M208.8 267.7h0M198.9 272.5h0M198 273.7h0M192.1 280.4h0M202.4 267.3h0M192.2 277.5h0M204.2 273.7h0M202.9 272.5h0M197 277.8h0M195.9 277.5h0M203.3 272h0M205.8 265.7h0M193 282.4h0M197.3 275.8h0M198 276.5h0M200.9 275.6h0M209 273.4h0M188.8 283.1h0M196.4 278.4h0M195.5 278.6h0M202.8 273h0M203.6 274.5h0M195.1 278.6h0M208.5 271.3h0M206 268.7h0M198.7 278.8h0M201.7 274.8h0M200.5 277.5h0M200.9 271.5h0M202.9 272h0M200.6 276.4h0M201.3 272.5h0M193.9 278.5h0M198.8 272.4h0M200.7 281.1h0M197.6 277h0M193.7 279h0M202.9 273.5h0M191.4 281.5h0M196.9 280.2h0M203 277.8h0M201.8 270.5h0M206.2 269.4h0M200.8 274.9h0M195 281.5h0M200.7 271.5h0M193.8 280.7h0M208.8 269.7h0M202.5 272.1h0M208.3 270.5h0M195.8 276.6h0M189.7 284.8h0M201.1 275.6h0M205.8 270.4h0M214 263.4h0M197.8 280.6h0M207.8 271.2h0M200.5 274.7h0M202.7 274.4h0M198.7 278.7h0M211.8 265.6h0M195.4 278.8h0M197.3 280.6h0M196.4 275.8h0M207.4 269.4h0M202.1 275.9h0M208.1 269.8h0M209.6 266.7h0M199.2 277.7h0M202.8 268.4h0M200.4 276.9h0M203 278.5h0M192.3 281.2h0M194.4 275.1h0M199.8 275.1h0M198 274.8h0M205 268.8h0M195.8 274.4h0M206.4 267h0M210.4 265.7h0M203.4 277.8h0M196.6 280.9h0M193.2 279.1h0M205 272.5h0M203.7 273.4h0M208.8 265.3h0M198.4 278.7h0M192 279.5h0M216.6 265.3h0M204.4 272.2h0M199 273.2h0M195 276.3h0M194 279.9h0M202.5 270.7h0M200.1 271.1h0M203 272.1h0M201.2 275h0M209.1 269h0M197.7 277.3h0M204.3 273.6h0M206.5 268.5h0M195 280.3h0M195.2 279.8h0M207.7 266.4h0M196.6 278.6h0M200.5 276.7h0M203.3 273.7h0M202.9 269h0M207 266.9h0M193.1 274.5h0M201.9 274.9h0M197.5 273.8h0M188.1 284.7h0M193.7 278.9h0M202.8 273h0M206 275.2h0M204.6 269.3h0M200.8 273.9h0M196.7 279.1h0M199.3 276.3h0M207.9 274.7h0M198.4 278.2h0M216 266h0M202.3 271.5h0M201.6 272.3h0M196.6 273.1h0M196.9 271.9h0M208.2 270.4h0M198.9 276.1h0M201.8 273.1h0M203 272.5h0M203.2 270.7h0M204.1 277h0M195.4 276.6h0M207.7 270.3h0M202.6 273.8h0M198.2 275.1h0M204.8 272.1h0M206 271.9h0M215.5 264h0M210.4 267.9h0M216.3 264.8h0M198.6 280.2h0M199.1 278.4h0M197.1 278.2h0M204.4 276h0M186.5 281.9h0M208.4 270.8h0M198.4 276.6h0M190.2 281.6h0M198.4 278.6h0M202.8 272.7h0M208.1 267.9h0M206 270.3h0M204 271.5h0M209.9 267.1h0M214.8 265.7h0M195.8 277.2h0M211.4 270h0M194.1 279.9h0M208.3 275.2h0M205.5 270.7h0M207.4 270h0M196.1 277.9h0M199.9 274.7h0M202.6 274.4h0M197.5 278.7h0M192.3 282.1h0M205.1 272.5h0M191.7 280.2h0M203.5 274h0M204.5 268.2h0M203.2 276h0M193 277.5h0M198.3 275.7h0M201.6 277.5h0M200.9 269.3h0M206.6 270.6h0M206.9 270.1h0M210.4 267.9h0M197 274.1h0M207.3 269.6h0M191.4 283h0M207.7 265.2h0M206 272.5h0M213.5 267.6h0M197.5 278.1h0M204.5 268.3h0M211.1 268.1h0M205.9 268.8h0M206.8 270.1h0M199.8 275.4h0M201.9 269.7h0M202.2 274.7h0M193.2 283.5h0M205.4 271.4h0M193.9 277h0M195.1 281h0M196.4 278.4h0M200 277.9h0M210 270.2h0M206.7 273.3h0M210.7 265.8h0M202.1 271.9h0M201.4 273.7h0M203.1 275.3h0M190.8 276h0M204.5 275.2h0M201.1 278.8h0M214.8 264.6h0M200.9 276.3h0M204.1 268.5h0M201.6 268.4h0M195.3 279.3h0M201.6 270.7h0M203.6 276.8h0M192.2 282.2h0M207.5 266.8h0M209 269.9h0M199.6 275.8h0M201.2 274.6h0M199.1 273.8h0M208.9 273.3h0M202.3 278h0M195.2 275.5h0M205.5 272h0M202.8 270.6h0M200.5 278h0M211.1 267.8h0M200.1 267.8h0M199.2 279.5h0M211.9 265h0M203.3 269.4h0M198.3 274.7h0M198.2 273.8h0M206.2 271.4h0M191.9 277.6h0M215.3 265h0M200.8 269.8h0M214.5 263h0M203 273.9h0M197.4 277.4h0M196.2 272.3h0M192.5 279.3h0M199 277.1h0M211.9 266h0M215.2 263.5h0M202.2 272.9h0M191.1 281.5h0M199.3 273.2h0M206.9 271.1h0M198.7 273.7h0M202.6 271.1h0M195.8 277h0M207.4 269.1h0M200.3 274h0M205.3 270.9h0M206.8 269.8h0M206.7 269.5h0M197.6 277.9h0M199.9 273.9h0M210.4 266.6h0M196.5 276.9h0M209.6 265.5h0M209.6 269.2h0M198.8 275h0M194.8 273.8h0M194.3 275.8h0M191.3 280.6h0M204.4 269.6h0M198.7 273.9h0M201.1 275.5h0M210 269.1h0M205.9 274.5h0M206.9 271.3h0M206.4 272.5h0M194.3 277.1h0M200 270.1h0M199.6 274.4h0M204.7 273.5h0M207.7 264.6h0M203.6 273.4h0M210.3 266.4h0M204.2 271.6h0M196.2 278.5h0M207.5 268.8h0M203.8 275.3h0M200.2 274h0M204.2 273.2h0M205.9 274h0M203.1 269.7h0M191.5 281.1h0M212.4 266.1h0M199.4 276.2h0M206.6 273.4h0M194.6 280.7h0M204.1 274.4h0M206.3 265.6h0M208.1 270.3h0M196.7 277.1h0M206.8 266.7h0M208.2 270.9h0M212.1 264.7h0M199.2 278.3h0M200.6 275.8h0M213.7 262.3h0M191.8 282.4h0M202.9 271h0M188.4 284.7h0M201.1 271.9h0M201 272.9h0M195.8 280.2h0M201.1 274.8h0M192.9 278.9h0M198.6 274.7h0M203.1 273.3h0M199.5 275.3h0M204.9 274.9h0M195.8 280.8h0M207.3 272.1h0M198 277.4h0M212.2 263.9h0M205.6 270.6h0M210.9 267.7h0M205.2 269.9h0M200.2 279.7h0M192.9 279.3h0M197.8 273.4h0M203.1 269.7h0M201 274h0M188.1 284.2h0M191.9 281.3h0M186.8 284h0M206.2 271.6h0M209.6 272.5h0M205.1 271.2h0M201.2 276.4h0M192.5 278.4h0M203.6 278.3h0M194.7 279.8h0M197.8 279h0M203 273.1h0M206.1 270.3h0M193.2 284.6h0M200.8 275.8h0M204.6 269.9h0M197.3 275.3h0M205 272.9h0M200.3 271.2h0M194.4 275.7h0M192.1 279.4h0M203.5 274.4h0M191 283.2h0M205.4 276.2h0M204.2 268.4h0M204.2 273h0M201.9 271.9h0M209.6 268.6h0M195.2 273.9h0M197.6 273.1h0M194 283.3h0M202.1 276.9h0M208.4 271.1h0M196.9 274.3h0M200.2 275.6h0M199.7 274.7h0M199.7 271.1h0M205.8 268.1h0M200.4 272.4h0M208.4 267.9h0M195.1 278h0M204.7 268.7h0M192.7 279.4h0M201.7 266.2h0M209.3 274.5h0M201.3 277.3h0M197.6 271.5h0M199.3 277.7h0M194.1 279h0M197.6 278.2h0M215.7 264h0M195.1 282.8h0M198.7 275.1h0M205 274h0M202.8 274.4h0M200.3 271.4h0M206.8 272.8h0M194.1 275h0M197.7 277.6h0M209.6 268.9h0M197.8 276.8h0M201.2 269.9h0M199.6 275.7h0M207.1 271.9h0M211.7 265.3h0M198.3 275h0M207.3 274.9h0M203.1 273.2h0M194.3 276h0M213 265.4h0M211.6 268.3h0M198.8 276.5h0M196.6 279h0M201.8 276h0M209.1 267.2h0M207.3 270.7h0M198.7 276.7h0M209.8 268.2h0M208.3 269.8h0M209.7 267.7h0M200.4 276.5h0M186.7 284h0M210.9 265.7h0M214.9 267h0M197.5 274.8h0M205.4 273.5h0M214.3 267.4h0M198.2 278.6h0M199.8 278.1h0M206.5 274.1h0M202.3 275.8h0M192.5 278.4h0M205.1 271.6h0M209.9 273.3h0M196.2 274.7h0M194.2 277.8h0M209.6 268.9h0M200.7 276.5h0M201 275.1h0M199.7 271.3h0M207.1 270.3h0M200.8 272.9h0M201.1 272.3h0M200.3 274h0M201.8 271.3h0M199.9 274.2h0M195.1 278.7h0M206.2 272.8h0M202.8 273h0M206.5 269.9h0M202.9 268.4h0M193 278.6h0M207.6 269.1h0M202.4 270.4h0M195 285.2h0M212.9 269.7h0M200.2 273.1h0M202.3 272.9h0M194.9 271.9h0M199.2 269.1h0M196 273.9h0M212 264.1h0M199.3 277h0M199.6 276.4h0M206 269.3h0M204.1 272h0M193.5 280.7h0M195.9 280.9h0M201.5 274.8h0M206.2 268.7h0M198.2 280.5h0M206.1 272.1h0M189.1 283.3h0M194.7 277.6h0M189.6 279.4h0M199.1 277.1h0M197.8 276.4h0M203.7 276.9h0M197.8 277.3h0M202.6 275.7h0M192.7 278h0M202.7 281.6h0M199.3 279.4h0M196.7 274.1h0M189.6 283h0M207.5 267.8h0M197.4 273.8h0M198.1 279.2h0M196.7 274.7h0M205.8 271.5h0M204.2 278.3h0M205.1 274.7h0M193.4 279.7h0M210.6 269.1h0M205.8 267.3h0M202.1 278.5h0M208 262.9h0M190.5 284.6h0M208.3 272.4h0M203 275.7h0M207.7 267.3h0M208.7 270.9h0M200.2 279.7h0M210.1 270h0M198.8 277h0M203.6 278h0M198.4 281.4h0M203.5 270.7h0M198.8 280.1h0M202.7 271.3h0M199.7 274.2h0M203.3 278.3h0M196.7 276.7h0M205.7 273.9h0M213.6 264.2h0M198.8 274.9h0M193.4 280h0M196.1 277.5h0M203.4 275.2h0M205.3 279.1h0M204.1 273.9h0M204.4 271.8h0M207.5 270.2h0M192.2 279.7h0M208.9 265.2h0M212.5 266.4h0M204.7 275.6h0M202 272.3h0M186.9 283.7h0M194.7 280.8h0M200.5 271.9h0M209.7 270.3h0M215.6 264.3h0M193.6 280.2h0M207.2 272.4h0M193.4 281.1h0M206.1 271.9h0M190.5 281.2h0M200.2 274.4h0M206.6 269.4h0M187.6 280.1h0M203.2 270.6h0M202.7 276.8h0M197.9 276.7h0M190.8 279.2h0M206.6 273.7h0M196.9 277h0M202.8 271.9h0M201.2 273.2h0M204.4 270.6h0M196.4 273.9h0M194.5 275.3h0M201.9 277h0M192.1 279h0M197 278.7h0M198.9 275.1h0M194.9 278.3h0M197.9 274.4h0M210.8 268.5h0M200.7 275.7h0M216.3 264.3h0M197.8 276.7h0M209.1 269.7h0M199.7 275.8h0M193.8 279h0M198.3 275.7h0M210 268h0M208.7 268.9h0M193 283h0M197.7 276.6h0M209.9 271.4h0M204.2 276.1h0M199 277.8h0M196.7 280.1h0M198.6 278.1h0M195.3 282.1h0M211.4 266.4h0M200.3 272h0M197.9 272.3h0M205.8 270.8h0M208.7 268.9h0M198.6 273.7h0M205.2 271.1h0M192 277.5h0M207.2 269.7h0M200 273.5h0M197.9 276.7h0M200.8 271h0M204.9 266.8h0M203.4 276.2h0M195.4 274.8h0M203.9 270.6h0M203.8 277.6h0M203.3 276.9h0M194 274.7h0M198.3 275.3h0M206.2 271.8h0M187.7 282.1h0M197.5 274.9h0M196.8 276.6h0M200.1 270.5h0M194.3 277h0M208.8 268.4h0M192.4 281.8h0M205.3 267.2h0M194.1 280.6h0M202.5 275.2h0M212.2 267.7h0M207.1 268.8h0M209.5 266.7h0M200.6 268.8h0M199.8 277.6h0M194.9 277.7h0M187.2 283.9h0M193 280.4h0M197.3 275.2h0M198.6 275h0M200.9 273.7h0M209.7 270.6h0M209.6 267.7h0M202.2 270.9h0M205.9 272.5h0M196.2 274.8h0M205.1 272.7h0M192.9 274.9h0M194.7 280h0M208.3 266.9h0M196.2 274.9h0M202.4 271.1h0M212.5 267.3h0M199.4 274.3h0M207.2 268.9h0M199 276.2h0M209.6 271.6h0M197.4 273.5h0M195.3 278.1h0M201.9 266.6h0M205.9 271.9h0M200.5 270.4h0M201.2 272.7h0M196.1 279.5h0M209.4 268.7h0M206.3 273.3h0M200.9 273.2h0M210.1 266.5h0M199.9 276.2h0M197.4 274.3h0M208.2 269.1h0M196.2 276.3h0M206.1 272.9h0M204.3 275.5h0M203.7 277.5h0M205.7 268.1h0M201.3 275.2h0M199.8 272.2h0M204.3 271.8h0M190.8 279.1h0M200.2 277.6h0M201.4 274.7h0M207.1 269.4h0M201.4 273.9h0M206.3 268.9h0M202.8 271h0M203.6 275.9h0M197.1 278.5h0M202.2 274.2h0M204.8 271.9h0M206.9 275.1h0M195.8 275.3h0M206.6 271.4h0M213.2 264.4h0M205.2 269.9h0M197.7 275.1h0M195.3 276.1h0M199.3 275.2h0M203 275.4h0M195.8 278h0M197.1 279.4h0M195.4 277.6h0M198 279.4h0M192.8 277.7h0M198.6 275.1h0M197.2 280.1h0M195.3 272.7h0M198.4 272.3h0M196.8 276.1h0M195.5 277.4h0M199.9 277h0M196.3 276.7h0M210.2 271.8h0M205.8 270.4h0M213.4 265.6h0M208.1 268.1h0M195 281.9h0M194.5 276.7h0M200.8 272h0M205.5 271.4h0M199.2 274.2h0M211.7 269.6h0M206.9 267.2h0M211.6 267h0M212.4 267.2h0M195 274.6h0M198.6 279.4h0M200.6 279.4h0M193.9 281.1h0M198.6 272.2h0M203.1 271.9h0M196.6 271.8h0M194.2 277.9h0M199.2 273.4h0M213.6 264.6h0M202.1 272.8h0M209.8 269.4h0M205.7 267.4h0M202 273.3h0M204.4 270.3h0M200.8 271.8h0M199.5 276.6h0M197 275.1h0M200.8 275.6h0M202.3 270.3h0M197 274.2h0M197.6 282.6h0M209.6 269.8h0M200.6 277.2h0M212.1 268.9h0M204.6 269.4h0M207.1 272.2h0M204 273.3h0M196.6 272.7h0M214.6 269.6h0M205.2 273.3h0M202.4 275.8h0M200.3 274.6h0M203 268.4h0M209.5 267.4h0M205.5 272.8h0M212.7 269.4h0M192.4 278.4h0M200 270.2h0M205 271.2h0M197.6 279.1h0M194.7 277.1h0M202.5 276h0M199.6 274.4h0M201.9 272.6h0M190.9 283.6h0M205.7 274.1h0M202.7 274.6h0M189.8 279.8h0M190.6 284.2h0M198.7 279.7h0M203.3 271.5h0M199.5 273.1h0M199 276.9h0M204.7 270.4h0M192.7 282.8h0M195.3 280.3h0M191 279.8h0M189.6 283.9h0M208.1 278.1h0M212.7 266.2h0M188.5 283.1h0M203.2 273.9h0M200.6 271.6h0M201.9 279.3h0M197.3 276h0M193.1 278.7h0M208.8 269.6h0M197.5 276h0M205.3 269.8h0M195.8 277.4h0M207.4 267.8h0M205.9 270.8h0M206.9 268.8h0M204.1 271.5h0M200 269h0M191.8 276.3h0M202.4 279.7h0M201.1 270.1h0M192 281.8h0M204.6 271.2h0M210.2 268.3h0M214.1 266.4h0M211.4 262.1h0M206.6 272.4h0M210.8 268.6h0M203.9 273.2h0M203.1 274.6h0M209.3 265h0M196.4 273.7h0M197.8 277.5h0M202.7 274.3h0M206.1 271.9h0M198.8 275.7h0M194 278.5h0M201 275.6h0M192.4 283h0M198.3 271.7h0M200.9 276.3h0M201 273.2h0M195.8 278.8h0M202.4 274.3h0M200.3 278.4h0M189.9 282.5h0M189.1 279.1h0M203.3 275.3h0M199.8 276.6h0M201.5 277.5h0M198 278.1h0M200.8 270h0M207.4 268.3h0M193.2 278.5h0M205.7 270h0M204.5 269.4h0M200.1 270h0M200.9 278.2h0M197.9 277.1h0M191.4 284.6h0M200.2 276.4h0M197.1 274.3h0M198.3 275.4h0M194.4 278.9h0M194.4 278.1h0M195.4 279.1h0M202.2 272.7h0M206 275.4h0M203.5 272.8h0M201.1 275.2h0M202.3 267.5h0M215 265.7h0M203.3 270.9h0M199.4 273.2h0M208.7 267.2h0M190.9 281.2h0M196.1 278.3h0M200.8 271.9h0M191.3 280.7h0M192.9 279.7h0M201.6 272.6h0M201.5 272.6h0M209.6 264.5h0M195.7 280.8h0M194.2 280.6h0M199.7 275.1h0M192 279.9h0M197.2 270.7h0M200.5 273.2h0M187.4 284.5h0M196.9 273h0M208 268.8h0M193.1 277.9h0M202.1 271.8h0M203.9 268.9h0M203.2 273.8h0M203.2 270.4h0M193.9 276.6h0M198.7 269.7h0M200.6 278.1h0M200.4 278.5h0M200.4 277.7h0M207 270.8h0M193.5 280.8h0M201.1 273.4h0M200.1 277h0M188.6 284.4h0M209.6 266.7h0M207.4 268.6h0M198.3 275.4h0M199.3 273.3h0M196.7 276.9h0M195 278.6h0M205.7 268.9h0M200.6 272.4h0M193.6 279.7h0M200.2 277.8h0M204.9 271.8h0M198.3 279.8h0M191.9 279.4h0M205.4 272.3h0M204 271.6h0M206.4 273.6h0M189.5 283.7h0M205.1 268.8h0M195.3 279.4h0M204.2 272h0M191 282.1h0M199.4 274.5h0M204.1 266.8h0M200.3 273.1h0M203.6 271.6h0M211 267.5h0M195.3 274.3h0M198.8 275.8h0M210.3 268.4h0M200.3 272.1h0M200.4 271.9h0M192.6 281.4h0M196.1 274.3h0M208.7 271.7h0M201 269.7h0M194.4 276.8h0M206.8 280.2h0M205.8 270.6h0M193.9 276.1h0M196.4 278.2h0M199.7 276.7h0M202.2 270.3h0" stroke="#bfbfbf" stroke-opacity="0.75" stroke-width="1.1" stroke-linecap="round" fill="none"/>
<path d="M228.7 252.4h0M233.1 250.8h0M221.8 253.8h0M230.9 253h0M230.6 254.4h0M225.8 259h0M223.4 253.1h0M230.3 248.9h0M225.7 255.6h0M218.7 250.1h0M215.7 258.6h0M238.3 247.5h0M216.3 252.4h0M233 253.1h0M227.8 250.7h0M227.8 250.7h0M227.2 250.8h0M216.6 254.4h0M226.3 253.8h0M220.8 256.7h0M214.7 251h0M227.4 252.2h0M223.7 252.5h0M227 253.3h0M232 249h0M216.7 255.2h0M222.5 253.2h0M211.5 257.8h0M233.8 251.9h0M231.2 253.1h0M225.5 254.1h0M230.3 253h0M227.8 252.4h0M219.7 255.6h0M221.7 255.6h0M211.1 261.5h0M231.7 255.4h0M226.3 250.2h0M221.8 251.2h0M226.5 252.9h0M225 248.5h0M215.4 250.2h0M232.3 252.6h0M224.4 252.5h0M213.7 255.3h0M221.7 252h0M230 246.8h0M225.1 255.3h0M228.9 248.4h0M207.8 261.4h0M232.5 250.9h0M222.6 254.8h0M240 243.7h0M207.5 246.5h0M211.2 252h0M228 245.2h0" stroke="#e03a34" stroke-opacity="0.8" stroke-width="1.0" stroke-linecap="round" fill="none"/>
<path d="M237.3 218.3h0" stroke="#c09090" stroke-opacity="0.6" stroke-width="1.0" stroke-linecap="round" fill="none"/>
<path d="M180 294.5h0M183.5 292.3h0M189.5 295h0M191.2 292.5h0M195.5 295.5h0M181.5 305.7h0" stroke="#5a5ae0" stroke-opacity="0.8" stroke-width="1.0" stroke-linecap="round" fill="none"/>
<ellipse cx="226.9" cy="239.7" rx="22.4" ry="28.3" fill="none" stroke="#bd84c6" stroke-width="0.8"/>
<text class="p" transform="translate(277.6 11.6) scale(0.925 1)">C</text>
<ellipse cx="392.5" cy="105.7" rx="40.4" ry="41.6" fill="#adc4fa"/>
<ellipse cx="425.8" cy="105.3" rx="40.2" ry="41.6" fill="#f6a59f"/>
<clipPath id="c1"><ellipse cx="392.5" cy="105.7" rx="40.4" ry="41.6"/></clipPath>
<ellipse cx="425.8" cy="105.3" rx="40.2" ry="41.6" fill="#e9c3e8" clip-path="url(#c1)"/>
<ellipse cx="392.5" cy="105.7" rx="40.4" ry="41.6" fill="none" stroke="#9aa0b8" stroke-width="0.55"/>
<ellipse cx="425.8" cy="105.3" rx="40.2" ry="41.6" fill="none" stroke="#b89088" stroke-width="0.55"/>
<text class="n" transform="translate(369.1 107.7) scale(0.93 1)">138</text>
<text class="n" transform="translate(409.1 107.7) scale(0.93 1)">20</text>
<text class="n" transform="translate(449.5 107.7) scale(0.93 1)">1</text>
<text class="t" transform="translate(313.9 88.2) scale(0.925 1)">Model vs. Control</text>
<text class="t" transform="translate(481.4 146.8) scale(0.925 1)">CBD vs. Model</text>
<rect x="465.8" y="68.5" width="5.3" height="5.1" fill="#c9c9f7" stroke="#4a4a88" stroke-width="0.75"/>
<rect x="465.8" y="78.7" width="5.3" height="5.1" fill="#f5a3a0" stroke="#4a4a88" stroke-width="0.75"/>
<text class="l" transform="translate(476 73.1) scale(0.94 1)">downregulated genes</text>
<text class="l" transform="translate(474.9 83.7) scale(0.925 1)">upregulated genes</text>
<text class="p" transform="translate(278.5 185.9) scale(0.96 1)">D</text>
<ellipse cx="392.4" cy="259.4" rx="40.6" ry="41.6" fill="#adc4fa"/>
<ellipse cx="425.65" cy="259.05" rx="40.45" ry="41.45" fill="#f6a59f"/>
<clipPath id="c2"><ellipse cx="392.4" cy="259.4" rx="40.6" ry="41.6"/></clipPath>
<ellipse cx="425.65" cy="259.05" rx="40.45" ry="41.45" fill="#e9c3e8" clip-path="url(#c2)"/>
<ellipse cx="392.4" cy="259.4" rx="40.6" ry="41.6" fill="none" stroke="#9aa0b8" stroke-width="0.55"/>
<ellipse cx="425.65" cy="259.05" rx="40.45" ry="41.45" fill="none" stroke="#b89088" stroke-width="0.55"/>
<text class="n" transform="translate(368.4 261.7) scale(0.93 1)">84</text>
<text class="n" transform="translate(409.2 261.7) scale(0.93 1)">63</text>
<text class="n" transform="translate(449.5 261.7) scale(0.93 1)">7</text>
<text class="t" transform="translate(317.7 239.9) scale(0.925 1)">Model vs. Control</text>
<text class="t" transform="translate(484.6 299) scale(0.925 1)">CBD vs. Model</text>
<rect x="478.1" y="220.2" width="5.3" height="5.1" fill="#c9c9f7" stroke="#4a4a88" stroke-width="0.75"/>
<rect x="478.1" y="230.9" width="5.3" height="5.1" fill="#f5a3a0" stroke="#4a4a88" stroke-width="0.75"/>
<text class="l" transform="translate(488.2 225.2) scale(0.94 1)">downregulated genes</text>
<text class="l" transform="translate(487.3 235.5) scale(0.925 1)">upregulated genes</text>
</svg></body></html>
